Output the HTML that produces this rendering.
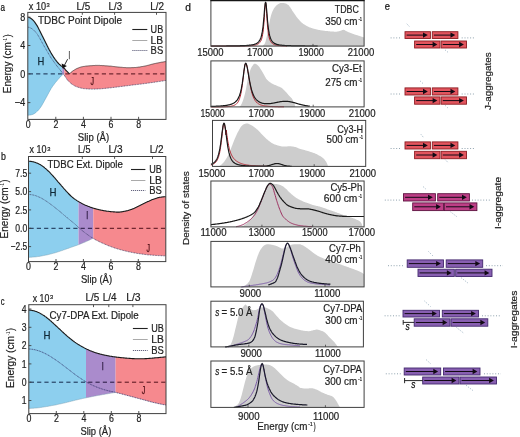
<!DOCTYPE html>
<html lang="en"><head><meta charset="utf-8"><title>Figure</title>
<style>
html,body{margin:0;padding:0;background:#fff;}
svg{display:block;font-family:"Liberation Sans",sans-serif;}
</style></head>
<body>
<svg width="520" height="437" viewBox="0 0 520 437">
<rect x="0" y="0" width="520" height="437" fill="#fff"/>
<polygon points="27.8,17.2 28.2,17.2 28.7,17.3 29.2,17.5 29.7,17.7 29.8,17.7 30.2,17.9 30.7,18.2 31.2,18.6 31.7,19.0 32.2,19.4 32.7,19.9 33.0,20.2 33.2,20.4 33.7,20.9 34.2,21.5 34.7,22.2 35.2,22.9 35.7,23.6 36.2,24.3 36.2,24.4 36.7,25.1 37.2,25.9 37.7,26.8 38.2,27.7 38.6,28.6 39.1,29.5 39.4,30.0 39.6,30.5 40.1,31.4 40.6,32.4 41.1,33.4 41.6,34.4 42.1,35.5 42.6,36.4 42.6,36.5 43.1,37.5 43.6,38.5 44.1,39.5 44.6,40.5 45.1,41.5 45.6,42.5 45.8,42.9 46.1,43.5 46.6,44.5 47.1,45.6 47.6,46.6 48.1,47.6 48.6,48.5 49.0,49.3 49.1,49.5 49.6,50.4 50.1,51.3 50.6,52.2 51.1,53.0 51.6,53.9 52.1,54.7 52.2,54.9 52.6,55.5 53.1,56.3 53.6,57.1 54.1,57.8 54.6,58.5 55.1,59.3 55.4,59.7 55.6,59.9 56.1,60.6 56.6,61.2 57.1,61.9 57.6,62.5 58.1,63.0 58.6,63.6 58.7,63.7 59.1,64.0 59.5,64.5 60.0,64.9 60.5,65.3 61.0,65.7 61.5,66.1 61.9,66.4 62.0,66.5 62.3,66.7 62.3,75.0 61.8,75.4 61.3,75.9 60.8,76.4 60.3,76.9 59.8,77.4 59.6,77.7 59.4,78.0 58.9,78.5 58.4,79.1 57.9,79.6 57.4,80.2 56.9,80.8 56.4,81.4 55.9,82.0 55.8,82.1 55.4,82.6 54.9,83.2 54.4,83.9 53.9,84.6 53.4,85.2 52.9,85.9 52.4,86.6 51.9,87.4 51.4,88.1 51.0,88.8 50.9,88.9 50.5,89.7 50.0,90.5 49.5,91.4 49.0,92.3 48.5,93.3 48.0,94.2 47.5,95.1 47.0,96.0 46.5,97.0 46.2,97.5 46.0,97.9 45.5,98.8 45.0,99.7 44.5,100.6 44.0,101.5 43.5,102.5 43.0,103.3 42.5,104.2 42.0,105.0 41.6,105.8 41.3,106.2 41.1,106.6 40.6,107.3 40.1,108.0 39.6,108.6 39.1,109.3 38.6,109.9 38.1,110.4 37.6,110.9 37.5,111.0 37.1,111.4 36.6,111.8 36.1,112.3 35.6,112.7 35.1,113.1 34.6,113.4 34.1,113.7 33.6,114.0 33.1,114.2 32.7,114.4 32.7,114.4 32.2,114.6 31.7,114.7 31.2,114.8 30.7,114.9 30.2,115.0 29.7,115.1 29.2,115.1 28.7,115.2 28.2,115.2 27.8,115.2" fill="#8dcfee" />
<polygon points="62.3,66.7 62.5,66.9 63.0,67.4 63.5,67.8 64.0,68.2 64.3,68.5 64.3,73.4 63.8,73.8 63.3,74.1 62.8,74.5 62.5,74.8 62.3,75.0 62.3,75.0" fill="#aa8bcc" />
<polygon points="64.3,68.5 64.5,68.7 65.0,69.2 65.5,69.8 66.0,70.3 66.5,70.9 67.0,71.4 67.0,71.4 67.5,71.9 68.0,72.4 68.5,72.9 69.0,73.3 69.5,73.8 70.0,73.3 70.5,72.9 71.0,72.4 71.5,72.0 72.0,71.6 72.5,71.2 72.9,70.9 73.0,70.8 73.5,70.5 74.0,70.2 74.5,69.9 75.0,69.5 75.5,69.3 76.0,69.0 76.5,68.7 77.0,68.5 77.0,68.5 77.5,68.3 78.0,68.1 78.5,67.9 79.0,67.7 79.4,67.5 79.9,67.4 80.4,67.2 80.9,67.1 81.4,66.9 81.9,66.8 82.4,66.7 82.5,66.7 82.9,66.6 83.4,66.5 83.9,66.4 84.4,66.4 84.9,66.3 85.4,66.2 85.9,66.2 86.4,66.1 86.9,66.0 87.4,66.0 87.9,65.9 88.4,65.9 88.9,65.8 89.4,65.8 89.4,65.8 89.9,65.8 90.4,65.7 90.9,65.7 91.4,65.7 91.9,65.6 92.4,65.6 92.9,65.6 93.4,65.5 93.9,65.5 94.4,65.5 94.9,65.5 95.4,65.4 95.9,65.4 96.4,65.4 96.9,65.4 97.4,65.4 97.6,65.4 97.9,65.4 98.4,65.4 98.8,65.4 99.3,65.4 99.8,65.4 100.3,65.5 100.8,65.5 101.3,65.5 101.8,65.5 102.3,65.6 102.8,65.6 103.3,65.6 103.8,65.6 104.3,65.7 104.8,65.7 105.3,65.8 105.8,65.8 106.3,65.8 106.8,65.9 107.3,65.9 107.8,65.9 108.3,66.0 108.6,66.0 108.8,66.0 109.3,66.1 109.8,66.1 110.3,66.1 110.8,66.2 111.3,66.2 111.8,66.3 112.3,66.4 112.8,66.4 113.3,66.5 113.8,66.5 114.3,66.6 114.8,66.6 115.3,66.7 115.8,66.8 116.3,66.8 116.8,66.9 117.3,66.9 117.8,67.0 118.2,67.0 118.7,67.1 119.2,67.1 119.7,67.2 120.0,67.2 120.2,67.2 120.7,67.3 121.2,67.3 121.7,67.3 122.2,67.4 122.7,67.4 123.2,67.5 123.7,67.5 124.2,67.5 124.7,67.6 125.2,67.6 125.7,67.6 126.2,67.7 126.7,67.7 127.2,67.7 127.7,67.7 128.0,67.7 128.2,67.7 128.7,67.7 129.2,67.7 129.7,67.7 130.2,67.7 130.7,67.7 131.2,67.7 131.7,67.6 132.2,67.6 132.7,67.6 133.2,67.6 133.7,67.6 134.2,67.5 134.7,67.5 135.0,67.5 135.2,67.5 135.7,67.5 136.2,67.4 136.7,67.4 137.1,67.3 137.6,67.3 138.1,67.2 138.6,67.1 139.1,67.1 139.6,67.0 140.1,66.9 140.6,66.8 141.1,66.7 141.6,66.6 142.1,66.5 142.6,66.5 143.1,66.4 143.6,66.3 144.1,66.2 144.6,66.1 145.0,66.0 145.1,66.0 145.6,65.9 146.1,65.8 146.6,65.7 147.1,65.5 147.6,65.4 148.1,65.3 148.6,65.2 149.1,65.0 149.6,64.9 150.1,64.8 150.6,64.6 151.1,64.5 151.6,64.3 152.1,64.2 152.6,64.1 153.1,64.0 153.6,63.8 154.1,63.7 154.6,63.6 155.0,63.5 155.1,63.5 155.6,63.4 156.1,63.3 156.5,63.2 157.0,63.1 157.5,63.0 158.0,62.9 158.5,62.8 159.0,62.7 159.5,62.6 160.0,62.5 160.5,62.4 161.0,62.3 161.5,62.2 162.0,62.1 162.5,62.1 163.0,62.0 163.5,61.9 164.0,61.8 164.5,61.7 165.0,61.6 165.5,61.6 166.0,61.5 166.0,80.4 165.5,80.5 165.0,80.6 164.5,80.6 164.0,80.7 163.5,80.8 163.0,80.9 162.5,81.0 162.0,81.0 161.5,81.1 161.0,81.2 160.5,81.3 160.0,81.3 159.5,81.4 159.0,81.5 158.5,81.6 158.0,81.6 157.5,81.7 157.0,81.8 156.5,81.9 156.0,81.9 155.5,82.0 155.0,82.1 154.5,82.2 154.0,82.2 153.5,82.3 153.0,82.4 152.5,82.5 152.0,82.5 151.5,82.6 151.0,82.7 150.5,82.7 150.0,82.8 149.5,82.9 149.0,82.9 148.5,83.0 148.0,83.1 147.5,83.2 147.0,83.2 146.5,83.3 146.0,83.4 145.5,83.4 145.0,83.5 145.0,83.5 144.5,83.6 144.0,83.6 143.5,83.7 143.0,83.8 142.5,83.8 142.0,83.9 141.5,84.0 141.0,84.0 140.5,84.1 140.0,84.1 139.5,84.2 139.0,84.3 138.5,84.3 138.0,84.4 137.5,84.4 137.0,84.5 136.5,84.6 136.0,84.6 135.5,84.7 135.0,84.7 134.5,84.8 134.0,84.9 133.5,84.9 133.0,85.0 132.5,85.0 132.0,85.1 131.6,85.2 131.1,85.2 130.6,85.3 130.1,85.3 129.6,85.4 129.1,85.5 128.6,85.5 128.1,85.6 128.0,85.6 127.6,85.7 127.1,85.7 126.6,85.8 126.1,85.8 125.6,85.9 125.1,86.0 124.6,86.0 124.1,86.1 123.6,86.2 123.1,86.2 122.6,86.3 122.1,86.4 121.6,86.4 121.1,86.5 120.6,86.5 120.1,86.6 119.6,86.7 119.1,86.7 118.6,86.8 118.1,86.9 117.6,86.9 117.1,87.0 116.6,87.1 116.1,87.1 115.6,87.2 115.1,87.2 114.6,87.3 114.1,87.4 113.6,87.4 113.1,87.5 112.6,87.5 112.1,87.6 111.6,87.7 111.1,87.7 110.6,87.8 110.1,87.8 109.6,87.9 109.1,87.9 108.6,88.0 108.6,88.0 108.1,88.1 107.6,88.1 107.1,88.2 106.6,88.2 106.1,88.3 105.6,88.3 105.1,88.4 104.6,88.4 104.1,88.5 103.6,88.5 103.1,88.6 102.6,88.6 102.1,88.7 101.6,88.7 101.1,88.8 100.6,88.8 100.4,88.8 100.1,88.8 99.6,88.8 99.1,88.9 98.6,88.9 98.1,88.9 97.6,88.9 97.1,89.0 96.6,89.0 96.1,89.0 95.6,89.0 95.1,89.0 94.6,89.1 94.1,89.1 93.6,89.1 93.1,89.1 92.6,89.1 92.1,89.1 92.1,89.1 91.6,89.1 91.1,89.1 90.6,89.1 90.1,89.1 89.6,89.0 89.1,89.0 88.6,89.0 88.1,89.0 87.6,88.9 87.1,88.9 86.6,88.8 86.1,88.8 85.6,88.8 85.1,88.7 84.6,88.7 84.1,88.6 83.9,88.6 83.6,88.6 83.1,88.5 82.6,88.4 82.1,88.3 81.6,88.2 81.1,88.1 80.6,88.0 80.1,87.9 79.6,87.7 79.1,87.6 78.6,87.4 78.1,87.3 77.6,87.1 77.1,86.9 77.0,86.9 76.6,86.8 76.1,86.6 75.6,86.3 75.1,86.1 74.6,85.8 74.1,85.6 73.6,85.3 73.1,84.9 72.6,84.6 72.1,84.3 71.6,83.9 71.6,83.9 71.1,83.6 70.6,83.1 70.1,82.7 69.6,82.2 69.1,81.7 68.6,81.2 68.1,80.7 67.6,80.1 67.4,79.8 67.1,79.5 66.6,78.8 66.1,78.0 65.6,77.3 65.1,76.5 64.6,75.7 64.3,75.2" fill="#f6898e" />
<polyline points="27.8,115.2 28.2,115.2 28.7,115.2 29.2,115.1 29.7,115.1 30.2,115.0 30.7,114.9 31.2,114.8 31.7,114.7 32.2,114.6 32.7,114.4 32.7,114.4 33.1,114.2 33.6,114.0 34.1,113.7 34.6,113.4 35.1,113.1 35.6,112.7 36.1,112.3 36.6,111.8 37.1,111.4 37.5,111.0 37.6,110.9 38.1,110.4 38.6,109.9 39.1,109.3 39.6,108.6 40.1,108.0 40.6,107.3 41.1,106.6 41.3,106.2 41.6,105.8 42.0,105.0 42.5,104.2 43.0,103.3 43.5,102.5 44.0,101.5 44.5,100.6 45.0,99.7 45.5,98.8 46.0,97.9 46.2,97.5 46.5,97.0 47.0,96.0 47.5,95.1 48.0,94.2 48.5,93.3 49.0,92.3 49.5,91.4 50.0,90.5 50.5,89.7 50.9,88.9 51.0,88.8 51.4,88.1 51.9,87.4 52.4,86.6 52.9,85.9 53.4,85.2 53.9,84.6 54.4,83.9 54.9,83.2 55.4,82.6 55.8,82.1 55.9,82.0 56.4,81.4 56.9,80.8 57.4,80.2 57.9,79.6 58.4,79.1 58.9,78.5 59.4,78.0 59.6,77.7 59.8,77.4 60.3,76.9 60.8,76.4 61.3,75.9 61.8,75.4 62.3,75.0 62.5,74.8 62.8,74.5 63.3,74.1 63.8,73.8 64.3,73.4" fill="none" stroke="#5a9bb8" stroke-width="0.5" stroke-linejoin="round" />
<polyline points="28.2,27.2 28.7,27.3 29.2,27.4 29.7,27.6 30.2,27.8 30.7,28.1 31.2,28.3 31.4,28.4 31.7,28.6 32.2,28.9 32.7,29.3 33.2,29.7 33.7,30.1 34.2,30.6 34.6,31.0 34.7,31.1 35.2,31.6 35.7,32.2 36.2,32.8 36.7,33.4 37.2,34.1 37.7,34.8 37.8,35.0 38.2,35.6 38.7,36.4 39.2,37.3 39.7,38.2 40.2,39.1 40.7,40.0 41.0,40.6 41.2,40.9 41.7,41.8 42.2,42.7 42.7,43.6 43.2,44.5 43.7,45.4 44.2,46.3 44.2,46.3 44.7,47.1 45.2,48.0 45.7,48.9 46.2,49.7 46.7,50.6 47.2,51.4 47.4,51.8 47.7,52.3 48.2,53.1 48.7,54.0 49.2,54.9 49.7,55.7 50.2,56.5 50.6,57.2 50.7,57.3 51.2,58.1 51.7,58.8 52.2,59.5 52.7,60.2 53.2,60.9 53.7,61.6 53.8,61.8 54.2,62.3 54.7,63.0 55.2,63.7 55.7,64.3 56.2,65.0 56.7,65.7 57.0,66.1 57.2,66.3 57.7,66.9 58.2,67.6 58.7,68.2 59.2,68.8 59.7,69.4 60.2,70.0 60.3,70.2 60.7,70.7 61.2,71.3 61.7,72.0 62.2,72.6 62.7,73.2 62.7,73.3 63.1,73.8 63.6,74.4 64.0,74.8 64.1,75.0 64.6,75.7 65.1,76.5 65.6,77.3 66.1,78.0 66.6,78.8 67.1,79.5 67.4,79.8 67.6,80.1 68.1,80.7 68.6,81.2 69.1,81.7 69.6,82.2 70.1,82.7 70.6,83.1 71.1,83.6 71.6,83.9 71.6,83.9 72.1,84.3 72.6,84.6 73.1,84.9 73.6,85.3 74.1,85.6 74.6,85.8 75.1,86.1 75.6,86.3 76.1,86.6 76.6,86.8 77.0,86.9 77.1,86.9 77.6,87.1 78.1,87.3 78.6,87.4 79.1,87.6 79.6,87.7 80.1,87.9 80.6,88.0 81.1,88.1 81.6,88.2 82.1,88.3 82.6,88.4 83.1,88.5 83.6,88.6 83.9,88.6 84.1,88.6 84.6,88.7 85.1,88.7 85.6,88.8 86.1,88.8 86.6,88.8 87.1,88.9 87.6,88.9 88.1,89.0 88.6,89.0 89.1,89.0 89.6,89.0 90.1,89.1 90.6,89.1 91.1,89.1 91.6,89.1 92.1,89.1 92.1,89.1 92.6,89.1 93.1,89.1 93.6,89.1 94.1,89.1 94.6,89.1 95.1,89.0 95.6,89.0 96.1,89.0 96.6,89.0 97.1,89.0 97.6,88.9 98.1,88.9 98.6,88.9 99.1,88.9 99.6,88.8 100.1,88.8 100.4,88.8 100.6,88.8 101.1,88.8 101.6,88.7 102.1,88.7 102.6,88.6 103.1,88.6 103.6,88.5 104.1,88.5 104.6,88.4 105.1,88.4 105.6,88.3 106.1,88.3 106.6,88.2 107.1,88.2 107.6,88.1 108.1,88.1 108.6,88.0 108.6,88.0 109.1,87.9 109.6,87.9 110.1,87.8 110.6,87.8 111.1,87.7 111.6,87.7 112.1,87.6 112.6,87.5 113.1,87.5 113.6,87.4 114.1,87.4 114.6,87.3 115.1,87.2 115.6,87.2 116.1,87.1 116.6,87.1 117.1,87.0 117.6,86.9 118.1,86.9 118.6,86.8 119.1,86.7 119.6,86.7 120.1,86.6 120.6,86.5 121.1,86.5 121.6,86.4 122.1,86.4 122.6,86.3 123.1,86.2 123.6,86.2 124.1,86.1 124.6,86.0 125.1,86.0 125.6,85.9 126.1,85.8 126.6,85.8 127.1,85.7 127.6,85.7 128.0,85.6 128.1,85.6 128.6,85.5 129.1,85.5 129.6,85.4 130.1,85.3 130.6,85.3 131.1,85.2 131.6,85.2 132.0,85.1 132.5,85.0 133.0,85.0 133.5,84.9 134.0,84.9 134.5,84.8 135.0,84.7 135.5,84.7 136.0,84.6 136.5,84.6 137.0,84.5 137.5,84.4 138.0,84.4 138.5,84.3 139.0,84.3 139.5,84.2 140.0,84.1 140.5,84.1 141.0,84.0 141.5,84.0 142.0,83.9 142.5,83.8 143.0,83.8 143.5,83.7 144.0,83.6 144.5,83.6 145.0,83.5 145.0,83.5 145.5,83.4 146.0,83.4 146.5,83.3 147.0,83.2 147.5,83.2 148.0,83.1 148.5,83.0 149.0,82.9 149.5,82.9 150.0,82.8 150.5,82.7 151.0,82.7 151.5,82.6 152.0,82.5 152.5,82.5 153.0,82.4 153.5,82.3 154.0,82.2 154.5,82.2 155.0,82.1 155.5,82.0 156.0,81.9 156.5,81.9 157.0,81.8 157.5,81.7 158.0,81.6 158.5,81.6 159.0,81.5 159.5,81.4 160.0,81.3 160.5,81.3 161.0,81.2 161.5,81.1 162.0,81.0 162.5,81.0 163.0,80.9 163.5,80.8 164.0,80.7 164.5,80.6 165.0,80.6 165.5,80.5 166.0,80.4" fill="none" stroke="#36365e" stroke-width="0.8" stroke-linejoin="round" stroke-dasharray="0.9,0.7"/>
<polyline points="69.5,73.8 70.0,73.3 70.5,72.9 71.0,72.4 71.5,72.0 72.0,71.6 72.5,71.2 72.9,70.9 73.0,70.8 73.5,70.5 74.0,70.2 74.5,69.9 75.0,69.5 75.5,69.3 76.0,69.0 76.5,68.7 77.0,68.5 77.0,68.5 77.5,68.3 78.0,68.1 78.5,67.9 79.0,67.7 79.4,67.5 79.9,67.4 80.4,67.2 80.9,67.1 81.4,66.9 81.9,66.8 82.4,66.7 82.5,66.7 82.9,66.6 83.4,66.5 83.9,66.4 84.4,66.4 84.9,66.3 85.4,66.2 85.9,66.2 86.4,66.1 86.9,66.0 87.4,66.0 87.9,65.9 88.4,65.9 88.9,65.8 89.4,65.8 89.4,65.8 89.9,65.8 90.4,65.7 90.9,65.7 91.4,65.7 91.9,65.6 92.4,65.6 92.9,65.6 93.4,65.5 93.9,65.5 94.4,65.5 94.9,65.5 95.4,65.4 95.9,65.4 96.4,65.4 96.9,65.4 97.4,65.4 97.6,65.4 97.9,65.4 98.4,65.4 98.8,65.4 99.3,65.4 99.8,65.4 100.3,65.5 100.8,65.5 101.3,65.5 101.8,65.5 102.3,65.6 102.8,65.6 103.3,65.6 103.8,65.6 104.3,65.7 104.8,65.7 105.3,65.8 105.8,65.8 106.3,65.8 106.8,65.9 107.3,65.9 107.8,65.9 108.3,66.0 108.6,66.0 108.8,66.0 109.3,66.1 109.8,66.1 110.3,66.1 110.8,66.2 111.3,66.2 111.8,66.3 112.3,66.4 112.8,66.4 113.3,66.5 113.8,66.5 114.3,66.6 114.8,66.6 115.3,66.7 115.8,66.8 116.3,66.8 116.8,66.9 117.3,66.9 117.8,67.0 118.2,67.0 118.7,67.1 119.2,67.1 119.7,67.2 120.0,67.2 120.2,67.2 120.7,67.3 121.2,67.3 121.7,67.3 122.2,67.4 122.7,67.4 123.2,67.5 123.7,67.5 124.2,67.5 124.7,67.6 125.2,67.6 125.7,67.6 126.2,67.7 126.7,67.7 127.2,67.7 127.7,67.7 128.0,67.7 128.2,67.7 128.7,67.7 129.2,67.7 129.7,67.7 130.2,67.7 130.7,67.7 131.2,67.7 131.7,67.6 132.2,67.6 132.7,67.6 133.2,67.6 133.7,67.6 134.2,67.5 134.7,67.5 135.0,67.5 135.2,67.5 135.7,67.5 136.2,67.4 136.7,67.4 137.1,67.3 137.6,67.3 138.1,67.2 138.6,67.1 139.1,67.1 139.6,67.0 140.1,66.9 140.6,66.8 141.1,66.7 141.6,66.6 142.1,66.5 142.6,66.5 143.1,66.4 143.6,66.3 144.1,66.2 144.6,66.1 145.0,66.0 145.1,66.0 145.6,65.9 146.1,65.8 146.6,65.7 147.1,65.5 147.6,65.4 148.1,65.3 148.6,65.2 149.1,65.0 149.6,64.9 150.1,64.8 150.6,64.6 151.1,64.5 151.6,64.3 152.1,64.2 152.6,64.1 153.1,64.0 153.6,63.8 154.1,63.7 154.6,63.6 155.0,63.5 155.1,63.5 155.6,63.4 156.1,63.3 156.5,63.2 157.0,63.1 157.5,63.0 158.0,62.9 158.5,62.8 159.0,62.7 159.5,62.6 160.0,62.5 160.5,62.4 161.0,62.3 161.5,62.2 162.0,62.1 162.5,62.1 163.0,62.0 163.5,61.9 164.0,61.8 164.5,61.7 165.0,61.6 165.5,61.6 166.0,61.5" fill="none" stroke="#3a2a2a" stroke-width="0.7" stroke-linejoin="round" />
<polyline points="28.2,17.2 28.7,17.3 29.2,17.5 29.7,17.7 29.8,17.7 30.2,17.9 30.7,18.2 31.2,18.6 31.7,19.0 32.2,19.4 32.7,19.9 33.0,20.2 33.2,20.4 33.7,20.9 34.2,21.5 34.7,22.2 35.2,22.9 35.7,23.6 36.2,24.3 36.2,24.4 36.7,25.1 37.2,25.9 37.7,26.8 38.2,27.7 38.6,28.6 39.1,29.5 39.4,30.0 39.6,30.5 40.1,31.4 40.6,32.4 41.1,33.4 41.6,34.4 42.1,35.5 42.6,36.4 42.6,36.5 43.1,37.5 43.6,38.5 44.1,39.5 44.6,40.5 45.1,41.5 45.6,42.5 45.8,42.9 46.1,43.5 46.6,44.5 47.1,45.6 47.6,46.6 48.1,47.6 48.6,48.5 49.0,49.3 49.1,49.5 49.6,50.4 50.1,51.3 50.6,52.2 51.1,53.0 51.6,53.9 52.1,54.7 52.2,54.9 52.6,55.5 53.1,56.3 53.6,57.1 54.1,57.8 54.6,58.5 55.1,59.3 55.4,59.7 55.6,59.9 56.1,60.6 56.6,61.2 57.1,61.9 57.6,62.5 58.1,63.0 58.6,63.6 58.7,63.7 59.1,64.0 59.5,64.5 60.0,64.9 60.5,65.3 61.0,65.7 61.5,66.1 61.9,66.4 62.0,66.5 62.5,66.9 63.0,67.4 63.5,67.8 64.0,68.2 64.3,68.5 64.5,68.7 65.0,69.2 65.5,69.8 66.0,70.3 66.5,70.9 67.0,71.4 67.0,71.4 67.5,71.9 68.0,72.4 68.5,72.9 69.0,73.3 69.5,73.8" fill="none" stroke="#1a1a1a" stroke-width="1.15" stroke-linejoin="round" />
<line x1="28.8" y1="73.9" x2="33.0" y2="73.9" stroke="#14284a" stroke-width="1"/>
<line x1="36.1" y1="73.9" x2="40.3" y2="73.9" stroke="#14284a" stroke-width="1"/>
<line x1="43.4" y1="73.9" x2="47.6" y2="73.9" stroke="#14284a" stroke-width="1"/>
<line x1="50.7" y1="73.9" x2="54.9" y2="73.9" stroke="#14284a" stroke-width="1"/>
<line x1="58.0" y1="73.9" x2="62.2" y2="73.9" stroke="#14284a" stroke-width="1"/>
<line x1="65.3" y1="73.9" x2="69.5" y2="73.9" stroke="#52101a" stroke-width="1"/>
<line x1="72.6" y1="73.9" x2="76.8" y2="73.9" stroke="#52101a" stroke-width="1"/>
<line x1="79.9" y1="73.9" x2="84.1" y2="73.9" stroke="#52101a" stroke-width="1"/>
<line x1="87.2" y1="73.9" x2="91.4" y2="73.9" stroke="#52101a" stroke-width="1"/>
<line x1="94.5" y1="73.9" x2="98.7" y2="73.9" stroke="#52101a" stroke-width="1"/>
<line x1="101.8" y1="73.9" x2="106.0" y2="73.9" stroke="#52101a" stroke-width="1"/>
<line x1="109.1" y1="73.9" x2="113.3" y2="73.9" stroke="#52101a" stroke-width="1"/>
<line x1="116.4" y1="73.9" x2="120.6" y2="73.9" stroke="#52101a" stroke-width="1"/>
<line x1="123.7" y1="73.9" x2="127.9" y2="73.9" stroke="#52101a" stroke-width="1"/>
<line x1="131.0" y1="73.9" x2="135.2" y2="73.9" stroke="#52101a" stroke-width="1"/>
<line x1="138.3" y1="73.9" x2="142.5" y2="73.9" stroke="#52101a" stroke-width="1"/>
<line x1="145.6" y1="73.9" x2="149.8" y2="73.9" stroke="#52101a" stroke-width="1"/>
<line x1="152.9" y1="73.9" x2="157.1" y2="73.9" stroke="#52101a" stroke-width="1"/>
<line x1="160.2" y1="73.9" x2="164.4" y2="73.9" stroke="#52101a" stroke-width="1"/>
<rect x="27.8" y="12.4" width="138.2" height="107.0" fill="none" stroke="#404040" stroke-width="1"/>
<line x1="55.8" y1="119.4" x2="55.8" y2="116.80000000000001" stroke="#404040" stroke-width="0.9"/>
<line x1="83.4" y1="119.4" x2="83.4" y2="116.80000000000001" stroke="#404040" stroke-width="0.9"/>
<line x1="111.0" y1="119.4" x2="111.0" y2="116.80000000000001" stroke="#404040" stroke-width="0.9"/>
<line x1="138.6" y1="119.4" x2="138.6" y2="116.80000000000001" stroke="#404040" stroke-width="0.9"/>
<line x1="27.8" y1="17.2" x2="30.400000000000002" y2="17.2" stroke="#404040" stroke-width="0.9"/>
<line x1="27.8" y1="45.5" x2="30.400000000000002" y2="45.5" stroke="#404040" stroke-width="0.9"/>
<line x1="27.8" y1="73.9" x2="30.400000000000002" y2="73.9" stroke="#404040" stroke-width="0.9"/>
<line x1="27.8" y1="102.6" x2="30.400000000000002" y2="102.6" stroke="#404040" stroke-width="0.9"/>
<line x1="82.3" y1="12.4" x2="82.3" y2="14.8" stroke="#404040" stroke-width="0.9"/>
<line x1="114.6" y1="12.4" x2="114.6" y2="14.8" stroke="#404040" stroke-width="0.9"/>
<line x1="156.5" y1="12.4" x2="156.5" y2="14.8" stroke="#404040" stroke-width="0.9"/>
<line x1="67.6" y1="59.2" x2="64.4" y2="65.3" stroke="#111" stroke-width="0.9"/>
<polygon points="62.7,68.6 61.6,63.4 66.9,65.9" fill="#111"/>
<text x="68.5" y="58.7" font-size="10.4" fill="#111" stroke="#111" stroke-width="0.25" textLength="1.5" lengthAdjust="spacingAndGlyphs">I</text>
<text x="37.6" y="64.6" font-size="10.4" fill="#0f2836" stroke="#0f2836" stroke-width="0.25" textLength="6.8" lengthAdjust="spacingAndGlyphs">H</text>
<text x="90.5" y="84.6" font-size="10.4" fill="#4a0c12" stroke="#4a0c12" stroke-width="0.25" textLength="3.5" lengthAdjust="spacingAndGlyphs">J</text>
<text x="38.0" y="24.3" font-size="10.4" fill="#222" stroke="#222" stroke-width="0.2" textLength="84.0" lengthAdjust="spacingAndGlyphs">TDBC Point Dipole</text>
<line x1="132.3" y1="29.5" x2="147.3" y2="29.5" stroke="#222" stroke-width="1.1"/>
<line x1="132.3" y1="40.5" x2="147.3" y2="40.5" stroke="#555" stroke-width="0.5"/>
<line x1="132.3" y1="50.5" x2="147.3" y2="50.5" stroke="#3d3d60" stroke-width="0.8" stroke-dasharray="1.2,0.8"/>
<text x="150.6" y="33.1" font-size="10.4" fill="#222" stroke="#222" stroke-width="0.2" textLength="12.6" lengthAdjust="spacingAndGlyphs">UB</text>
<text x="150.6" y="44.1" font-size="10.4" fill="#222" stroke="#222" stroke-width="0.2" textLength="12.6" lengthAdjust="spacingAndGlyphs">LB</text>
<text x="150.6" y="54.1" font-size="10.4" fill="#222" stroke="#222" stroke-width="0.2" textLength="12.6" lengthAdjust="spacingAndGlyphs">BS</text>
<text x="28.8" y="9.6" font-size="10.4" fill="#222" stroke="#222" stroke-width="0.2" textLength="17.2" lengthAdjust="spacingAndGlyphs">x 10</text>
<text x="46.6" y="7.4" font-size="5.8" fill="#222" stroke="#222" stroke-width="0.2" textLength="3.2" lengthAdjust="spacingAndGlyphs">3</text>
<text x="76.5" y="9.5" font-size="10.4" fill="#222" stroke="#222" stroke-width="0.2" textLength="13.7" lengthAdjust="spacingAndGlyphs">L/5</text>
<text x="108.6" y="9.5" font-size="10.4" fill="#222" stroke="#222" stroke-width="0.2" textLength="13.4" lengthAdjust="spacingAndGlyphs">L/3</text>
<text x="150.2" y="9.5" font-size="10.4" fill="#222" stroke="#222" stroke-width="0.2" textLength="13.8" lengthAdjust="spacingAndGlyphs">L/2</text>
<text x="0.5" y="11.4" font-size="10.8" fill="#111" stroke="#111" stroke-width="0.22" textLength="4.5" lengthAdjust="spacingAndGlyphs">a</text>
<text x="20.3" y="20.8" font-size="10.4" fill="#222" stroke="#222" stroke-width="0.2" textLength="5.0" lengthAdjust="spacingAndGlyphs">8</text>
<text x="20.3" y="49.1" font-size="10.4" fill="#222" stroke="#222" stroke-width="0.2" textLength="5.0" lengthAdjust="spacingAndGlyphs">4</text>
<text x="20.3" y="77.5" font-size="10.4" fill="#222" stroke="#222" stroke-width="0.2" textLength="5.0" lengthAdjust="spacingAndGlyphs">0</text>
<text x="14.6" y="106.3" font-size="10.4" fill="#222" stroke="#222" stroke-width="0.2" textLength="10.8" lengthAdjust="spacingAndGlyphs">−4</text>
<text x="25.8" y="127.9" font-size="10.4" fill="#222" stroke="#222" stroke-width="0.2" textLength="4.9" lengthAdjust="spacingAndGlyphs">0</text>
<text x="53.4" y="127.9" font-size="10.4" fill="#222" stroke="#222" stroke-width="0.2" textLength="4.9" lengthAdjust="spacingAndGlyphs">2</text>
<text x="81.0" y="127.9" font-size="10.4" fill="#222" stroke="#222" stroke-width="0.2" textLength="4.9" lengthAdjust="spacingAndGlyphs">4</text>
<text x="108.6" y="127.9" font-size="10.4" fill="#222" stroke="#222" stroke-width="0.2" textLength="4.9" lengthAdjust="spacingAndGlyphs">6</text>
<text x="136.2" y="127.9" font-size="10.4" fill="#222" stroke="#222" stroke-width="0.2" textLength="4.9" lengthAdjust="spacingAndGlyphs">8</text>
<text x="77.8" y="140.8" font-size="10.4" fill="#222" stroke="#222" stroke-width="0.2" textLength="31.4" lengthAdjust="spacingAndGlyphs">Slip (Å)</text>
<text transform="translate(10.6,93.2) rotate(-90)" font-size="10.4" fill="#222" stroke="#222" stroke-width="0.2" textLength="51.0" lengthAdjust="spacingAndGlyphs">Energy (cm</text>
<text transform="translate(6.9,41.9) rotate(-90)" font-size="5.2" fill="#222" textLength="4.0" lengthAdjust="spacingAndGlyphs">-1</text>
<text transform="translate(10.6,37.3) rotate(-90)" font-size="10.4" fill="#222" stroke="#222" stroke-width="0.2" textLength="3.0" lengthAdjust="spacingAndGlyphs">)</text>
<polygon points="28.5,161.2 29.0,161.2 29.5,161.3 30.0,161.3 30.5,161.4 31.0,161.4 31.5,161.5 32.0,161.6 32.5,161.7 33.0,161.8 33.0,161.8 33.5,161.9 34.0,162.0 34.5,162.2 35.0,162.3 35.5,162.5 36.0,162.7 36.5,162.9 37.0,163.1 37.5,163.3 38.0,163.5 38.0,163.5 38.5,163.7 39.0,164.0 39.5,164.2 40.0,164.5 40.5,164.8 41.0,165.1 41.5,165.5 42.0,165.8 42.5,166.1 43.0,166.5 43.0,166.5 43.5,166.8 44.0,167.2 44.5,167.6 45.0,168.1 45.5,168.5 46.0,168.9 46.5,169.4 47.0,169.8 47.5,170.3 48.0,170.8 48.0,170.8 48.5,171.2 49.0,171.7 49.5,172.2 50.0,172.7 50.5,173.3 51.0,173.8 51.5,174.3 52.0,174.9 52.5,175.4 53.0,176.0 53.0,176.0 53.5,176.5 54.0,177.1 54.5,177.7 55.0,178.2 55.5,178.8 56.0,179.4 56.5,180.0 57.0,180.6 57.5,181.2 58.0,181.8 58.0,181.8 58.5,182.3 59.0,182.9 59.5,183.5 60.0,184.0 60.5,184.6 61.0,185.2 61.5,185.8 62.0,186.3 62.5,186.9 62.9,187.4 63.0,187.5 63.4,188.0 63.9,188.6 64.4,189.1 64.9,189.7 65.4,190.2 65.9,190.8 66.4,191.4 66.9,191.9 67.4,192.4 67.9,192.9 68.0,193.0 68.4,193.5 68.9,194.0 69.4,194.5 69.9,195.0 70.4,195.5 70.9,196.0 71.4,196.4 71.9,196.9 72.4,197.3 72.9,197.7 73.0,197.8 73.4,198.1 73.9,198.5 74.4,198.9 74.9,199.2 75.4,199.6 75.9,199.9 76.4,200.2 76.9,200.6 77.4,200.9 77.9,201.2 78.4,201.5 78.5,201.5 78.5,244.7 78.1,244.8 77.6,245.0 77.1,245.2 76.6,245.4 76.2,245.6 75.7,245.7 75.2,245.9 74.7,246.1 74.2,246.2 73.7,246.4 73.2,246.6 72.7,246.8 72.2,246.9 72.0,247.0 71.7,247.1 71.2,247.3 70.7,247.5 70.2,247.6 69.7,247.8 69.2,248.0 68.7,248.2 68.2,248.4 67.7,248.5 67.2,248.7 66.7,248.9 66.2,249.1 65.7,249.2 65.2,249.4 65.0,249.5 64.7,249.6 64.2,249.8 63.7,249.9 63.2,250.1 62.8,250.3 62.3,250.5 61.8,250.6 61.3,250.8 60.8,251.0 60.3,251.1 59.8,251.3 59.3,251.5 58.8,251.6 58.3,251.8 57.8,252.0 57.3,252.1 56.8,252.3 56.3,252.4 55.8,252.6 55.3,252.7 55.0,252.8 54.8,252.9 54.3,253.0 53.8,253.1 53.3,253.3 52.8,253.4 52.3,253.5 51.8,253.7 51.3,253.8 50.8,253.9 50.3,254.1 49.8,254.2 49.3,254.3 48.9,254.4 48.4,254.6 47.9,254.7 47.4,254.8 46.9,254.9 46.4,255.0 45.9,255.1 45.4,255.2 45.0,255.3 44.9,255.3 44.4,255.4 43.9,255.5 43.4,255.6 42.9,255.7 42.4,255.8 41.9,255.9 41.4,256.0 40.9,256.1 40.4,256.2 39.9,256.3 39.4,256.4 38.9,256.4 38.4,256.5 37.9,256.6 37.4,256.6 36.9,256.7 36.4,256.8 36.0,256.8 35.9,256.8 35.4,256.9 35.0,256.9 34.5,256.9 34.0,257.0 33.5,257.0 33.0,257.1 32.5,257.1 32.0,257.1 31.5,257.2 31.0,257.2 30.5,257.2 30.0,257.3 29.5,257.3 29.0,257.3 28.5,257.3" fill="#8dcfee" />
<polygon points="78.5,201.5 78.8,201.7 78.9,201.8 79.4,202.1 79.9,202.4 80.4,202.6 80.9,202.9 81.4,203.2 81.9,203.5 82.4,203.7 82.9,204.0 83.4,204.2 83.9,204.5 84.4,204.7 84.9,205.0 85.0,205.0 85.4,205.2 85.9,205.4 86.4,205.6 86.9,205.8 87.4,206.0 87.9,206.2 88.4,206.4 88.9,206.6 89.4,206.8 89.9,207.0 90.4,207.2 90.9,207.4 91.4,207.5 91.9,207.7 92.4,207.9 92.5,207.9 92.9,208.0 93.3,208.1 93.3,238.2 93.0,238.4 92.5,238.6 92.5,238.6 92.0,238.8 91.5,239.0 91.0,239.3 90.5,239.5 90.1,239.7 89.6,240.0 89.1,240.2 88.6,240.4 88.1,240.7 87.6,240.9 87.1,241.1 86.6,241.3 86.1,241.6 86.0,241.6 85.6,241.8 85.1,242.0 84.6,242.2 84.1,242.4 83.6,242.6 83.1,242.9 82.6,243.1 82.1,243.3 81.6,243.5 81.1,243.7 80.6,243.9 80.1,244.1 79.6,244.3 79.1,244.5 78.8,244.6 78.6,244.7 78.5,244.7" fill="#aa8bcc" />
<polygon points="93.3,208.1 93.4,208.2 93.9,208.3 94.4,208.5 94.9,208.6 95.4,208.8 95.9,208.9 96.4,209.0 96.9,209.2 97.4,209.3 97.9,209.4 98.4,209.5 98.9,209.7 99.4,209.8 99.9,209.9 100.0,209.9 100.4,210.0 100.9,210.1 101.4,210.2 101.9,210.3 102.4,210.4 102.9,210.5 103.4,210.6 103.9,210.7 104.4,210.8 104.9,210.9 105.4,210.9 105.9,211.0 106.4,211.1 106.9,211.2 107.4,211.2 107.9,211.3 108.0,211.3 108.4,211.3 108.9,211.4 109.4,211.5 109.9,211.5 110.4,211.6 110.9,211.6 111.4,211.7 111.9,211.7 112.4,211.8 112.9,211.8 113.4,211.9 113.9,211.9 114.4,211.9 114.9,212.0 115.4,212.0 115.9,212.0 116.4,212.1 116.9,212.1 117.4,212.1 117.9,212.1 118.4,212.1 118.5,212.1 118.9,212.1 119.4,212.1 119.9,212.0 120.4,212.0 120.9,211.9 121.4,211.9 121.9,211.8 122.4,211.7 122.9,211.6 123.4,211.5 123.9,211.4 124.4,211.3 124.9,211.2 125.4,211.1 125.9,211.0 126.0,211.0 126.4,210.9 126.9,210.8 127.4,210.7 127.9,210.6 128.4,210.4 128.9,210.3 129.4,210.1 129.9,209.9 130.4,209.8 130.9,209.6 131.4,209.4 131.8,209.2 132.3,209.0 132.8,208.9 133.0,208.8 133.3,208.7 133.8,208.5 134.3,208.3 134.8,208.0 135.3,207.8 135.8,207.6 136.3,207.3 136.8,207.1 137.3,206.8 137.8,206.6 138.3,206.3 138.8,206.1 139.3,205.8 139.8,205.6 140.0,205.5 140.3,205.3 140.8,205.1 141.3,204.8 141.8,204.6 142.3,204.3 142.8,204.1 143.3,203.8 143.8,203.6 144.3,203.3 144.8,203.1 145.3,202.8 145.8,202.6 146.3,202.3 146.8,202.1 147.0,202.0 147.3,201.8 147.8,201.6 148.3,201.4 148.8,201.2 149.3,200.9 149.8,200.7 150.3,200.5 150.8,200.3 151.3,200.0 151.8,199.8 152.3,199.6 152.8,199.4 153.3,199.2 153.8,199.1 154.0,199.0 154.3,198.9 154.8,198.7 155.3,198.6 155.8,198.4 156.3,198.2 156.8,198.1 157.3,197.9 157.8,197.8 158.3,197.6 158.8,197.5 159.3,197.4 159.8,197.3 160.0,197.3 160.3,197.3 160.8,197.2 161.3,197.1 161.8,197.0 162.3,197.0 162.8,196.9 163.3,196.9 163.8,196.8 164.3,196.8 164.8,196.7 165.3,196.7 165.8,196.7 165.8,255.8 165.3,255.8 164.8,255.8 164.3,255.8 163.8,255.8 163.3,255.8 162.8,255.7 162.3,255.7 161.8,255.7 161.3,255.7 160.8,255.7 160.3,255.6 159.8,255.6 159.3,255.6 158.8,255.6 158.3,255.6 157.8,255.5 157.3,255.5 156.8,255.5 156.3,255.4 155.8,255.4 155.3,255.4 154.8,255.3 154.3,255.3 153.8,255.3 153.3,255.2 152.8,255.2 152.3,255.2 151.8,255.1 151.3,255.1 150.8,255.1 150.3,255.0 150.0,255.0 149.8,255.0 149.3,254.9 148.8,254.9 148.3,254.9 147.8,254.8 147.3,254.8 146.8,254.7 146.3,254.6 145.8,254.6 145.3,254.5 144.8,254.5 144.3,254.4 143.8,254.3 143.3,254.3 142.8,254.2 142.3,254.1 141.8,254.1 141.3,254.0 140.8,253.9 140.3,253.8 140.0,253.8 139.8,253.8 139.3,253.7 138.8,253.6 138.3,253.5 137.8,253.5 137.3,253.4 136.8,253.3 136.3,253.2 135.8,253.1 135.3,253.0 134.8,252.9 134.3,252.9 133.8,252.8 133.3,252.7 132.8,252.6 132.3,252.5 131.8,252.4 131.4,252.3 130.9,252.2 130.4,252.1 130.0,252.0 129.9,252.0 129.4,251.9 128.9,251.8 128.4,251.7 127.9,251.5 127.4,251.4 126.9,251.3 126.4,251.2 125.9,251.1 125.4,251.0 124.9,250.9 124.4,250.7 123.9,250.6 123.4,250.5 122.9,250.4 122.4,250.2 121.9,250.1 121.4,250.0 120.9,249.8 120.4,249.7 120.0,249.6 119.9,249.6 119.4,249.4 118.9,249.3 118.4,249.1 117.9,249.0 117.4,248.8 116.9,248.7 116.4,248.5 115.9,248.4 115.4,248.2 114.9,248.0 114.4,247.9 113.9,247.7 113.4,247.5 112.9,247.3 112.4,247.2 111.9,247.0 111.4,246.8 110.9,246.6 110.4,246.4 110.0,246.3 109.9,246.3 109.4,246.1 108.9,245.9 108.4,245.7 107.9,245.5 107.4,245.3 106.9,245.1 106.4,244.9 105.9,244.7 105.4,244.4 104.9,244.2 104.4,244.0 103.9,243.8 103.4,243.6 102.9,243.3 102.4,243.1 101.9,242.9 101.4,242.7 100.9,242.4 100.4,242.2 100.0,242.0 99.9,242.0 99.4,241.7 98.9,241.5 98.4,241.2 97.9,241.0 97.4,240.7 96.9,240.5 96.4,240.2 95.9,239.9 95.4,239.7 94.9,239.4 94.4,239.1 93.9,238.8 93.4,238.5 93.3,238.5" fill="#f6898e" />
<polyline points="28.5,194.4 29.0,194.4 29.5,194.5 30.0,194.5 30.5,194.6 31.0,194.6 31.5,194.7 32.0,194.8 32.5,194.9 33.0,195.0 33.5,195.1 34.0,195.2 34.0,195.2 34.5,195.3 35.0,195.4 35.5,195.6 36.0,195.8 36.5,196.0 37.0,196.2 37.5,196.4 38.0,196.6 38.5,196.8 39.0,197.0 39.5,197.3 40.0,197.5 40.0,197.5 40.5,197.7 41.0,198.0 41.5,198.2 42.0,198.5 42.5,198.8 43.0,199.1 43.5,199.4 44.0,199.7 44.5,200.0 45.0,200.3 45.5,200.7 46.0,201.0 46.0,201.0 46.5,201.3 47.0,201.6 47.5,202.0 48.0,202.3 48.5,202.7 49.0,203.0 49.5,203.4 50.0,203.8 50.5,204.2 51.0,204.5 51.5,204.9 52.0,205.3 52.0,205.3 52.5,205.6 53.0,206.0 53.5,206.4 54.0,206.8 54.5,207.2 55.0,207.6 55.5,208.0 56.0,208.4 56.5,208.8 57.0,209.2 57.5,209.6 58.0,210.0 58.0,210.0 58.5,210.4 59.0,210.8 59.5,211.2 60.0,211.6 60.5,212.0 61.0,212.4 61.5,212.9 62.0,213.3 62.5,213.7 62.9,214.1 63.4,214.5 63.9,215.0 64.0,215.0 64.4,215.4 64.9,215.8 65.4,216.2 65.9,216.6 66.4,217.0 66.9,217.5 67.4,217.9 67.9,218.3 68.4,218.7 68.9,219.1 69.4,219.5 69.9,219.9 70.0,220.0 70.4,220.4 70.9,220.8 71.4,221.2 71.9,221.6 72.4,222.0 72.9,222.4 73.4,222.8 73.9,223.2 74.4,223.6 74.9,224.1 75.4,224.5 75.9,224.9 76.0,225.0 76.4,225.4 76.9,225.9 77.4,226.3 77.9,226.8 78.4,227.3 78.9,227.8 79.4,228.2 79.5,228.3 79.9,228.7 80.4,229.1 80.9,229.5 81.4,229.9 81.9,230.3 82.4,230.7 82.9,231.1 83.4,231.5 83.9,231.9 84.4,232.3 84.9,232.7 85.4,233.1 85.9,233.4 86.0,233.5 86.4,233.8 86.9,234.2 87.4,234.5 87.9,234.9 88.4,235.3 88.9,235.6 89.4,236.0 89.9,236.3 90.4,236.7 90.9,237.0 91.4,237.3 91.9,237.6 92.4,237.9 92.5,238.0 92.9,238.2 93.4,238.5 93.9,238.8 94.4,239.1 94.9,239.4 95.4,239.7 95.9,239.9 96.4,240.2 96.9,240.5 97.4,240.7 97.9,241.0 98.4,241.2 98.9,241.5 99.4,241.7 99.9,242.0 100.0,242.0 100.4,242.2 100.9,242.4 101.4,242.7 101.9,242.9 102.4,243.1 102.9,243.3 103.4,243.6 103.9,243.8 104.4,244.0 104.9,244.2 105.4,244.4 105.9,244.7 106.4,244.9 106.9,245.1 107.4,245.3 107.9,245.5 108.4,245.7 108.9,245.9 109.4,246.1 109.9,246.3 110.0,246.3 110.4,246.4 110.9,246.6 111.4,246.8 111.9,247.0 112.4,247.2 112.9,247.3 113.4,247.5 113.9,247.7 114.4,247.9 114.9,248.0 115.4,248.2 115.9,248.4 116.4,248.5 116.9,248.7 117.4,248.8 117.9,249.0 118.4,249.1 118.9,249.3 119.4,249.4 119.9,249.6 120.0,249.6 120.4,249.7 120.9,249.8 121.4,250.0 121.9,250.1 122.4,250.2 122.9,250.4 123.4,250.5 123.9,250.6 124.4,250.7 124.9,250.9 125.4,251.0 125.9,251.1 126.4,251.2 126.9,251.3 127.4,251.4 127.9,251.5 128.4,251.7 128.9,251.8 129.4,251.9 129.9,252.0 130.0,252.0 130.4,252.1 130.9,252.2 131.4,252.3 131.8,252.4 132.3,252.5 132.8,252.6 133.3,252.7 133.8,252.8 134.3,252.9 134.8,252.9 135.3,253.0 135.8,253.1 136.3,253.2 136.8,253.3 137.3,253.4 137.8,253.5 138.3,253.5 138.8,253.6 139.3,253.7 139.8,253.8 140.0,253.8 140.3,253.8 140.8,253.9 141.3,254.0 141.8,254.1 142.3,254.1 142.8,254.2 143.3,254.3 143.8,254.3 144.3,254.4 144.8,254.5 145.3,254.5 145.8,254.6 146.3,254.6 146.8,254.7 147.3,254.8 147.8,254.8 148.3,254.9 148.8,254.9 149.3,254.9 149.8,255.0 150.0,255.0 150.3,255.0 150.8,255.1 151.3,255.1 151.8,255.1 152.3,255.2 152.8,255.2 153.3,255.2 153.8,255.3 154.3,255.3 154.8,255.3 155.3,255.4 155.8,255.4 156.3,255.4 156.8,255.5 157.3,255.5 157.8,255.5 158.3,255.6 158.8,255.6 159.3,255.6 159.8,255.6 160.3,255.6 160.8,255.7 161.3,255.7 161.8,255.7 162.3,255.7 162.8,255.7 163.3,255.8 163.8,255.8 164.3,255.8 164.8,255.8 165.3,255.8 165.8,255.8" fill="none" stroke="#36365e" stroke-width="0.8" stroke-linejoin="round" stroke-dasharray="0.9,0.7"/>
<polyline points="28.5,257.3 29.0,257.3 29.5,257.3 30.0,257.3 30.5,257.2 31.0,257.2 31.5,257.2 32.0,257.1 32.5,257.1 33.0,257.1 33.5,257.0 34.0,257.0 34.5,256.9 35.0,256.9 35.4,256.9 35.9,256.8 36.0,256.8 36.4,256.8 36.9,256.7 37.4,256.6 37.9,256.6 38.4,256.5 38.9,256.4 39.4,256.4 39.9,256.3 40.4,256.2 40.9,256.1 41.4,256.0 41.9,255.9 42.4,255.8 42.9,255.7 43.4,255.6 43.9,255.5 44.4,255.4 44.9,255.3 45.0,255.3 45.4,255.2 45.9,255.1 46.4,255.0 46.9,254.9 47.4,254.8 47.9,254.7 48.4,254.6 48.9,254.4 49.3,254.3 49.8,254.2 50.3,254.1 50.8,253.9 51.3,253.8 51.8,253.7 52.3,253.5 52.8,253.4 53.3,253.3 53.8,253.1 54.3,253.0 54.8,252.9 55.0,252.8 55.3,252.7 55.8,252.6 56.3,252.4 56.8,252.3 57.3,252.1 57.8,252.0 58.3,251.8 58.8,251.6 59.3,251.5 59.8,251.3 60.3,251.1 60.8,251.0 61.3,250.8 61.8,250.6 62.3,250.5 62.8,250.3 63.2,250.1 63.7,249.9 64.2,249.8 64.7,249.6 65.0,249.5 65.2,249.4 65.7,249.2 66.2,249.1 66.7,248.9 67.2,248.7 67.7,248.5 68.2,248.4 68.7,248.2 69.2,248.0 69.7,247.8 70.2,247.6 70.7,247.5 71.2,247.3 71.7,247.1 72.0,247.0 72.2,246.9 72.7,246.8 73.2,246.6 73.7,246.4 74.2,246.2 74.7,246.1 75.2,245.9 75.7,245.7 76.2,245.6 76.6,245.4 77.1,245.2 77.6,245.0 78.1,244.8 78.6,244.7 78.8,244.6 79.1,244.5 79.6,244.3 80.1,244.1 80.6,243.9 81.1,243.7 81.6,243.5 82.1,243.3 82.6,243.1 83.1,242.9 83.6,242.6 84.1,242.4 84.6,242.2 85.1,242.0 85.6,241.8 86.0,241.6 86.1,241.6 86.6,241.3 87.1,241.1 87.6,240.9 88.1,240.7 88.6,240.4 89.1,240.2 89.6,240.0 90.1,239.7 90.5,239.5 91.0,239.3 91.5,239.0 92.0,238.8 92.5,238.6 92.5,238.6 93.0,238.4 93.3,238.2" fill="none" stroke="#7d9fb0" stroke-width="0.5" stroke-linejoin="round" />
<polyline points="28.5,161.2 29.0,161.2 29.5,161.3 30.0,161.3 30.5,161.4 31.0,161.4 31.5,161.5 32.0,161.6 32.5,161.7 33.0,161.8 33.0,161.8 33.5,161.9 34.0,162.0 34.5,162.2 35.0,162.3 35.5,162.5 36.0,162.7 36.5,162.9 37.0,163.1 37.5,163.3 38.0,163.5 38.0,163.5 38.5,163.7 39.0,164.0 39.5,164.2 40.0,164.5 40.5,164.8 41.0,165.1 41.5,165.5 42.0,165.8 42.5,166.1 43.0,166.5 43.0,166.5 43.5,166.8 44.0,167.2 44.5,167.6 45.0,168.1 45.5,168.5 46.0,168.9 46.5,169.4 47.0,169.8 47.5,170.3 48.0,170.8 48.0,170.8 48.5,171.2 49.0,171.7 49.5,172.2 50.0,172.7 50.5,173.3 51.0,173.8 51.5,174.3 52.0,174.9 52.5,175.4 53.0,176.0 53.0,176.0 53.5,176.5 54.0,177.1 54.5,177.7 55.0,178.2 55.5,178.8 56.0,179.4 56.5,180.0 57.0,180.6 57.5,181.2 58.0,181.8 58.0,181.8 58.5,182.3 59.0,182.9 59.5,183.5 60.0,184.0 60.5,184.6 61.0,185.2 61.5,185.8 62.0,186.3 62.5,186.9 62.9,187.4 63.0,187.5 63.4,188.0 63.9,188.6 64.4,189.1 64.9,189.7 65.4,190.2 65.9,190.8 66.4,191.4 66.9,191.9 67.4,192.4 67.9,192.9 68.0,193.0 68.4,193.5 68.9,194.0 69.4,194.5 69.9,195.0 70.4,195.5 70.9,196.0 71.4,196.4 71.9,196.9 72.4,197.3 72.9,197.7 73.0,197.8 73.4,198.1 73.9,198.5 74.4,198.9 74.9,199.2 75.4,199.6 75.9,199.9 76.4,200.2 76.9,200.6 77.4,200.9 77.9,201.2 78.4,201.5 78.8,201.7 78.9,201.8 79.4,202.1 79.9,202.4 80.4,202.6 80.9,202.9 81.4,203.2 81.9,203.5 82.4,203.7 82.9,204.0 83.4,204.2 83.9,204.5 84.4,204.7 84.9,205.0 85.0,205.0 85.4,205.2 85.9,205.4 86.4,205.6 86.9,205.8 87.4,206.0 87.9,206.2 88.4,206.4 88.9,206.6 89.4,206.8 89.9,207.0 90.4,207.2 90.9,207.4 91.4,207.5 91.9,207.7 92.4,207.9 92.5,207.9 92.9,208.0 93.4,208.2 93.9,208.3 94.4,208.5 94.9,208.6 95.4,208.8 95.9,208.9 96.4,209.0 96.9,209.2 97.4,209.3 97.9,209.4 98.4,209.5 98.9,209.7 99.4,209.8 99.9,209.9 100.0,209.9 100.4,210.0 100.9,210.1 101.4,210.2 101.9,210.3 102.4,210.4 102.9,210.5 103.4,210.6 103.9,210.7 104.4,210.8 104.9,210.9 105.4,210.9 105.9,211.0 106.4,211.1 106.9,211.2 107.4,211.2 107.9,211.3 108.0,211.3 108.4,211.3 108.9,211.4 109.4,211.5 109.9,211.5 110.4,211.6 110.9,211.6 111.4,211.7 111.9,211.7 112.4,211.8 112.9,211.8 113.4,211.9 113.9,211.9 114.4,211.9 114.9,212.0 115.4,212.0 115.9,212.0 116.4,212.1 116.9,212.1 117.4,212.1 117.9,212.1 118.4,212.1 118.5,212.1 118.9,212.1 119.4,212.1 119.9,212.0 120.4,212.0 120.9,211.9 121.4,211.9 121.9,211.8 122.4,211.7 122.9,211.6 123.4,211.5 123.9,211.4 124.4,211.3 124.9,211.2 125.4,211.1 125.9,211.0 126.0,211.0 126.4,210.9 126.9,210.8 127.4,210.7 127.9,210.6 128.4,210.4 128.9,210.3 129.4,210.1 129.9,209.9 130.4,209.8 130.9,209.6 131.4,209.4 131.8,209.2 132.3,209.0 132.8,208.9 133.0,208.8 133.3,208.7 133.8,208.5 134.3,208.3 134.8,208.0 135.3,207.8 135.8,207.6 136.3,207.3 136.8,207.1 137.3,206.8 137.8,206.6 138.3,206.3 138.8,206.1 139.3,205.8 139.8,205.6 140.0,205.5 140.3,205.3 140.8,205.1 141.3,204.8 141.8,204.6 142.3,204.3 142.8,204.1 143.3,203.8 143.8,203.6 144.3,203.3 144.8,203.1 145.3,202.8 145.8,202.6 146.3,202.3 146.8,202.1 147.0,202.0 147.3,201.8 147.8,201.6 148.3,201.4 148.8,201.2 149.3,200.9 149.8,200.7 150.3,200.5 150.8,200.3 151.3,200.0 151.8,199.8 152.3,199.6 152.8,199.4 153.3,199.2 153.8,199.1 154.0,199.0 154.3,198.9 154.8,198.7 155.3,198.6 155.8,198.4 156.3,198.2 156.8,198.1 157.3,197.9 157.8,197.8 158.3,197.6 158.8,197.5 159.3,197.4 159.8,197.3 160.0,197.3 160.3,197.3 160.8,197.2 161.3,197.1 161.8,197.0 162.3,197.0 162.8,196.9 163.3,196.9 163.8,196.8 164.3,196.8 164.8,196.7 165.3,196.7 165.8,196.7" fill="none" stroke="#1a1a1a" stroke-width="1.1" stroke-linejoin="round" />
<line x1="29.5" y1="228.3" x2="33.7" y2="228.3" stroke="#14284a" stroke-width="1"/>
<line x1="36.8" y1="228.3" x2="41.0" y2="228.3" stroke="#14284a" stroke-width="1"/>
<line x1="44.1" y1="228.3" x2="48.3" y2="228.3" stroke="#14284a" stroke-width="1"/>
<line x1="51.4" y1="228.3" x2="55.6" y2="228.3" stroke="#14284a" stroke-width="1"/>
<line x1="58.7" y1="228.3" x2="62.9" y2="228.3" stroke="#14284a" stroke-width="1"/>
<line x1="66.0" y1="228.3" x2="70.2" y2="228.3" stroke="#14284a" stroke-width="1"/>
<line x1="73.3" y1="228.3" x2="77.5" y2="228.3" stroke="#14284a" stroke-width="1"/>
<line x1="80.6" y1="228.3" x2="84.8" y2="228.3" stroke="#22143c" stroke-width="1"/>
<line x1="87.9" y1="228.3" x2="92.1" y2="228.3" stroke="#22143c" stroke-width="1"/>
<line x1="95.2" y1="228.3" x2="99.4" y2="228.3" stroke="#52101a" stroke-width="1"/>
<line x1="102.5" y1="228.3" x2="106.7" y2="228.3" stroke="#52101a" stroke-width="1"/>
<line x1="109.8" y1="228.3" x2="114.0" y2="228.3" stroke="#52101a" stroke-width="1"/>
<line x1="117.1" y1="228.3" x2="121.3" y2="228.3" stroke="#52101a" stroke-width="1"/>
<line x1="124.4" y1="228.3" x2="128.6" y2="228.3" stroke="#52101a" stroke-width="1"/>
<line x1="131.7" y1="228.3" x2="135.9" y2="228.3" stroke="#52101a" stroke-width="1"/>
<line x1="139.0" y1="228.3" x2="143.2" y2="228.3" stroke="#52101a" stroke-width="1"/>
<line x1="146.3" y1="228.3" x2="150.5" y2="228.3" stroke="#52101a" stroke-width="1"/>
<line x1="153.6" y1="228.3" x2="157.8" y2="228.3" stroke="#52101a" stroke-width="1"/>
<line x1="160.9" y1="228.3" x2="165.1" y2="228.3" stroke="#52101a" stroke-width="1"/>
<rect x="28.5" y="156.5" width="137.3" height="105.10000000000002" fill="none" stroke="#404040" stroke-width="1"/>
<line x1="56.0" y1="261.6" x2="56.0" y2="259.0" stroke="#404040" stroke-width="0.9"/>
<line x1="83.4" y1="261.6" x2="83.4" y2="259.0" stroke="#404040" stroke-width="0.9"/>
<line x1="110.9" y1="261.6" x2="110.9" y2="259.0" stroke="#404040" stroke-width="0.9"/>
<line x1="138.3" y1="261.6" x2="138.3" y2="259.0" stroke="#404040" stroke-width="0.9"/>
<line x1="28.5" y1="173.2" x2="31.1" y2="173.2" stroke="#404040" stroke-width="0.9"/>
<line x1="28.5" y1="191.6" x2="31.1" y2="191.6" stroke="#404040" stroke-width="0.9"/>
<line x1="28.5" y1="209.9" x2="31.1" y2="209.9" stroke="#404040" stroke-width="0.9"/>
<line x1="28.5" y1="228.3" x2="31.1" y2="228.3" stroke="#404040" stroke-width="0.9"/>
<line x1="28.5" y1="246.6" x2="31.1" y2="246.6" stroke="#404040" stroke-width="0.9"/>
<line x1="82.3" y1="156.5" x2="82.3" y2="158.9" stroke="#404040" stroke-width="0.9"/>
<line x1="114.6" y1="156.5" x2="114.6" y2="158.9" stroke="#404040" stroke-width="0.9"/>
<line x1="152.5" y1="156.5" x2="152.5" y2="158.9" stroke="#404040" stroke-width="0.9"/>
<text x="49.5" y="196.0" font-size="10.4" fill="#0f2836" stroke="#0f2836" stroke-width="0.25" textLength="7.0" lengthAdjust="spacingAndGlyphs">H</text>
<text x="86.2" y="218.5" font-size="10.4" fill="#231238" stroke="#231238" stroke-width="0.25" textLength="2.0" lengthAdjust="spacingAndGlyphs">I</text>
<text x="146.5" y="252.4" font-size="10.4" fill="#4a0c12" stroke="#4a0c12" stroke-width="0.25" textLength="3.5" lengthAdjust="spacingAndGlyphs">J</text>
<text x="47.5" y="168.4" font-size="10.4" fill="#222" stroke="#222" stroke-width="0.2" textLength="75.3" lengthAdjust="spacingAndGlyphs">TDBC Ext. Dipole</text>
<line x1="131" y1="169.5" x2="145.4" y2="169.5" stroke="#222" stroke-width="1.1"/>
<line x1="131" y1="180.5" x2="145.4" y2="180.5" stroke="#555" stroke-width="0.5"/>
<line x1="131" y1="190.5" x2="145.4" y2="190.5" stroke="#3d3d60" stroke-width="0.8" stroke-dasharray="1.2,0.8"/>
<text x="149.2" y="173.1" font-size="10.4" fill="#222" stroke="#222" stroke-width="0.2" textLength="12.6" lengthAdjust="spacingAndGlyphs">UB</text>
<text x="149.2" y="184.1" font-size="10.4" fill="#222" stroke="#222" stroke-width="0.2" textLength="12.6" lengthAdjust="spacingAndGlyphs">LB</text>
<text x="149.2" y="194.1" font-size="10.4" fill="#222" stroke="#222" stroke-width="0.2" textLength="12.6" lengthAdjust="spacingAndGlyphs">BS</text>
<text x="29.6" y="152.7" font-size="10.4" fill="#222" stroke="#222" stroke-width="0.2" textLength="17.0" lengthAdjust="spacingAndGlyphs">x 10</text>
<text x="47.2" y="150.5" font-size="5.8" fill="#222" stroke="#222" stroke-width="0.2" textLength="3.2" lengthAdjust="spacingAndGlyphs">3</text>
<text x="77.9" y="152.6" font-size="10.4" fill="#222" stroke="#222" stroke-width="0.2" textLength="12.5" lengthAdjust="spacingAndGlyphs">L/5</text>
<text x="108.5" y="152.6" font-size="10.4" fill="#222" stroke="#222" stroke-width="0.2" textLength="14.0" lengthAdjust="spacingAndGlyphs">L/3</text>
<text x="149.8" y="152.6" font-size="10.4" fill="#222" stroke="#222" stroke-width="0.2" textLength="13.8" lengthAdjust="spacingAndGlyphs">L/2</text>
<text x="0.9" y="159.5" font-size="10.8" fill="#111" stroke="#111" stroke-width="0.22" textLength="4.9" lengthAdjust="spacingAndGlyphs">b</text>
<text x="15.2" y="176.8" font-size="10.4" fill="#222" stroke="#222" stroke-width="0.2" textLength="12.0" lengthAdjust="spacingAndGlyphs">7.5</text>
<text x="15.2" y="195.2" font-size="10.4" fill="#222" stroke="#222" stroke-width="0.2" textLength="12.0" lengthAdjust="spacingAndGlyphs">5.0</text>
<text x="15.2" y="213.5" font-size="10.4" fill="#222" stroke="#222" stroke-width="0.2" textLength="12.0" lengthAdjust="spacingAndGlyphs">2.5</text>
<text x="15.2" y="231.9" font-size="10.4" fill="#222" stroke="#222" stroke-width="0.2" textLength="12.0" lengthAdjust="spacingAndGlyphs">0.0</text>
<text x="10.6" y="250.2" font-size="10.4" fill="#222" stroke="#222" stroke-width="0.2" textLength="16.6" lengthAdjust="spacingAndGlyphs">−2.5</text>
<text x="26.1" y="269.7" font-size="10.4" fill="#222" stroke="#222" stroke-width="0.2" textLength="4.9" lengthAdjust="spacingAndGlyphs">0</text>
<text x="53.6" y="269.7" font-size="10.4" fill="#222" stroke="#222" stroke-width="0.2" textLength="4.9" lengthAdjust="spacingAndGlyphs">2</text>
<text x="81.0" y="269.7" font-size="10.4" fill="#222" stroke="#222" stroke-width="0.2" textLength="4.9" lengthAdjust="spacingAndGlyphs">4</text>
<text x="108.5" y="269.7" font-size="10.4" fill="#222" stroke="#222" stroke-width="0.2" textLength="4.9" lengthAdjust="spacingAndGlyphs">6</text>
<text x="135.9" y="269.7" font-size="10.4" fill="#222" stroke="#222" stroke-width="0.2" textLength="4.9" lengthAdjust="spacingAndGlyphs">8</text>
<text x="81.0" y="282.8" font-size="10.4" fill="#222" stroke="#222" stroke-width="0.2" textLength="31.1" lengthAdjust="spacingAndGlyphs">Slip (Å)</text>
<text transform="translate(7.6,238.4) rotate(-90)" font-size="10.4" fill="#222" stroke="#222" stroke-width="0.2" textLength="51.1" lengthAdjust="spacingAndGlyphs">Energy (cm</text>
<text transform="translate(3.9,187.0) rotate(-90)" font-size="5.2" fill="#222" textLength="4.0" lengthAdjust="spacingAndGlyphs">-1</text>
<text transform="translate(7.6,182.4) rotate(-90)" font-size="10.4" fill="#222" stroke="#222" stroke-width="0.2" textLength="3.0" lengthAdjust="spacingAndGlyphs">)</text>
<polygon points="28.8,310.0 29.3,310.0 29.8,310.1 30.3,310.1 30.8,310.2 31.3,310.3 31.8,310.4 32.3,310.5 32.8,310.6 33.0,310.6 33.3,310.7 33.8,310.8 34.3,310.9 34.8,311.1 35.3,311.2 35.8,311.4 36.3,311.6 36.8,311.8 37.3,312.0 37.8,312.2 38.0,312.3 38.3,312.4 38.8,312.6 39.3,312.9 39.8,313.1 40.3,313.4 40.8,313.7 41.3,314.0 41.8,314.2 42.3,314.6 42.8,314.9 43.0,315.0 43.3,315.2 43.8,315.5 44.3,315.8 44.8,316.2 45.3,316.6 45.8,316.9 46.3,317.3 46.8,317.7 47.3,318.1 47.8,318.5 48.0,318.7 48.3,318.9 48.8,319.3 49.3,319.7 49.8,320.1 50.3,320.6 50.8,321.0 51.3,321.4 51.7,321.9 52.2,322.3 52.7,322.8 53.0,323.0 53.2,323.2 53.7,323.7 54.2,324.1 54.7,324.6 55.2,325.0 55.7,325.5 56.2,326.0 56.7,326.4 57.2,326.9 57.7,327.4 58.0,327.6 58.2,327.8 58.7,328.3 59.2,328.8 59.7,329.2 60.2,329.7 60.7,330.2 61.2,330.6 61.7,331.1 62.2,331.6 62.7,332.0 63.0,332.3 63.2,332.5 63.7,333.0 64.2,333.4 64.7,333.9 65.2,334.3 65.7,334.8 66.2,335.2 66.7,335.7 67.2,336.1 67.7,336.6 68.0,336.8 68.2,337.0 68.7,337.4 69.2,337.8 69.7,338.2 70.2,338.6 70.7,339.0 71.2,339.4 71.7,339.8 72.2,340.2 72.7,340.6 73.0,340.8 73.2,341.0 73.7,341.3 74.2,341.7 74.7,342.1 75.2,342.4 75.7,342.8 76.2,343.1 76.7,343.4 77.2,343.8 77.7,344.1 78.0,344.3 78.2,344.4 78.7,344.7 79.2,345.0 79.7,345.3 80.2,345.6 80.7,345.9 81.2,346.2 81.7,346.5 82.2,346.8 82.7,347.1 83.2,347.3 83.7,347.6 84.2,347.9 84.7,348.1 85.2,348.4 85.7,348.6 86.0,348.8 86.0,397.8 85.6,397.9 85.1,398.0 84.6,398.1 84.1,398.2 83.6,398.3 83.1,398.4 82.6,398.5 82.1,398.6 81.6,398.8 81.1,398.9 80.6,399.0 80.1,399.1 79.6,399.2 79.1,399.3 78.6,399.4 78.1,399.6 77.6,399.7 77.1,399.8 76.6,399.9 76.1,400.0 75.6,400.1 75.1,400.3 75.0,400.3 74.6,400.4 74.2,400.5 73.7,400.6 73.2,400.8 72.7,400.9 72.2,401.0 71.7,401.1 71.2,401.3 70.7,401.4 70.2,401.5 69.7,401.6 69.2,401.8 68.7,401.9 68.2,402.0 67.7,402.1 67.2,402.3 66.7,402.4 66.2,402.5 65.7,402.6 65.2,402.8 65.0,402.8 64.7,402.9 64.2,403.0 63.7,403.1 63.2,403.2 62.7,403.3 62.2,403.5 61.7,403.6 61.2,403.7 60.7,403.8 60.2,403.9 59.7,404.0 59.2,404.1 58.7,404.2 58.2,404.3 57.7,404.4 57.2,404.5 56.7,404.7 56.2,404.8 55.7,404.9 55.2,405.0 55.0,405.0 54.7,405.1 54.2,405.2 53.7,405.3 53.2,405.3 52.7,405.4 52.2,405.5 51.7,405.6 51.2,405.7 50.7,405.8 50.2,405.9 49.7,406.0 49.2,406.1 48.7,406.2 48.2,406.3 47.7,406.4 47.2,406.4 46.7,406.5 46.2,406.6 45.7,406.7 45.2,406.8 45.0,406.8 44.7,406.8 44.2,406.9 43.8,407.0 43.3,407.1 42.8,407.1 42.3,407.2 41.8,407.3 41.3,407.4 40.8,407.4 40.3,407.5 39.8,407.6 39.3,407.7 38.8,407.7 38.3,407.8 37.8,407.8 37.3,407.9 36.8,407.9 36.3,408.0 36.0,408.0 35.8,408.0 35.3,408.1 34.8,408.1 34.3,408.1 33.8,408.2 33.3,408.2 32.8,408.2 32.3,408.3 31.8,408.3 31.3,408.3 30.8,408.3 30.3,408.4 29.8,408.4 29.3,408.4 28.8,408.4" fill="#8dcfee" />
<polygon points="86.0,348.8 86.2,348.9 86.7,349.1 87.2,349.4 87.7,349.6 88.2,349.8 88.7,350.0 89.2,350.3 89.7,350.5 90.2,350.7 90.7,350.9 91.2,351.1 91.7,351.3 92.2,351.5 92.7,351.7 93.0,351.8 93.2,351.9 93.7,352.0 94.2,352.2 94.7,352.4 95.2,352.6 95.7,352.7 96.2,352.9 96.7,353.0 97.2,353.2 97.6,353.3 98.1,353.5 98.6,353.6 99.1,353.8 99.6,353.9 100.0,354.0 100.1,354.0 100.6,354.2 101.1,354.3 101.6,354.4 102.1,354.5 102.6,354.7 103.1,354.8 103.6,354.9 104.1,355.0 104.6,355.1 105.1,355.2 105.6,355.3 106.1,355.4 106.6,355.5 107.1,355.6 107.6,355.7 108.0,355.8 108.1,355.8 108.6,355.9 109.1,356.0 109.6,356.1 110.1,356.2 110.6,356.3 111.1,356.3 111.6,356.4 112.1,356.5 112.6,356.6 113.1,356.7 113.6,356.7 114.1,356.8 114.6,356.9 115.1,356.9 115.6,357.0 115.6,392.4 115.5,392.4 115.0,392.5 114.5,392.6 114.0,392.6 113.5,392.7 113.0,392.8 112.5,392.9 112.0,393.0 111.5,393.1 111.0,393.1 110.5,393.2 110.0,393.3 109.5,393.4 109.0,393.5 108.5,393.6 108.0,393.7 107.5,393.8 107.0,393.8 106.5,393.9 106.0,394.0 105.5,394.1 105.0,394.2 105.0,394.2 104.6,394.3 104.1,394.4 103.6,394.5 103.1,394.5 102.6,394.6 102.1,394.7 101.6,394.8 101.1,394.9 100.6,395.0 100.1,395.1 99.6,395.2 99.1,395.2 98.6,395.3 98.1,395.4 97.6,395.5 97.1,395.6 96.6,395.7 96.1,395.8 95.6,395.9 95.1,396.0 95.0,396.0 94.6,396.1 94.1,396.2 93.6,396.3 93.1,396.4 92.6,396.5 92.1,396.6 91.6,396.7 91.1,396.8 90.6,396.9 90.1,397.0 89.6,397.1 89.1,397.2 88.6,397.3 88.1,397.4 87.6,397.5 87.1,397.6 86.6,397.7 86.1,397.8 86.0,397.8" fill="#aa8bcc" />
<polygon points="115.6,357.0 115.6,357.0 116.1,357.1 116.6,357.1 117.1,357.2 117.6,357.2 118.1,357.3 118.6,357.4 119.1,357.4 119.6,357.5 120.1,357.5 120.6,357.6 121.1,357.6 121.6,357.7 122.1,357.7 122.6,357.8 123.1,357.8 123.6,357.9 124.1,357.9 124.6,358.0 125.0,358.0 125.1,358.0 125.6,358.1 126.1,358.1 126.6,358.1 127.1,358.2 127.6,358.2 128.1,358.3 128.6,358.3 129.1,358.4 129.6,358.4 130.1,358.4 130.6,358.5 131.1,358.5 131.6,358.5 132.1,358.6 132.6,358.6 133.0,358.6 133.1,358.6 133.6,358.6 134.1,358.6 134.6,358.7 135.1,358.7 135.6,358.7 136.1,358.7 136.6,358.7 137.1,358.8 137.6,358.8 138.1,358.8 138.6,358.8 139.1,358.8 139.6,358.8 139.6,358.8 140.1,358.8 140.6,358.8 141.1,358.8 141.6,358.8 142.1,358.8 142.6,358.7 143.1,358.7 143.5,358.7 144.0,358.7 144.5,358.7 145.0,358.6 145.5,358.6 146.0,358.6 146.5,358.6 147.0,358.5 147.5,358.5 148.0,358.5 148.0,358.5 148.5,358.5 149.0,358.4 149.5,358.4 150.0,358.4 150.5,358.3 151.0,358.3 151.5,358.2 152.0,358.2 152.5,358.1 153.0,358.1 153.5,358.0 154.0,358.0 154.5,357.9 155.0,357.9 155.5,357.8 156.0,357.8 156.0,357.8 156.5,357.8 157.0,357.7 157.5,357.7 158.0,357.6 158.5,357.6 159.0,357.5 159.5,357.5 160.0,357.4 160.5,357.4 161.0,357.3 161.5,357.3 162.0,357.2 162.5,357.2 163.0,357.1 163.5,357.1 164.0,357.0 164.5,357.0 165.0,356.9 165.5,356.9 166.0,356.8 166.0,405.0 165.5,404.9 165.0,404.8 164.5,404.7 164.0,404.7 163.5,404.6 163.0,404.5 162.5,404.4 162.0,404.3 161.5,404.2 161.0,404.1 160.5,404.0 160.0,403.9 159.5,403.8 159.0,403.7 158.5,403.6 158.0,403.5 157.5,403.4 157.0,403.2 156.5,403.1 156.0,403.0 155.5,402.9 155.0,402.8 155.0,402.8 154.5,402.7 154.0,402.6 153.5,402.5 153.0,402.3 152.5,402.2 152.0,402.1 151.5,402.0 151.0,401.8 150.5,401.7 150.0,401.6 149.5,401.4 149.0,401.3 148.5,401.2 148.0,401.0 147.5,400.9 147.0,400.7 146.5,400.6 146.0,400.5 145.5,400.3 145.0,400.2 145.0,400.2 144.5,400.1 144.0,399.9 143.5,399.8 143.1,399.7 142.6,399.5 142.1,399.4 141.6,399.3 141.1,399.1 140.6,399.0 140.1,398.9 139.6,398.7 139.1,398.6 138.6,398.5 138.1,398.3 137.6,398.2 137.1,398.1 136.6,397.9 136.1,397.8 135.6,397.7 135.1,397.5 135.0,397.5 134.6,397.4 134.1,397.2 133.6,397.1 133.1,397.0 132.6,396.8 132.1,396.7 131.6,396.6 131.1,396.4 130.6,396.3 130.1,396.2 129.6,396.0 129.1,395.9 128.6,395.8 128.1,395.6 127.6,395.5 127.1,395.4 126.6,395.2 126.1,395.1 125.6,395.0 125.1,394.8 125.0,394.8 124.6,394.7 124.1,394.6 123.6,394.4 123.1,394.3 122.6,394.2 122.1,394.0 121.6,393.9 121.1,393.8 120.6,393.6 120.1,393.5 119.6,393.4 119.1,393.3 118.6,393.1 118.1,393.0 117.6,392.9 117.1,392.8 116.6,392.6 116.1,392.5 115.6,392.4 115.6,392.4" fill="#f6898e" />
<polyline points="28.8,349.0 29.3,349.0 29.8,349.1 30.3,349.1 30.8,349.1 31.3,349.2 31.8,349.3 32.3,349.3 32.8,349.4 33.3,349.5 33.8,349.6 34.0,349.6 34.3,349.6 34.8,349.7 35.3,349.9 35.8,350.0 36.3,350.1 36.8,350.2 37.3,350.4 37.8,350.6 38.3,350.7 38.8,350.9 39.3,351.0 39.8,351.2 40.0,351.3 40.3,351.4 40.8,351.6 41.3,351.8 41.8,352.0 42.3,352.2 42.8,352.4 43.3,352.7 43.8,352.9 44.3,353.1 44.8,353.4 45.3,353.6 45.8,353.9 46.0,354.0 46.3,354.1 46.8,354.4 47.3,354.7 47.8,354.9 48.3,355.2 48.8,355.5 49.3,355.8 49.8,356.1 50.3,356.4 50.8,356.7 51.3,357.0 51.7,357.3 52.0,357.5 52.2,357.7 52.7,358.0 53.2,358.3 53.7,358.6 54.2,358.9 54.7,359.3 55.2,359.6 55.7,359.9 56.2,360.3 56.7,360.6 57.2,361.0 57.7,361.3 58.0,361.5 58.2,361.7 58.7,362.0 59.2,362.4 59.7,362.8 60.2,363.1 60.7,363.5 61.2,363.9 61.7,364.3 62.2,364.6 62.7,365.0 63.2,365.4 63.7,365.8 64.0,366.0 64.2,366.2 64.7,366.5 65.2,366.9 65.7,367.3 66.2,367.7 66.7,368.1 67.2,368.5 67.7,368.8 68.2,369.2 68.7,369.6 69.2,370.0 69.7,370.4 70.0,370.6 70.2,370.8 70.7,371.1 71.2,371.5 71.7,371.9 72.2,372.3 72.7,372.7 73.2,373.1 73.7,373.5 74.2,373.9 74.7,374.2 75.2,374.6 75.7,375.0 76.0,375.2 76.2,375.3 76.7,375.7 77.2,376.1 77.7,376.4 78.2,376.7 78.7,377.1 79.2,377.4 79.7,377.8 80.2,378.1 80.7,378.4 81.2,378.8 81.7,379.1 82.0,379.3 82.2,379.4 82.7,379.7 83.2,380.1 83.7,380.4 84.2,380.7 84.7,381.0 85.2,381.3 85.7,381.6 86.0,381.8 86.2,381.9 86.7,382.2 87.2,382.5 87.7,382.8 88.2,383.0 88.7,383.3 89.2,383.6 89.7,383.8 90.2,384.1 90.7,384.4 91.2,384.6 91.7,384.9 92.2,385.1 92.7,385.3 93.0,385.5 93.2,385.6 93.7,385.8 94.2,386.0 94.7,386.2 95.2,386.4 95.7,386.7 96.2,386.9 96.7,387.1 97.2,387.3 97.6,387.4 98.1,387.6 98.6,387.8 99.1,388.0 99.6,388.2 100.0,388.3 100.1,388.3 100.6,388.5 101.1,388.7 101.6,388.8 102.1,389.0 102.6,389.2 103.1,389.3 103.6,389.5 104.1,389.6 104.6,389.8 105.1,389.9 105.6,390.1 106.1,390.2 106.6,390.3 107.1,390.5 107.6,390.6 108.0,390.7 108.1,390.7 108.6,390.9 109.1,391.0 109.6,391.1 110.1,391.2 110.6,391.3 111.1,391.4 111.6,391.5 112.1,391.6 112.6,391.7 113.1,391.8 113.6,392.0 114.1,392.1 114.6,392.2 115.1,392.3 115.6,392.4 115.6,392.4 116.1,392.5 116.6,392.6 117.1,392.8 117.6,392.9 118.1,393.0 118.6,393.1 119.1,393.3 119.6,393.4 120.1,393.5 120.6,393.6 121.1,393.8 121.6,393.9 122.1,394.0 122.6,394.2 123.1,394.3 123.6,394.4 124.1,394.6 124.6,394.7 125.0,394.8 125.1,394.8 125.6,395.0 126.1,395.1 126.6,395.2 127.1,395.4 127.6,395.5 128.1,395.6 128.6,395.8 129.1,395.9 129.6,396.0 130.1,396.2 130.6,396.3 131.1,396.4 131.6,396.6 132.1,396.7 132.6,396.8 133.1,397.0 133.6,397.1 134.1,397.2 134.6,397.4 135.0,397.5 135.1,397.5 135.6,397.7 136.1,397.8 136.6,397.9 137.1,398.1 137.6,398.2 138.1,398.3 138.6,398.5 139.1,398.6 139.6,398.7 140.1,398.9 140.6,399.0 141.1,399.1 141.6,399.3 142.1,399.4 142.6,399.5 143.1,399.7 143.5,399.8 144.0,399.9 144.5,400.1 145.0,400.2 145.0,400.2 145.5,400.3 146.0,400.5 146.5,400.6 147.0,400.7 147.5,400.9 148.0,401.0 148.5,401.2 149.0,401.3 149.5,401.4 150.0,401.6 150.5,401.7 151.0,401.8 151.5,402.0 152.0,402.1 152.5,402.2 153.0,402.3 153.5,402.5 154.0,402.6 154.5,402.7 155.0,402.8 155.0,402.8 155.5,402.9 156.0,403.0 156.5,403.1 157.0,403.2 157.5,403.4 158.0,403.5 158.5,403.6 159.0,403.7 159.5,403.8 160.0,403.9 160.5,404.0 161.0,404.1 161.5,404.2 162.0,404.3 162.5,404.4 163.0,404.5 163.5,404.6 164.0,404.7 164.5,404.7 165.0,404.8 165.5,404.9 166.0,405.0" fill="none" stroke="#2f2f66" stroke-width="0.9" stroke-linejoin="round" stroke-dasharray="1.0,0.7"/>
<polyline points="28.8,408.4 29.3,408.4 29.8,408.4 30.3,408.4 30.8,408.3 31.3,408.3 31.8,408.3 32.3,408.3 32.8,408.2 33.3,408.2 33.8,408.2 34.3,408.1 34.8,408.1 35.3,408.1 35.8,408.0 36.0,408.0 36.3,408.0 36.8,407.9 37.3,407.9 37.8,407.8 38.3,407.8 38.8,407.7 39.3,407.7 39.8,407.6 40.3,407.5 40.8,407.4 41.3,407.4 41.8,407.3 42.3,407.2 42.8,407.1 43.3,407.1 43.8,407.0 44.2,406.9 44.7,406.8 45.0,406.8 45.2,406.8 45.7,406.7 46.2,406.6 46.7,406.5 47.2,406.4 47.7,406.4 48.2,406.3 48.7,406.2 49.2,406.1 49.7,406.0 50.2,405.9 50.7,405.8 51.2,405.7 51.7,405.6 52.2,405.5 52.7,405.4 53.2,405.3 53.7,405.3 54.2,405.2 54.7,405.1 55.0,405.0 55.2,405.0 55.7,404.9 56.2,404.8 56.7,404.7 57.2,404.5 57.7,404.4 58.2,404.3 58.7,404.2 59.2,404.1 59.7,404.0 60.2,403.9 60.7,403.8 61.2,403.7 61.7,403.6 62.2,403.5 62.7,403.3 63.2,403.2 63.7,403.1 64.2,403.0 64.7,402.9 65.0,402.8 65.2,402.8 65.7,402.6 66.2,402.5 66.7,402.4 67.2,402.3 67.7,402.1 68.2,402.0 68.7,401.9 69.2,401.8 69.7,401.6 70.2,401.5 70.7,401.4 71.2,401.3 71.7,401.1 72.2,401.0 72.7,400.9 73.2,400.8 73.7,400.6 74.2,400.5 74.6,400.4 75.0,400.3 75.1,400.3 75.6,400.1 76.1,400.0 76.6,399.9 77.1,399.8 77.6,399.7 78.1,399.6 78.6,399.4 79.1,399.3 79.6,399.2 80.1,399.1 80.6,399.0 81.1,398.9 81.6,398.8 82.1,398.6 82.6,398.5 83.1,398.4 83.6,398.3 84.1,398.2 84.6,398.1 85.1,398.0 85.6,397.9 86.0,397.8 86.1,397.8 86.6,397.7 87.1,397.6 87.6,397.5 88.1,397.4 88.6,397.3 89.1,397.2 89.6,397.1 90.1,397.0 90.6,396.9 91.1,396.8 91.6,396.7 92.1,396.6 92.6,396.5 93.1,396.4 93.6,396.3 94.1,396.2 94.6,396.1 95.0,396.0 95.1,396.0 95.6,395.9 96.1,395.8 96.6,395.7 97.1,395.6 97.6,395.5 98.1,395.4 98.6,395.3 99.1,395.2 99.6,395.2 100.1,395.1 100.6,395.0 101.1,394.9 101.6,394.8 102.1,394.7 102.6,394.6 103.1,394.5 103.6,394.5 104.1,394.4 104.6,394.3 105.0,394.2 105.0,394.2 105.5,394.1 106.0,394.0 106.5,393.9 107.0,393.8 107.5,393.8 108.0,393.7 108.5,393.6 109.0,393.5 109.5,393.4 110.0,393.3 110.5,393.2 111.0,393.1 111.5,393.1 112.0,393.0 112.5,392.9 113.0,392.8 113.5,392.7 114.0,392.6 114.5,392.6 115.0,392.5 115.5,392.4 115.6,392.4" fill="none" stroke="#7d9fb0" stroke-width="0.5" stroke-linejoin="round" />
<polyline points="28.8,310.0 29.3,310.0 29.8,310.1 30.3,310.1 30.8,310.2 31.3,310.3 31.8,310.4 32.3,310.5 32.8,310.6 33.0,310.6 33.3,310.7 33.8,310.8 34.3,310.9 34.8,311.1 35.3,311.2 35.8,311.4 36.3,311.6 36.8,311.8 37.3,312.0 37.8,312.2 38.0,312.3 38.3,312.4 38.8,312.6 39.3,312.9 39.8,313.1 40.3,313.4 40.8,313.7 41.3,314.0 41.8,314.2 42.3,314.6 42.8,314.9 43.0,315.0 43.3,315.2 43.8,315.5 44.3,315.8 44.8,316.2 45.3,316.6 45.8,316.9 46.3,317.3 46.8,317.7 47.3,318.1 47.8,318.5 48.0,318.7 48.3,318.9 48.8,319.3 49.3,319.7 49.8,320.1 50.3,320.6 50.8,321.0 51.3,321.4 51.7,321.9 52.2,322.3 52.7,322.8 53.0,323.0 53.2,323.2 53.7,323.7 54.2,324.1 54.7,324.6 55.2,325.0 55.7,325.5 56.2,326.0 56.7,326.4 57.2,326.9 57.7,327.4 58.0,327.6 58.2,327.8 58.7,328.3 59.2,328.8 59.7,329.2 60.2,329.7 60.7,330.2 61.2,330.6 61.7,331.1 62.2,331.6 62.7,332.0 63.0,332.3 63.2,332.5 63.7,333.0 64.2,333.4 64.7,333.9 65.2,334.3 65.7,334.8 66.2,335.2 66.7,335.7 67.2,336.1 67.7,336.6 68.0,336.8 68.2,337.0 68.7,337.4 69.2,337.8 69.7,338.2 70.2,338.6 70.7,339.0 71.2,339.4 71.7,339.8 72.2,340.2 72.7,340.6 73.0,340.8 73.2,341.0 73.7,341.3 74.2,341.7 74.7,342.1 75.2,342.4 75.7,342.8 76.2,343.1 76.7,343.4 77.2,343.8 77.7,344.1 78.0,344.3 78.2,344.4 78.7,344.7 79.2,345.0 79.7,345.3 80.2,345.6 80.7,345.9 81.2,346.2 81.7,346.5 82.2,346.8 82.7,347.1 83.2,347.3 83.7,347.6 84.2,347.9 84.7,348.1 85.2,348.4 85.7,348.6 86.0,348.8 86.2,348.9 86.7,349.1 87.2,349.4 87.7,349.6 88.2,349.8 88.7,350.0 89.2,350.3 89.7,350.5 90.2,350.7 90.7,350.9 91.2,351.1 91.7,351.3 92.2,351.5 92.7,351.7 93.0,351.8 93.2,351.9 93.7,352.0 94.2,352.2 94.7,352.4 95.2,352.6 95.7,352.7 96.2,352.9 96.7,353.0 97.2,353.2 97.6,353.3 98.1,353.5 98.6,353.6 99.1,353.8 99.6,353.9 100.0,354.0 100.1,354.0 100.6,354.2 101.1,354.3 101.6,354.4 102.1,354.5 102.6,354.7 103.1,354.8 103.6,354.9 104.1,355.0 104.6,355.1 105.1,355.2 105.6,355.3 106.1,355.4 106.6,355.5 107.1,355.6 107.6,355.7 108.0,355.8 108.1,355.8 108.6,355.9 109.1,356.0 109.6,356.1 110.1,356.2 110.6,356.3 111.1,356.3 111.6,356.4 112.1,356.5 112.6,356.6 113.1,356.7 113.6,356.7 114.1,356.8 114.6,356.9 115.1,356.9 115.6,357.0 115.6,357.0 116.1,357.1 116.6,357.1 117.1,357.2 117.6,357.2 118.1,357.3 118.6,357.4 119.1,357.4 119.6,357.5 120.1,357.5 120.6,357.6 121.1,357.6 121.6,357.7 122.1,357.7 122.6,357.8 123.1,357.8 123.6,357.9 124.1,357.9 124.6,358.0 125.0,358.0 125.1,358.0 125.6,358.1 126.1,358.1 126.6,358.1 127.1,358.2 127.6,358.2 128.1,358.3 128.6,358.3 129.1,358.4 129.6,358.4 130.1,358.4 130.6,358.5 131.1,358.5 131.6,358.5 132.1,358.6 132.6,358.6 133.0,358.6 133.1,358.6 133.6,358.6 134.1,358.6 134.6,358.7 135.1,358.7 135.6,358.7 136.1,358.7 136.6,358.7 137.1,358.8 137.6,358.8 138.1,358.8 138.6,358.8 139.1,358.8 139.6,358.8 139.6,358.8 140.1,358.8 140.6,358.8 141.1,358.8 141.6,358.8 142.1,358.8 142.6,358.7 143.1,358.7 143.5,358.7 144.0,358.7 144.5,358.7 145.0,358.6 145.5,358.6 146.0,358.6 146.5,358.6 147.0,358.5 147.5,358.5 148.0,358.5 148.0,358.5 148.5,358.5 149.0,358.4 149.5,358.4 150.0,358.4 150.5,358.3 151.0,358.3 151.5,358.2 152.0,358.2 152.5,358.1 153.0,358.1 153.5,358.0 154.0,358.0 154.5,357.9 155.0,357.9 155.5,357.8 156.0,357.8 156.0,357.8 156.5,357.8 157.0,357.7 157.5,357.7 158.0,357.6 158.5,357.6 159.0,357.5 159.5,357.5 160.0,357.4 160.5,357.4 161.0,357.3 161.5,357.3 162.0,357.2 162.5,357.2 163.0,357.1 163.5,357.1 164.0,357.0 164.5,357.0 165.0,356.9 165.5,356.9 166.0,356.8" fill="none" stroke="#1a1a1a" stroke-width="1.1" stroke-linejoin="round" />
<line x1="29.8" y1="382.2" x2="34.0" y2="382.2" stroke="#14284a" stroke-width="1"/>
<line x1="37.1" y1="382.2" x2="41.3" y2="382.2" stroke="#14284a" stroke-width="1"/>
<line x1="44.4" y1="382.2" x2="48.6" y2="382.2" stroke="#14284a" stroke-width="1"/>
<line x1="51.7" y1="382.2" x2="55.9" y2="382.2" stroke="#14284a" stroke-width="1"/>
<line x1="59.0" y1="382.2" x2="63.2" y2="382.2" stroke="#14284a" stroke-width="1"/>
<line x1="66.3" y1="382.2" x2="70.5" y2="382.2" stroke="#14284a" stroke-width="1"/>
<line x1="73.6" y1="382.2" x2="77.8" y2="382.2" stroke="#14284a" stroke-width="1"/>
<line x1="80.9" y1="382.2" x2="85.1" y2="382.2" stroke="#14284a" stroke-width="1"/>
<line x1="88.2" y1="382.2" x2="92.4" y2="382.2" stroke="#22143c" stroke-width="1"/>
<line x1="95.5" y1="382.2" x2="99.7" y2="382.2" stroke="#22143c" stroke-width="1"/>
<line x1="102.8" y1="382.2" x2="107.0" y2="382.2" stroke="#22143c" stroke-width="1"/>
<line x1="110.1" y1="382.2" x2="114.3" y2="382.2" stroke="#22143c" stroke-width="1"/>
<line x1="117.4" y1="382.2" x2="121.6" y2="382.2" stroke="#52101a" stroke-width="1"/>
<line x1="124.7" y1="382.2" x2="128.9" y2="382.2" stroke="#52101a" stroke-width="1"/>
<line x1="132.0" y1="382.2" x2="136.2" y2="382.2" stroke="#52101a" stroke-width="1"/>
<line x1="139.3" y1="382.2" x2="143.5" y2="382.2" stroke="#52101a" stroke-width="1"/>
<line x1="146.6" y1="382.2" x2="150.8" y2="382.2" stroke="#52101a" stroke-width="1"/>
<line x1="153.9" y1="382.2" x2="158.1" y2="382.2" stroke="#52101a" stroke-width="1"/>
<line x1="161.2" y1="382.2" x2="165.4" y2="382.2" stroke="#52101a" stroke-width="1"/>
<rect x="28.8" y="304.7" width="137.2" height="108.90000000000003" fill="none" stroke="#404040" stroke-width="1"/>
<line x1="56.3" y1="413.6" x2="56.3" y2="411.0" stroke="#404040" stroke-width="0.9"/>
<line x1="83.8" y1="413.6" x2="83.8" y2="411.0" stroke="#404040" stroke-width="0.9"/>
<line x1="111.3" y1="413.6" x2="111.3" y2="411.0" stroke="#404040" stroke-width="0.9"/>
<line x1="138.8" y1="413.6" x2="138.8" y2="411.0" stroke="#404040" stroke-width="0.9"/>
<line x1="28.8" y1="309.0" x2="31.400000000000002" y2="309.0" stroke="#404040" stroke-width="0.9"/>
<line x1="28.8" y1="327.3" x2="31.400000000000002" y2="327.3" stroke="#404040" stroke-width="0.9"/>
<line x1="28.8" y1="345.6" x2="31.400000000000002" y2="345.6" stroke="#404040" stroke-width="0.9"/>
<line x1="28.8" y1="363.9" x2="31.400000000000002" y2="363.9" stroke="#404040" stroke-width="0.9"/>
<line x1="28.8" y1="382.2" x2="31.400000000000002" y2="382.2" stroke="#404040" stroke-width="0.9"/>
<line x1="28.8" y1="400.5" x2="31.400000000000002" y2="400.5" stroke="#404040" stroke-width="0.9"/>
<line x1="93.5" y1="304.7" x2="93.5" y2="307.09999999999997" stroke="#404040" stroke-width="0.9"/>
<line x1="108.8" y1="304.7" x2="108.8" y2="307.09999999999997" stroke="#404040" stroke-width="0.9"/>
<line x1="132.9" y1="304.7" x2="132.9" y2="307.09999999999997" stroke="#404040" stroke-width="0.9"/>
<text x="43.5" y="338.5" font-size="10.4" fill="#0f2836" stroke="#0f2836" stroke-width="0.25" textLength="7.0" lengthAdjust="spacingAndGlyphs">H</text>
<text x="101.8" y="369.5" font-size="10.4" fill="#231238" stroke="#231238" stroke-width="0.25" textLength="2.0" lengthAdjust="spacingAndGlyphs">I</text>
<text x="141.7" y="394.0" font-size="10.4" fill="#4a0c12" stroke="#4a0c12" stroke-width="0.25" textLength="3.5" lengthAdjust="spacingAndGlyphs">J</text>
<text x="49.6" y="318.6" font-size="10.4" fill="#222" stroke="#222" stroke-width="0.2" textLength="89.1" lengthAdjust="spacingAndGlyphs">Cy7-DPA Ext. Dipole</text>
<line x1="132.9" y1="328.5" x2="147.7" y2="328.5" stroke="#222" stroke-width="1.1"/>
<line x1="132.9" y1="339.5" x2="147.7" y2="339.5" stroke="#555" stroke-width="0.5"/>
<line x1="132.9" y1="350.5" x2="147.7" y2="350.5" stroke="#3d3d60" stroke-width="0.8" stroke-dasharray="1.2,0.8"/>
<text x="151.2" y="332.1" font-size="10.4" fill="#222" stroke="#222" stroke-width="0.2" textLength="12.6" lengthAdjust="spacingAndGlyphs">UB</text>
<text x="151.2" y="343.1" font-size="10.4" fill="#222" stroke="#222" stroke-width="0.2" textLength="12.6" lengthAdjust="spacingAndGlyphs">LB</text>
<text x="151.2" y="354.1" font-size="10.4" fill="#222" stroke="#222" stroke-width="0.2" textLength="12.6" lengthAdjust="spacingAndGlyphs">BS</text>
<text x="32.7" y="301.5" font-size="10.4" fill="#222" stroke="#222" stroke-width="0.2" textLength="16.6" lengthAdjust="spacingAndGlyphs">x 10</text>
<text x="49.9" y="299.3" font-size="5.8" fill="#222" stroke="#222" stroke-width="0.2" textLength="3.2" lengthAdjust="spacingAndGlyphs">3</text>
<text x="85.4" y="301.3" font-size="10.4" fill="#222" stroke="#222" stroke-width="0.2" textLength="13.8" lengthAdjust="spacingAndGlyphs">L/5</text>
<text x="102.7" y="301.3" font-size="10.4" fill="#222" stroke="#222" stroke-width="0.2" textLength="13.8" lengthAdjust="spacingAndGlyphs">L/4</text>
<text x="126.2" y="301.3" font-size="10.4" fill="#222" stroke="#222" stroke-width="0.2" textLength="14.4" lengthAdjust="spacingAndGlyphs">L/3</text>
<text x="0.8" y="304.8" font-size="10.8" fill="#111" stroke="#111" stroke-width="0.22" textLength="3.8" lengthAdjust="spacingAndGlyphs">c</text>
<text x="21.8" y="312.6" font-size="10.4" fill="#222" stroke="#222" stroke-width="0.2" textLength="4.8" lengthAdjust="spacingAndGlyphs">4</text>
<text x="21.8" y="330.9" font-size="10.4" fill="#222" stroke="#222" stroke-width="0.2" textLength="4.8" lengthAdjust="spacingAndGlyphs">3</text>
<text x="21.8" y="349.2" font-size="10.4" fill="#222" stroke="#222" stroke-width="0.2" textLength="4.8" lengthAdjust="spacingAndGlyphs">2</text>
<text x="21.8" y="367.5" font-size="10.4" fill="#222" stroke="#222" stroke-width="0.2" textLength="4.8" lengthAdjust="spacingAndGlyphs">1</text>
<text x="21.8" y="385.8" font-size="10.4" fill="#222" stroke="#222" stroke-width="0.2" textLength="4.8" lengthAdjust="spacingAndGlyphs">0</text>
<text x="21.8" y="404.1" font-size="10.4" fill="#222" stroke="#222" stroke-width="0.2" textLength="4.8" lengthAdjust="spacingAndGlyphs">1</text>
<text x="26.4" y="422.0" font-size="10.4" fill="#222" stroke="#222" stroke-width="0.2" textLength="4.9" lengthAdjust="spacingAndGlyphs">0</text>
<text x="53.9" y="422.0" font-size="10.4" fill="#222" stroke="#222" stroke-width="0.2" textLength="4.9" lengthAdjust="spacingAndGlyphs">2</text>
<text x="81.4" y="422.0" font-size="10.4" fill="#222" stroke="#222" stroke-width="0.2" textLength="4.9" lengthAdjust="spacingAndGlyphs">4</text>
<text x="108.9" y="422.0" font-size="10.4" fill="#222" stroke="#222" stroke-width="0.2" textLength="4.9" lengthAdjust="spacingAndGlyphs">6</text>
<text x="136.4" y="422.0" font-size="10.4" fill="#222" stroke="#222" stroke-width="0.2" textLength="4.9" lengthAdjust="spacingAndGlyphs">8</text>
<text x="80.4" y="434.7" font-size="10.4" fill="#222" stroke="#222" stroke-width="0.2" textLength="30.9" lengthAdjust="spacingAndGlyphs">Slip (Å)</text>
<text transform="translate(14.0,388.0) rotate(-90)" font-size="10.4" fill="#222" stroke="#222" stroke-width="0.2" textLength="52.1" lengthAdjust="spacingAndGlyphs">Energy (cm</text>
<text transform="translate(10.3,335.6) rotate(-90)" font-size="5.2" fill="#222" textLength="4.0" lengthAdjust="spacingAndGlyphs">-1</text>
<text transform="translate(14.0,331.0) rotate(-90)" font-size="10.4" fill="#222" stroke="#222" stroke-width="0.2" textLength="3.0" lengthAdjust="spacingAndGlyphs">)</text>
<polygon points="261.5,46.1 261.5,46.2 262.0,46.1 262.5,45.9 263.0,45.6 263.5,45.1 264.0,44.6 264.5,44.0 264.5,44.0 265.0,43.1 265.5,41.7 266.0,39.8 266.5,37.7 267.0,35.5 267.5,33.3 267.6,32.7 268.0,31.0 268.5,28.4 269.0,25.5 269.5,22.6 270.0,19.8 270.5,17.4 271.0,15.5 271.0,15.4 271.5,14.1 271.9,12.8 272.4,11.6 272.9,10.5 273.4,9.5 273.9,8.6 274.4,7.8 274.9,7.2 275.3,6.7 275.4,6.5 275.9,6.0 276.4,5.5 276.9,5.1 277.4,4.7 277.9,4.3 278.4,4.0 278.5,4.0 278.9,3.8 279.4,3.5 279.9,3.3 280.4,3.1 280.9,2.9 281.3,2.9 281.4,2.9 281.9,2.9 282.4,2.9 282.9,3.0 283.4,3.0 283.9,3.1 284.4,3.2 284.9,3.3 285.0,3.3 285.4,3.4 285.9,3.6 286.4,3.8 286.9,4.1 287.4,4.4 287.9,4.7 288.0,4.8 288.4,5.1 288.9,5.6 289.4,6.2 289.9,6.9 290.4,7.6 290.9,8.4 291.4,9.1 291.9,9.9 292.3,10.7 292.8,11.4 292.9,11.5 293.3,12.1 293.8,12.9 294.3,13.6 294.8,14.3 295.3,15.1 295.8,15.8 296.3,16.5 296.8,17.2 297.3,17.8 297.7,18.3 297.8,18.4 298.3,19.0 298.8,19.6 299.3,20.1 299.8,20.7 300.3,21.2 300.8,21.7 301.3,22.2 301.8,22.7 302.3,23.1 302.8,23.5 303.3,23.9 303.5,24.0 303.8,24.2 304.3,24.5 304.8,24.8 305.3,25.1 305.8,25.4 306.3,25.7 306.8,26.0 307.3,26.2 307.8,26.5 308.3,26.7 308.8,26.9 309.3,27.2 309.8,27.4 310.3,27.6 310.8,27.8 311.3,27.9 311.8,28.1 312.3,28.3 312.8,28.4 313.0,28.5 313.2,28.6 313.7,28.7 314.2,28.8 314.7,29.0 315.2,29.1 315.7,29.2 316.2,29.3 316.7,29.5 317.2,29.6 317.7,29.7 318.2,29.8 318.7,29.9 319.2,30.0 319.7,30.1 320.2,30.2 320.7,30.3 321.2,30.3 321.7,30.4 322.2,30.5 322.7,30.6 323.2,30.6 323.7,30.7 324.2,30.8 324.6,30.8 324.7,30.8 325.2,30.9 325.7,30.9 326.2,31.0 326.7,31.0 327.2,31.1 327.7,31.1 328.2,31.2 328.7,31.2 329.2,31.3 329.7,31.3 330.2,31.4 330.7,31.4 331.2,31.5 331.7,31.5 332.2,31.6 332.7,31.6 333.2,31.6 333.6,31.6 334.1,31.7 334.6,31.7 335.1,31.7 335.6,31.7 336.1,31.7 336.2,31.7 336.6,31.7 337.1,31.6 337.6,31.6 338.1,31.5 338.6,31.3 339.1,31.2 339.6,31.1 340.0,31.0 340.1,31.0 340.6,30.8 341.1,30.6 341.6,30.4 342.1,30.1 342.6,30.0 343.1,29.8 343.5,29.8 343.6,29.8 344.1,29.9 344.6,30.1 345.1,30.4 345.6,30.7 346.1,31.0 346.6,31.3 347.0,31.5 347.1,31.5 347.6,31.8 348.1,32.0 348.6,32.2 349.1,32.4 349.6,32.6 350.1,32.8 350.6,33.0 351.1,33.2 351.6,33.3 352.0,33.5 352.1,33.5 352.6,33.7 353.1,33.9 353.6,34.0 354.0,34.2 354.5,34.4 355.0,34.5 355.5,34.7 356.0,34.9 356.5,35.0 357.0,35.2 357.5,35.3 358.0,35.5 358.0,35.5 358.5,35.7 359.0,35.8 359.5,36.0 360.0,36.2 360.5,36.3 361.0,36.5 361.5,36.7 362.0,36.8 362.5,37.0 363.0,37.2 363.5,37.3 364.0,37.5 364.0,46.1" fill="#cdcdcd" />
<polyline points="210.9,46.1 211.2,46.1 211.6,46.1 211.9,46.1 212.2,46.1 212.6,46.1 212.9,46.1 213.2,46.1 213.6,46.1 213.9,46.1 214.2,46.1 214.6,46.1 214.9,46.1 215.2,46.1 215.6,46.1 215.9,46.1 216.2,46.1 216.6,46.1 216.9,46.1 217.2,46.1 217.6,46.1 217.9,46.1 218.2,46.1 218.6,46.1 218.9,46.1 219.2,46.1 219.6,46.1 219.9,46.1 220.2,46.1 220.6,46.1 220.9,46.1 221.2,46.1 221.6,46.1 221.9,46.1 222.2,46.1 222.6,46.1 222.9,46.1 223.2,46.1 223.6,46.1 223.9,46.1 224.3,46.1 224.6,46.1 224.9,46.1 225.3,46.1 225.6,46.1 225.9,46.1 226.3,46.1 226.6,46.1 226.9,46.1 227.3,46.1 227.6,46.1 227.9,46.1 228.3,46.1 228.6,46.1 228.9,46.1 229.3,46.1 229.6,46.1 229.9,46.1 230.3,46.1 230.6,46.1 230.9,46.1 231.3,46.1 231.6,46.1 231.9,46.1 232.3,46.1 232.6,46.1 232.9,46.1 233.3,46.1 233.6,46.1 233.9,46.1 234.3,46.1 234.6,46.1 234.9,46.1 235.3,46.1 235.6,46.1 235.9,46.1 236.3,46.1 236.6,46.1 236.9,46.1 237.3,46.1 237.6,46.1 237.9,46.1 238.3,46.1 238.6,46.1 238.9,46.1 239.3,46.1 239.6,46.1 239.9,46.1 240.3,46.1 240.6,46.1 240.9,46.1 241.3,46.1 241.6,46.1 241.9,46.1 242.3,46.1 242.6,46.1 242.9,46.1 243.3,46.1 243.6,46.1 243.9,46.0 244.3,46.0 244.6,46.0 244.9,46.0 245.3,46.0 245.6,46.0 245.9,46.0 246.3,46.0 246.6,46.0 246.9,45.9 247.3,45.9 247.6,45.9 247.9,45.9 248.3,45.9 248.6,45.9 248.9,45.8 249.3,45.8 249.6,45.8 250.0,45.8 250.3,45.8 250.6,45.7 251.0,45.7 251.3,45.7 251.6,45.6 252.0,45.6 252.3,45.6 252.6,45.5 253.0,45.5 253.3,45.4 253.6,45.4 254.0,45.3 254.3,45.3 254.6,45.2 255.0,45.1 255.3,45.1 255.6,45.0 256.0,44.9 256.3,44.8 256.6,44.7 257.0,44.5 257.3,44.4 257.6,44.2 258.0,44.0 258.3,43.8 258.6,43.6 259.0,43.3 259.3,43.0 259.6,42.7 260.0,42.3 260.3,41.8 260.6,41.3 261.0,40.6 261.3,39.8 261.6,38.9 262.0,37.7 262.3,36.3 262.6,34.5 263.0,32.4 263.3,29.7 263.6,26.3 264.0,22.2 264.3,17.5 264.6,12.2 265.0,7.2 265.3,3.6 265.6,2.5 266.0,4.2 266.3,8.3 266.6,13.4 267.0,18.6 267.3,23.2 267.6,27.1 268.0,30.3 268.3,32.9 268.6,35.0 269.0,36.6 269.3,38.0 269.6,39.1 270.0,40.0 270.3,40.8 270.6,41.4 271.0,41.9 271.3,42.4 271.6,42.8 272.0,43.1 272.3,43.4 272.6,43.7 273.0,43.9 273.3,44.1 273.6,44.3 274.0,44.4 274.3,44.6 274.6,44.7 275.0,44.8 275.3,44.9 275.7,45.0 276.0,45.1 276.3,45.1 276.7,45.2 277.0,45.3 277.3,45.3 277.7,45.4 278.0,45.4 278.3,45.5 278.7,45.5 279.0,45.6 279.3,45.6 279.7,45.6 280.0,45.7 280.3,45.7 280.7,45.7 281.0,45.8 281.3,45.8 281.7,45.8 282.0,45.8 282.3,45.8 282.7,45.9 283.0,45.9 283.3,45.9 283.7,45.9 284.0,45.9 284.3,45.9 284.7,46.0 285.0,46.0 285.3,46.0 285.7,46.0 286.0,46.0 286.3,46.0 286.7,46.0 287.0,46.0" fill="none" stroke="#b3202c" stroke-width="1.0" stroke-linejoin="round" />
<polyline points="210.9,46.0 211.2,46.0 211.6,46.0 211.9,46.0 212.2,46.0 212.6,46.0 212.9,46.0 213.2,46.0 213.6,46.0 213.9,46.0 214.2,46.0 214.6,46.0 214.9,46.0 215.2,46.0 215.6,46.0 215.9,46.0 216.2,46.0 216.6,46.0 216.9,46.0 217.2,46.0 217.6,46.0 217.9,46.0 218.2,46.0 218.6,46.0 218.9,46.0 219.2,46.0 219.6,46.0 219.9,46.0 220.2,46.0 220.6,46.0 220.9,46.0 221.2,46.0 221.6,46.0 221.9,46.0 222.2,46.0 222.6,46.0 222.9,46.0 223.2,46.0 223.6,46.0 223.9,46.0 224.3,46.0 224.6,46.0 224.9,46.0 225.3,46.0 225.6,46.0 225.9,46.0 226.3,46.0 226.6,45.9 226.9,45.9 227.3,45.9 227.6,45.9 227.9,45.9 228.3,45.9 228.6,45.9 228.9,45.9 229.3,45.9 229.6,45.9 229.9,45.9 230.3,45.9 230.6,45.9 230.9,45.9 231.3,45.9 231.6,45.9 231.9,45.9 232.3,45.9 232.6,45.9 232.9,45.9 233.3,45.9 233.6,45.9 233.9,45.9 234.3,45.9 234.6,45.9 234.9,45.9 235.3,45.8 235.6,45.8 235.9,45.8 236.3,45.8 236.6,45.8 236.9,45.8 237.3,45.8 237.6,45.8 237.9,45.8 238.3,45.8 238.6,45.8 238.9,45.8 239.3,45.8 239.6,45.8 239.9,45.8 240.3,45.7 240.6,45.7 240.9,45.7 241.3,45.7 241.6,45.7 241.9,45.7 242.3,45.7 242.6,45.7 242.9,45.7 243.3,45.6 243.6,45.6 243.9,45.6 244.3,45.6 244.6,45.6 244.9,45.6 245.3,45.5 245.6,45.5 245.9,45.5 246.3,45.5 246.6,45.5 246.9,45.4 247.3,45.4 247.6,45.4 247.9,45.4 248.3,45.3 248.6,45.3 248.9,45.3 249.3,45.2 249.6,45.2 250.0,45.2 250.3,45.1 250.6,45.1 251.0,45.0 251.3,45.0 251.6,44.9 252.0,44.9 252.3,44.8 252.6,44.8 253.0,44.7 253.3,44.6 253.6,44.5 254.0,44.5 254.3,44.4 254.6,44.3 255.0,44.1 255.3,44.0 255.6,43.9 256.0,43.7 256.3,43.6 256.6,43.4 257.0,43.2 257.3,43.0 257.6,42.7 258.0,42.5 258.3,42.1 258.6,41.8 259.0,41.4 259.3,40.9 259.6,40.4 260.0,39.8 260.3,39.1 260.6,38.4 261.0,37.4 261.3,36.3 261.6,35.1 262.0,33.5 262.3,31.7 262.6,29.6 263.0,27.1 263.3,24.1 263.6,20.7 264.0,16.9 264.3,12.8 264.6,8.8 265.0,5.3 265.3,2.9 265.6,2.2 266.0,3.3 266.3,6.0 266.6,9.6 267.0,13.7 267.3,17.8 267.6,21.5 268.0,24.8 268.3,27.7 268.6,30.1 269.0,32.2 269.3,33.9 269.6,35.4 270.0,36.6 270.3,37.6 270.6,38.5 271.0,39.3 271.3,40.0 271.6,40.6 272.0,41.1 272.3,41.5 272.6,41.9 273.0,42.2 273.3,42.5 273.6,42.8 274.0,43.0 274.3,43.2 274.6,43.4 275.0,43.6 275.3,43.8 275.7,43.9 276.0,44.0 276.3,44.2 276.7,44.3 277.0,44.4 277.3,44.5 277.7,44.6 278.0,44.6 278.3,44.7 278.7,44.8 279.0,44.8 279.3,44.9 279.7,45.0 280.0,45.0 280.3,45.1 280.7,45.1 281.0,45.1 281.3,45.2 281.7,45.2 282.0,45.3 282.3,45.3 282.7,45.3 283.0,45.3 283.3,45.4 283.7,45.4 284.0,45.4 284.3,45.4 284.7,45.5 285.0,45.5 285.3,45.5 285.7,45.5 286.0,45.5 286.3,45.6 286.7,45.6 287.0,45.6 287.3,45.6 287.7,45.6 288.0,45.6 288.3,45.7 288.7,45.7 289.0,45.7 289.3,45.7 289.7,45.7 290.0,45.7 290.3,45.7 290.7,45.7 291.0,45.7 291.3,45.8 291.7,45.8 292.0,45.8 292.3,45.8 292.7,45.8 293.0,45.8 293.3,45.8 293.7,45.8 294.0,45.8 294.3,45.8 294.7,45.8 295.0,45.8 295.3,45.8 295.7,45.8 296.0,45.9 296.3,45.9 296.7,45.9 297.0,45.9 297.3,45.9 297.7,45.9 298.0,45.9 298.3,45.9 298.7,45.9 299.0,45.9 299.3,45.9 299.7,45.9 300.0,45.9 300.4,45.9 300.7,45.9 301.0,45.9 301.4,45.9 301.7,45.9 302.0,45.9 302.4,45.9 302.7,45.9 303.0,45.9 303.4,45.9 303.7,45.9 304.0,45.9 304.4,45.9 304.7,45.9 305.0,46.0 305.4,46.0 305.7,46.0 306.0,46.0 306.4,46.0 306.7,46.0 307.0,46.0 307.4,46.0 307.7,46.0 308.0,46.0 308.4,46.0 308.7,46.0 309.0,46.0 309.4,46.0 309.7,46.0 310.0,46.0 310.4,46.0 310.7,46.0 311.0,46.0 311.4,46.0 311.7,46.0 312.0,46.0 312.4,46.0 312.7,46.0 313.0,46.0 313.4,46.0 313.7,46.0 314.0,46.0 314.4,46.0 314.7,46.0 315.0,46.0 315.4,46.0 315.7,46.0 316.0,46.0 316.4,46.0 316.7,46.0 317.0,46.0 317.4,46.0 317.7,46.0" fill="none" stroke="#1a1a1a" stroke-width="1.2" stroke-linejoin="round" />
<rect x="210.9" y="0.5" width="153.2" height="45.6" fill="none" stroke="#404040" stroke-width="1"/>
<line x1="210.4" y1="0.6" x2="364.6" y2="0.6" stroke="#151515" stroke-width="1.5"/>
<line x1="313" y1="46.1" x2="313" y2="43.9" stroke="#404040" stroke-width="0.8"/>
<text x="334.8" y="12.6" font-size="10.4" fill="#222" stroke="#222" stroke-width="0.2" textLength="24.0" lengthAdjust="spacingAndGlyphs">TDBC</text>
<text x="325.2" y="24.6" font-size="10.4" fill="#222" stroke="#222" stroke-width="0.2" textLength="32.2" lengthAdjust="spacingAndGlyphs">350 cm</text>
<text x="358.5" y="20.5" font-size="5.0" fill="#222" stroke="#222" stroke-width="0.2" textLength="3.6" lengthAdjust="spacingAndGlyphs">-1</text>
<text x="185.2" y="10.8" font-size="10.8" fill="#111" stroke="#111" stroke-width="0.22" textLength="5.7" lengthAdjust="spacingAndGlyphs">d</text>
<text x="197.3" y="56.2" font-size="10.4" fill="#222" stroke="#222" stroke-width="0.2" textLength="26.3" lengthAdjust="spacingAndGlyphs">15000</text>
<text x="246.9" y="56.2" font-size="10.4" fill="#222" stroke="#222" stroke-width="0.2" textLength="26.2" lengthAdjust="spacingAndGlyphs">17000</text>
<text x="298.4" y="56.2" font-size="10.4" fill="#222" stroke="#222" stroke-width="0.2" textLength="25.4" lengthAdjust="spacingAndGlyphs">19000</text>
<text x="347.8" y="56.2" font-size="10.4" fill="#222" stroke="#222" stroke-width="0.2" textLength="26.4" lengthAdjust="spacingAndGlyphs">21000</text>
<polygon points="239.4,106.9 239.4,107.0 239.9,106.5 240.4,105.9 240.9,105.1 241.4,104.2 241.9,103.2 242.0,103.0 242.4,102.1 242.9,100.8 243.4,99.2 243.9,97.5 244.4,95.8 244.9,93.9 245.0,93.5 245.4,91.8 245.9,89.4 246.4,86.8 246.9,84.0 247.4,81.3 247.9,78.7 248.4,76.3 248.9,74.3 249.0,74.0 249.4,72.7 249.9,71.2 250.4,69.8 250.9,68.6 251.4,67.5 251.9,66.6 252.0,66.5 252.4,65.9 252.9,65.2 253.4,64.6 253.9,64.1 254.4,63.8 254.8,63.7 254.9,63.7 255.4,63.8 255.9,64.0 256.4,64.3 256.9,64.6 257.4,65.0 257.9,65.4 258.0,65.5 258.4,65.9 258.9,66.4 259.4,67.1 259.9,67.9 260.4,68.7 260.9,69.5 261.4,70.2 261.5,70.4 261.9,71.0 262.4,71.9 262.9,72.8 263.4,73.7 263.9,74.6 264.4,75.6 264.9,76.5 265.4,77.3 265.9,78.2 266.4,78.9 266.9,79.6 267.3,80.0 267.4,80.1 267.9,80.6 268.4,81.0 268.9,81.4 269.4,81.8 269.9,82.2 270.4,82.5 270.9,82.8 271.4,83.2 271.9,83.4 272.0,83.5 272.4,83.7 272.9,84.0 273.4,84.2 273.9,84.5 274.4,84.7 274.9,84.9 275.4,85.1 275.9,85.3 276.4,85.5 276.9,85.8 277.0,85.8 277.4,86.0 277.9,86.2 278.4,86.4 278.9,86.5 279.4,86.7 279.9,87.0 280.4,87.2 280.9,87.4 281.0,87.5 281.4,87.7 281.9,88.1 282.4,88.5 282.9,89.0 283.4,89.4 283.9,89.9 284.4,90.4 284.6,90.6 284.9,90.9 285.4,91.4 285.9,92.0 286.4,92.6 286.9,93.1 287.4,93.7 287.9,94.3 288.4,94.9 288.5,95.0 288.9,95.4 289.4,95.9 289.9,96.4 290.4,96.9 290.9,97.4 291.4,98.0 291.9,98.6 292.3,99.2 292.4,99.4 292.9,100.2 293.4,101.3 293.9,102.4 294.4,103.7 294.5,104.0 294.9,105.2 295.4,107.0 295.4,106.9" fill="#cdcdcd" />
<polyline points="210.9,106.9 211.2,106.9 211.6,106.9 211.9,106.9 212.2,106.9 212.6,106.9 212.9,106.9 213.2,106.9 213.6,106.9 213.9,106.9 214.2,106.9 214.6,106.9 214.9,106.9 215.2,106.9 215.6,106.9 215.9,106.9 216.2,106.9 216.6,106.9 216.9,106.9 217.2,106.9 217.6,106.9 217.9,106.9 218.2,106.9 218.6,106.9 218.9,106.9 219.2,106.9 219.6,106.9 219.9,106.9 220.2,106.9 220.6,106.9 220.9,106.8 221.2,106.8 221.6,106.8 221.9,106.8 222.2,106.8 222.6,106.8 222.9,106.8 223.2,106.8 223.6,106.8 223.9,106.8 224.3,106.8 224.6,106.7 224.9,106.7 225.3,106.7 225.6,106.7 225.9,106.7 226.3,106.7 226.6,106.6 226.9,106.6 227.3,106.6 227.6,106.6 227.9,106.6 228.3,106.5 228.6,106.5 228.9,106.5 229.3,106.4 229.6,106.4 229.9,106.3 230.3,106.3 230.6,106.3 230.9,106.2 231.3,106.1 231.6,106.1 231.9,106.0 232.3,105.9 232.6,105.8 232.9,105.8 233.3,105.7 233.6,105.5 233.9,105.4 234.3,105.3 234.6,105.1 234.9,105.0 235.3,104.8 235.6,104.5 235.9,104.3 236.3,104.0 236.6,103.7 236.9,103.4 237.3,103.0 237.6,102.6 237.9,102.1 238.3,101.6 238.6,100.9 238.9,100.2 239.3,99.4 239.6,98.5 239.9,97.4 240.3,96.3 240.6,94.9 240.9,93.4 241.3,91.7 241.6,89.8 241.9,87.7 242.3,85.3 242.6,82.8 242.9,80.1 243.3,77.3 243.6,74.5 243.9,71.7 244.3,69.1 244.6,66.9 244.9,65.1 245.3,63.9 245.6,63.3 245.9,63.4 246.3,63.9 246.6,64.8 246.9,66.1 247.3,67.7 247.6,69.4 247.9,71.4 248.3,73.5 248.6,75.6 248.9,77.7 249.3,79.8 249.6,81.8 250.0,83.8 250.3,85.6 250.6,87.3 251.0,88.9 251.3,90.4 251.6,91.7 252.0,93.0 252.3,94.1 252.6,95.2 253.0,96.1 253.3,97.0 253.6,97.8 254.0,98.5 254.3,99.1 254.6,99.7 255.0,100.3 255.3,100.8 255.6,101.2 256.0,101.6 256.3,102.0 256.6,102.4 257.0,102.7 257.3,103.0 257.6,103.2 258.0,103.5 258.3,103.7 258.6,103.9 259.0,104.1 259.3,104.3 259.6,104.4 260.0,104.6 260.3,104.7 260.6,104.9 261.0,105.0 261.3,105.1 261.6,105.2 262.0,105.3 262.3,105.4 262.6,105.5 263.0,105.5 263.3,105.6 263.6,105.7 264.0,105.7 264.3,105.8 264.6,105.9 265.0,105.9 265.3,106.0 265.6,106.0 266.0,106.1 266.3,106.1 266.6,106.1 267.0,106.2 267.3,106.2 267.6,106.2 268.0,106.3 268.3,106.3 268.6,106.3 269.0,106.4 269.3,106.4 269.6,106.4 270.0,106.4 270.3,106.5 270.6,106.5 271.0,106.5 271.3,106.5 271.6,106.5 272.0,106.5 272.3,106.6 272.6,106.6 273.0,106.6 273.3,106.6 273.6,106.6 274.0,106.6 274.3,106.6 274.6,106.7 275.0,106.7 275.3,106.7 275.7,106.7 276.0,106.7 276.3,106.7 276.7,106.7 277.0,106.7 277.3,106.7 277.7,106.7 278.0,106.7 278.3,106.8 278.7,106.8 279.0,106.8 279.3,106.8 279.7,106.8 280.0,106.8 280.3,106.8 280.7,106.8 281.0,106.8 281.3,106.8 281.7,106.8 282.0,106.8 282.3,106.8 282.7,106.8 283.0,106.8 283.3,106.8 283.7,106.8 284.0,106.8" fill="none" stroke="#b3202c" stroke-width="1.0" stroke-linejoin="round" />
<polyline points="210.9,106.4 211.2,106.4 211.6,106.4 211.9,106.4 212.2,106.4 212.6,106.4 212.9,106.4 213.2,106.3 213.6,106.3 213.9,106.3 214.2,106.3 214.6,106.3 214.9,106.3 215.2,106.3 215.6,106.3 215.9,106.2 216.2,106.2 216.6,106.2 216.9,106.2 217.2,106.2 217.6,106.2 217.9,106.1 218.2,106.1 218.6,106.1 218.9,106.1 219.2,106.1 219.6,106.0 219.9,106.0 220.2,106.0 220.6,106.0 220.9,105.9 221.2,105.9 221.6,105.9 221.9,105.9 222.2,105.8 222.6,105.8 222.9,105.8 223.2,105.7 223.6,105.7 223.9,105.7 224.3,105.6 224.6,105.6 224.9,105.6 225.3,105.5 225.6,105.5 225.9,105.4 226.3,105.4 226.6,105.3 226.9,105.3 227.3,105.2 227.6,105.1 227.9,105.1 228.3,105.0 228.6,104.9 228.9,104.9 229.3,104.8 229.6,104.7 229.9,104.6 230.3,104.5 230.6,104.4 230.9,104.3 231.3,104.2 231.6,104.1 231.9,104.0 232.3,103.8 232.6,103.7 232.9,103.5 233.3,103.3 233.6,103.2 233.9,103.0 234.3,102.8 234.6,102.5 234.9,102.3 235.3,102.0 235.6,101.7 235.9,101.4 236.3,101.1 236.6,100.7 236.9,100.3 237.3,99.8 237.6,99.4 237.9,98.8 238.3,98.2 238.6,97.6 238.9,96.8 239.3,96.0 239.6,95.1 239.9,94.1 240.3,93.0 240.6,91.8 240.9,90.4 241.3,88.9 241.6,87.2 241.9,85.4 242.3,83.4 242.6,81.2 242.9,78.8 243.3,76.3 243.6,73.8 243.9,71.2 244.3,68.8 244.6,66.7 244.9,64.9 245.3,63.8 245.6,63.2 245.9,63.3 246.3,63.8 246.6,64.8 246.9,66.1 247.3,67.6 247.6,69.4 247.9,71.3 248.3,73.3 248.6,75.3 248.9,77.3 249.3,79.2 249.6,81.1 250.0,82.8 250.3,84.5 250.6,86.0 251.0,87.4 251.3,88.8 251.6,90.0 252.0,91.1 252.3,92.1 252.6,93.1 253.0,93.9 253.3,94.7 253.6,95.5 254.0,96.1 254.3,96.8 254.6,97.3 255.0,97.9 255.3,98.3 255.6,98.8 256.0,99.2 256.3,99.6 256.6,99.9 257.0,100.3 257.3,100.6 257.6,100.8 258.0,101.1 258.3,101.3 258.6,101.6 259.0,101.8 259.3,102.0 259.6,102.2 260.0,102.3 260.3,102.5 260.6,102.6 261.0,102.7 261.3,102.9 261.6,103.0 262.0,103.1 262.3,103.2 262.6,103.3 263.0,103.3 263.3,103.4 263.6,103.5 264.0,103.5 264.3,103.6 264.6,103.6 265.0,103.6 265.3,103.7 265.6,103.7 266.0,103.7 266.3,103.7 266.6,103.7 267.0,103.7 267.3,103.7 267.6,103.7 268.0,103.7 268.3,103.7 268.6,103.7 269.0,103.7 269.3,103.7 269.6,103.6 270.0,103.6 270.3,103.6 270.6,103.5 271.0,103.5 271.3,103.4 271.6,103.4 272.0,103.3 272.3,103.3 272.6,103.2 273.0,103.2 273.3,103.1 273.6,103.0 274.0,103.0 274.3,102.9 274.6,102.8 275.0,102.8 275.3,102.7 275.7,102.6 276.0,102.6 276.3,102.5 276.7,102.4 277.0,102.4 277.3,102.3 277.7,102.2 278.0,102.2 278.3,102.1 278.7,102.0 279.0,102.0 279.3,101.9 279.7,101.8 280.0,101.8 280.3,101.7 280.7,101.7 281.0,101.6 281.3,101.6 281.7,101.5 282.0,101.5 282.3,101.5 282.7,101.4 283.0,101.4 283.3,101.4 283.7,101.4 284.0,101.3 284.3,101.3 284.7,101.3 285.0,101.3 285.3,101.3 285.7,101.3 286.0,101.3 286.3,101.3 286.7,101.3 287.0,101.4 287.3,101.4 287.7,101.4 288.0,101.4 288.3,101.5 288.7,101.5 289.0,101.6 289.3,101.6 289.7,101.7 290.0,101.7 290.3,101.8 290.7,101.9 291.0,101.9 291.3,102.0 291.7,102.1 292.0,102.1 292.3,102.2 292.7,102.3 293.0,102.4 293.3,102.5 293.7,102.6 294.0,102.7 294.3,102.7 294.7,102.8 295.0,102.9 295.3,103.0 295.7,103.1 296.0,103.2 296.3,103.3 296.7,103.4 297.0,103.5 297.3,103.6 297.7,103.7 298.0,103.8 298.3,103.9 298.7,104.0 299.0,104.1 299.3,104.2 299.7,104.3 300.0,104.4 300.4,104.4 300.7,104.5 301.0,104.6 301.4,104.7 301.7,104.8 302.0,104.9 302.4,104.9 302.7,105.0 303.0,105.1 303.4,105.2 303.7,105.2 304.0,105.3 304.4,105.4 304.7,105.4 305.0,105.5 305.4,105.6 305.7,105.6 306.0,105.7 306.4,105.7 306.7,105.8 307.0,105.8 307.4,105.9 307.7,105.9 308.0,106.0 308.4,106.0 308.7,106.1 309.0,106.1 309.4,106.1 309.7,106.2" fill="none" stroke="#1a1a1a" stroke-width="1.2" stroke-linejoin="round" />
<rect x="210.9" y="60.9" width="153.2" height="46.0" fill="none" stroke="#404040" stroke-width="1"/>
<line x1="313.2" y1="106.9" x2="313.2" y2="104.7" stroke="#404040" stroke-width="0.8"/>
<text x="332.0" y="72.4" font-size="10.4" fill="#222" stroke="#222" stroke-width="0.2" textLength="29.7" lengthAdjust="spacingAndGlyphs">Cy3-Et</text>
<text x="325.2" y="85.8" font-size="10.4" fill="#222" stroke="#222" stroke-width="0.2" textLength="32.2" lengthAdjust="spacingAndGlyphs">275 cm</text>
<text x="358.5" y="81.7" font-size="5.0" fill="#222" stroke="#222" stroke-width="0.2" textLength="3.6" lengthAdjust="spacingAndGlyphs">-1</text>
<text x="200.5" y="117.1" font-size="10.4" fill="#222" stroke="#222" stroke-width="0.2" textLength="24.2" lengthAdjust="spacingAndGlyphs">15000</text>
<text x="248.5" y="117.1" font-size="10.4" fill="#222" stroke="#222" stroke-width="0.2" textLength="25.7" lengthAdjust="spacingAndGlyphs">17000</text>
<text x="299.3" y="117.1" font-size="10.4" fill="#222" stroke="#222" stroke-width="0.2" textLength="26.0" lengthAdjust="spacingAndGlyphs">19000</text>
<text x="348.8" y="117.1" font-size="10.4" fill="#222" stroke="#222" stroke-width="0.2" textLength="26.7" lengthAdjust="spacingAndGlyphs">21000</text>
<polygon points="219.0,166.4 219.0,166.2 219.5,165.9 220.0,165.6 220.5,165.3 221.0,164.9 221.5,164.5 222.0,164.0 222.5,163.5 223.0,163.0 223.0,163.0 223.5,162.5 224.0,161.9 224.5,161.2 225.0,160.6 225.5,159.8 226.0,159.1 226.5,158.3 227.0,157.4 227.5,156.5 228.0,155.6 228.5,154.7 228.8,154.0 229.0,153.7 229.5,152.6 229.9,151.4 230.4,150.1 230.9,148.8 231.4,147.4 231.9,146.1 232.0,146.0 232.4,144.9 232.9,143.6 233.4,142.3 233.9,141.1 234.4,139.8 234.9,138.6 235.4,137.4 235.6,137.0 235.9,136.3 236.4,135.2 236.9,134.1 237.4,133.1 237.9,132.1 238.4,131.2 238.5,131.0 238.9,130.2 239.4,129.3 239.9,128.4 240.4,127.5 240.9,126.8 241.3,126.3 241.4,126.2 241.9,125.7 242.4,125.2 242.9,124.8 243.4,124.5 243.9,124.2 244.0,124.2 244.4,124.1 244.9,123.9 245.4,123.7 245.9,123.6 246.4,123.5 246.9,123.5 247.0,123.5 247.4,123.5 247.9,123.6 248.4,123.8 248.9,124.0 249.4,124.2 249.9,124.4 250.4,124.7 250.9,124.9 251.0,125.0 251.4,125.2 251.8,125.5 252.3,125.8 252.8,126.1 253.3,126.4 253.8,126.8 254.3,127.2 254.8,127.5 255.3,127.9 255.8,128.3 255.8,128.3 256.3,128.7 256.8,129.2 257.3,129.6 257.8,130.1 258.3,130.6 258.8,131.1 259.3,131.6 259.5,131.8 259.8,132.1 260.3,132.6 260.8,133.2 261.3,133.7 261.8,134.2 262.3,134.8 262.8,135.3 263.3,135.8 263.5,136.0 263.8,136.3 264.3,136.8 264.8,137.3 265.3,137.8 265.8,138.2 266.3,138.7 266.8,139.2 267.3,139.6 267.8,140.0 268.0,140.2 268.3,140.4 268.8,140.8 269.3,141.2 269.8,141.6 270.3,142.0 270.8,142.3 271.3,142.7 271.8,143.0 272.3,143.3 272.8,143.6 273.0,143.7 273.3,143.8 273.7,144.0 274.2,144.3 274.7,144.5 275.2,144.6 275.7,144.8 276.2,145.0 276.7,145.1 277.2,145.3 277.7,145.4 278.0,145.5 278.2,145.6 278.7,145.7 279.2,145.8 279.7,146.0 280.2,146.1 280.7,146.2 281.2,146.3 281.7,146.4 282.2,146.5 282.7,146.5 282.7,146.5 283.2,146.5 283.7,146.5 284.2,146.5 284.7,146.5 285.2,146.4 285.7,146.4 286.2,146.4 286.7,146.4 287.2,146.4 287.7,146.3 288.2,146.3 288.7,146.3 289.2,146.3 289.7,146.3 290.0,146.3 290.2,146.3 290.7,146.3 291.2,146.3 291.7,146.4 292.2,146.4 292.7,146.5 293.2,146.6 293.7,146.7 294.2,146.8 294.7,146.9 295.2,147.0 295.6,147.1 296.0,147.2 296.1,147.2 296.6,147.4 297.1,147.6 297.6,147.9 298.1,148.1 298.6,148.4 299.0,148.5 299.1,148.5 299.6,148.7 300.1,148.9 300.6,149.0 301.1,149.2 301.6,149.3 302.1,149.4 302.6,149.6 303.1,149.7 303.6,149.8 304.1,150.0 304.6,150.1 305.1,150.2 305.6,150.4 306.0,150.5 306.1,150.5 306.6,150.7 307.1,150.8 307.6,151.0 308.1,151.1 308.6,151.3 309.1,151.4 309.6,151.6 310.1,151.7 310.6,151.9 311.1,152.0 311.6,152.2 312.1,152.4 312.6,152.5 313.1,152.7 313.6,152.9 314.1,153.1 314.6,153.3 314.6,153.3 315.1,153.5 315.6,153.7 316.1,153.9 316.6,154.1 317.1,154.4 317.5,154.6 318.0,154.9 318.5,155.2 319.0,155.4 319.5,155.7 320.0,156.0 320.0,156.0 320.5,156.3 321.0,156.6 321.5,157.0 322.0,157.3 322.5,157.7 323.0,158.1 323.5,158.5 324.0,159.0 324.0,159.0 324.5,159.6 325.0,160.2 325.5,160.9 326.0,161.6 326.5,162.5 326.5,162.5 327.0,163.6 327.5,164.8 328.0,166.2 328.0,166.4" fill="#cdcdcd" />
<polyline points="210.9,165.0 211.2,164.9 211.6,164.8 211.9,164.7 212.2,164.5 212.6,164.4 212.9,164.3 213.2,164.1 213.6,163.9 213.9,163.7 214.2,163.5 214.6,163.3 214.9,163.0 215.2,162.7 215.6,162.4 215.9,162.0 216.2,161.6 216.6,161.1 216.9,160.6 217.2,160.0 217.6,159.3 217.9,158.6 218.2,157.7 218.6,156.7 218.9,155.6 219.2,154.3 219.6,152.9 219.9,151.2 220.2,149.3 220.6,147.2 220.9,144.9 221.2,142.3 221.6,139.4 221.9,136.5 222.2,133.4 222.6,130.5 222.9,127.8 223.2,125.6 223.6,124.1 223.9,123.4 224.3,123.6 224.6,124.7 224.9,126.6 225.3,129.1 225.6,131.9 225.9,134.9 226.3,130.1 226.6,132.7 226.9,135.3 227.3,137.7 227.6,139.9 227.9,142.0 228.3,143.8 228.6,145.5 228.9,147.1 229.3,148.4 229.6,149.7 229.9,150.8 230.3,151.8 230.6,152.7 230.9,153.6 231.3,154.4 231.6,155.1 231.9,155.7 232.3,156.3 232.6,156.9 232.9,157.4 233.3,157.8 233.6,158.3 233.9,158.7 234.3,159.1 234.6,159.4 234.9,159.8 235.3,160.1 235.6,160.4 235.9,160.6 236.3,160.9 236.6,161.2 236.9,161.4 237.3,161.6 237.6,161.8 237.9,162.0 238.3,162.2 238.6,162.4 238.9,162.6 239.3,162.7 239.6,162.9 239.9,163.0 240.3,163.2 240.6,163.3 240.9,163.4 241.3,163.5 241.6,163.7 241.9,163.8 242.3,163.9 242.6,164.0 242.9,164.1 243.3,164.2 243.6,164.3 243.9,164.3 244.3,164.4 244.6,164.5 244.9,164.6 245.3,164.6 245.6,164.7 245.9,164.8 246.3,164.9 246.6,164.9 246.9,165.0 247.3,165.0 247.6,165.1 247.9,165.1 248.3,165.2 248.6,165.2 248.9,165.3 249.3,165.3 249.6,165.4 250.0,165.4 250.3,165.4 250.6,165.5 251.0,165.5 251.3,165.6 251.6,165.6 252.0,165.6 252.3,165.7 252.6,165.7 253.0,165.7 253.3,165.7 253.6,165.8 254.0,165.8 254.3,165.8 254.6,165.8 255.0,165.9 255.3,165.9 255.6,165.9 256.0,165.9 256.3,166.0 256.6,166.0 257.0,166.0 257.3,166.0 257.6,166.0 258.0,166.0 258.3,166.1 258.6,166.1 259.0,166.1 259.3,166.1 259.6,166.1 260.0,166.1 260.3,166.2 260.6,166.2 261.0,166.2 261.3,166.2 261.6,166.2 262.0,166.2 262.3,166.2 262.6,166.2 263.0,166.2 263.3,166.3 263.6,166.3 264.0,166.3 264.3,166.3 264.6,166.3 265.0,166.3 265.3,166.3 265.6,166.3 266.0,166.3 266.3,166.3 266.6,166.3 267.0,166.3 267.3,166.3 267.6,166.3" fill="none" stroke="#b3202c" stroke-width="1.0" stroke-linejoin="round" />
<polyline points="210.9,164.3 211.2,164.2 211.6,164.1 211.9,163.9 212.2,163.8 212.6,163.6 212.9,163.4 213.2,163.2 213.6,163.0 213.9,162.7 214.2,162.4 214.6,162.1 214.9,161.8 215.2,161.4 215.6,161.0 215.9,160.6 216.2,160.1 216.6,159.5 216.9,158.9 217.2,158.2 217.6,157.4 217.9,156.5 218.2,155.5 218.6,154.4 218.9,153.1 219.2,151.7 219.6,150.1 219.9,148.4 220.2,146.4 220.6,144.3 220.9,141.9 221.2,139.4 221.6,136.8 221.9,134.1 222.2,131.5 222.6,129.0 222.9,126.8 223.2,125.0 223.6,123.8 223.9,123.2 224.3,123.4 224.6,124.3 224.9,125.8 225.3,127.8 225.6,130.2 225.9,132.8 226.3,135.5 226.6,138.2 226.9,140.7 227.3,143.1 227.6,145.4 227.9,147.4 228.3,149.3 228.6,150.9 228.9,152.4 229.3,153.8 229.6,154.9 229.9,156.0 230.3,156.9 230.6,157.8 230.9,158.5 231.3,159.2 231.6,159.8 231.9,160.3 232.3,160.8 232.6,161.2 232.9,161.6 233.3,162.0 233.6,162.3 233.9,162.6 234.3,162.8 234.6,163.1 234.9,163.3 235.3,163.5 235.6,163.7 235.9,163.8 236.3,164.0 236.6,164.1 236.9,164.3 237.3,164.4 237.6,164.5 237.9,164.6 238.3,164.7 238.6,164.8 238.9,164.9 239.3,164.9 239.6,165.0 239.9,165.1 240.3,165.2 240.6,165.2 240.9,165.3 241.3,165.3 241.6,165.4 241.9,165.4 242.3,165.5 242.6,165.5 242.9,165.5 243.3,165.6 243.6,165.6 243.9,165.6 244.3,165.7 244.6,165.7 244.9,165.7 245.3,165.7 245.6,165.8 245.9,165.8 246.3,165.8 246.6,165.8 246.9,165.9 247.3,165.9 247.6,165.9 247.9,165.9 248.3,165.9 248.6,165.9 248.9,166.0 249.3,166.0 249.6,166.0 250.0,166.0 250.3,166.0 250.6,166.0 251.0,166.0 251.3,166.0 251.6,166.1 252.0,166.1 252.3,166.1 252.6,166.1 253.0,166.1 253.3,166.1 253.6,166.1 254.0,166.1 254.3,166.1 254.6,166.1 255.0,166.1 255.3,166.1 255.6,166.1 256.0,166.2 256.3,166.2 256.6,166.2 257.0,166.2 257.3,166.2 257.6,166.2 258.0,166.2 258.3,166.2 258.6,166.2 259.0,166.2 259.3,166.2 259.6,166.2 260.0,166.2 260.3,166.2 260.6,166.2 261.0,166.2 261.3,166.2 261.6,166.2 262.0,166.2 262.3,166.2 262.6,166.2 263.0,166.2 263.3,166.2 263.6,166.2 264.0,166.2 264.3,166.2 264.6,166.1 265.0,166.1 265.3,166.1 265.6,166.1 266.0,166.0 266.3,166.0 266.6,166.0 267.0,165.9 267.3,165.9 267.6,165.8 268.0,165.7 268.3,165.7 268.6,165.6 269.0,165.5 269.3,165.4 269.6,165.4 270.0,165.3 270.3,165.2 270.6,165.1 271.0,164.9 271.3,164.8 271.6,164.7 272.0,164.6 272.3,164.5 272.6,164.4 273.0,164.3 273.3,164.2 273.6,164.1 274.0,164.0 274.3,163.9 274.6,163.8 275.0,163.7 275.3,163.7 275.7,163.6 276.0,163.6 276.3,163.6 276.7,163.5 277.0,163.5 277.3,163.5 277.7,163.6 278.0,163.6 278.3,163.6 278.7,163.7 279.0,163.7 279.3,163.8 279.7,163.9 280.0,164.0 280.3,164.1 280.7,164.2 281.0,164.3 281.3,164.4 281.7,164.5 282.0,164.6 282.3,164.8 282.7,164.9 283.0,165.0 283.3,165.1 283.7,165.2 284.0,165.3 284.3,165.4 284.7,165.5 285.0,165.6 285.3,165.7 285.7,165.7 286.0,165.8 286.3,165.9 286.7,165.9 287.0,166.0 287.3,166.0 287.7,166.1 288.0,166.1 288.3,166.1 288.7,166.2 289.0,166.2 289.3,166.2 289.7,166.2 290.0,166.3 290.3,166.3 290.7,166.3 291.0,166.3 291.3,166.3 291.7,166.3" fill="none" stroke="#1a1a1a" stroke-width="1.2" stroke-linejoin="round" />
<rect x="212.5" y="120.4" width="153.2" height="46.0" fill="none" stroke="#404040" stroke-width="1"/>
<line x1="314.2" y1="166.4" x2="314.2" y2="164.20000000000002" stroke="#404040" stroke-width="0.8"/>
<line x1="263.5" y1="166.4" x2="263.5" y2="164.20000000000002" stroke="#404040" stroke-width="0.8"/>
<text x="337.3" y="132.7" font-size="10.4" fill="#222" stroke="#222" stroke-width="0.2" textLength="25.7" lengthAdjust="spacingAndGlyphs">Cy3-H</text>
<text x="326.5" y="143.1" font-size="10.4" fill="#222" stroke="#222" stroke-width="0.2" textLength="31.9" lengthAdjust="spacingAndGlyphs">500 cm</text>
<text x="359.5" y="139.0" font-size="5.0" fill="#222" stroke="#222" stroke-width="0.2" textLength="3.6" lengthAdjust="spacingAndGlyphs">-1</text>
<text x="198.4" y="177.2" font-size="10.4" fill="#222" stroke="#222" stroke-width="0.2" textLength="26.9" lengthAdjust="spacingAndGlyphs">15000</text>
<text x="248.5" y="177.2" font-size="10.4" fill="#222" stroke="#222" stroke-width="0.2" textLength="25.7" lengthAdjust="spacingAndGlyphs">17000</text>
<text x="299.3" y="177.2" font-size="10.4" fill="#222" stroke="#222" stroke-width="0.2" textLength="26.0" lengthAdjust="spacingAndGlyphs">19000</text>
<text x="349.6" y="177.2" font-size="10.4" fill="#222" stroke="#222" stroke-width="0.2" textLength="26.4" lengthAdjust="spacingAndGlyphs">21000</text>
<polygon points="241.3,226.9 241.3,226.7 241.8,226.5 242.3,226.3 242.8,226.0 243.3,225.7 243.8,225.4 244.3,225.1 244.8,224.7 245.3,224.4 245.8,224.0 246.3,223.6 246.8,223.2 247.0,223.0 247.3,222.7 247.8,222.3 248.3,221.7 248.8,221.2 249.3,220.6 249.8,220.0 250.3,219.3 250.8,218.7 251.3,218.0 251.8,217.3 252.0,217.0 252.3,216.6 252.8,215.9 253.3,215.1 253.8,214.3 254.3,213.5 254.8,212.6 255.3,211.8 255.8,210.9 256.0,210.5 256.3,210.0 256.8,209.1 257.3,208.2 257.8,207.2 258.3,206.2 258.8,205.2 259.3,204.2 259.6,203.5 259.8,203.1 260.3,201.9 260.8,200.7 261.3,199.5 261.8,198.2 262.3,197.0 262.5,196.5 262.8,195.8 263.3,194.7 263.8,193.5 264.3,192.4 264.8,191.3 265.3,190.2 265.4,190.0 265.8,189.2 266.3,188.2 266.8,187.3 267.3,186.4 267.8,185.7 268.0,185.5 268.3,185.3 268.8,184.8 269.3,184.4 269.8,184.1 270.3,183.8 270.8,183.7 271.0,183.7 271.3,183.7 271.8,183.7 272.3,183.7 272.8,183.7 273.3,183.8 273.8,183.8 274.3,183.8 274.8,183.9 275.3,183.9 275.8,184.0 276.0,184.0 276.3,184.0 276.8,184.1 277.3,184.2 277.8,184.3 278.3,184.4 278.8,184.5 279.3,184.7 279.8,184.8 280.3,185.0 280.8,185.2 280.8,185.2 281.3,185.4 281.8,185.7 282.3,186.0 282.8,186.3 283.3,186.6 283.8,187.0 284.3,187.4 284.8,187.8 285.0,188.0 285.3,188.2 285.8,188.7 286.3,189.1 286.8,189.6 287.3,190.1 287.8,190.7 288.3,191.2 288.8,191.7 289.3,192.2 289.6,192.5 289.8,192.6 290.3,193.1 290.8,193.5 291.3,194.0 291.8,194.4 292.3,194.8 292.8,195.3 293.3,195.7 293.8,196.1 294.3,196.5 294.8,196.8 295.0,197.0 295.3,197.2 295.8,197.5 296.3,197.9 296.8,198.2 297.3,198.5 297.8,198.8 298.3,199.1 298.8,199.4 299.2,199.6 299.3,199.6 299.8,199.9 300.3,200.1 300.8,200.4 301.3,200.6 301.8,200.8 302.2,201.1 302.7,201.3 303.2,201.5 303.7,201.7 304.0,201.8 304.2,201.9 304.7,202.1 305.2,202.3 305.7,202.5 306.2,202.6 306.7,202.8 307.2,203.0 307.7,203.1 308.2,203.3 308.7,203.5 308.8,203.5 309.2,203.7 309.7,203.8 310.2,204.0 310.7,204.2 311.2,204.4 311.7,204.6 312.2,204.8 312.7,204.9 313.0,205.0 313.2,205.1 313.7,205.2 314.2,205.3 314.7,205.4 315.2,205.6 315.7,205.7 316.2,205.8 316.7,205.9 317.2,206.0 317.7,206.1 318.2,206.2 318.5,206.3 318.7,206.4 319.2,206.5 319.7,206.6 320.2,206.8 320.7,206.9 321.2,207.1 321.7,207.3 322.2,207.4 322.7,207.6 323.2,207.7 323.7,207.9 324.0,208.0 324.2,208.1 324.7,208.3 325.2,208.4 325.7,208.6 326.2,208.8 326.7,209.0 327.2,209.2 327.7,209.4 328.2,209.5 328.7,209.7 329.2,209.9 329.7,210.1 330.0,210.2 330.2,210.3 330.7,210.5 331.2,210.6 331.7,210.8 332.2,211.0 332.7,211.1 333.2,211.3 333.7,211.5 334.2,211.6 334.7,211.8 335.2,212.0 335.7,212.2 336.2,212.3 336.7,212.5 337.0,212.6 337.2,212.7 337.7,212.9 338.2,213.0 338.7,213.2 339.2,213.4 339.7,213.6 340.2,213.8 340.7,214.0 341.2,214.2 341.7,214.4 342.2,214.5 342.7,214.7 343.2,214.9 343.5,215.0 343.7,215.1 344.2,215.2 344.7,215.4 345.2,215.6 345.7,215.8 346.2,215.9 346.7,216.1 347.2,216.3 347.7,216.4 348.2,216.6 348.7,216.8 349.2,216.9 349.7,217.1 350.0,217.2 350.2,217.3 350.7,217.4 351.2,217.6 351.7,217.8 352.2,218.0 352.7,218.1 353.2,218.3 353.7,218.5 354.2,218.6 354.7,218.8 355.2,219.0 355.7,219.2 356.2,219.4 356.7,219.7 357.0,219.8 357.2,219.9 357.7,220.1 358.2,220.4 358.7,220.6 359.2,220.9 359.7,221.3 360.2,221.7 360.5,222.0 360.7,222.2 361.2,223.0 361.7,224.1 362.2,225.4 362.7,226.7 362.7,226.9" fill="#cdcdcd" />
<polyline points="236.0,226.7 236.5,226.6 237.0,226.5 237.5,226.4 238.0,226.3 238.5,226.2 239.0,226.0 239.5,225.9 240.0,225.7 240.5,225.6 241.0,225.4 241.5,225.2 242.0,225.0 242.0,225.0 242.5,224.8 243.0,224.6 243.5,224.4 243.9,224.1 244.4,223.8 244.9,223.5 245.4,223.2 245.9,222.9 246.4,222.6 246.9,222.3 247.4,221.9 247.9,221.6 248.0,221.5 248.4,221.2 248.9,220.8 249.4,220.4 249.9,220.0 250.4,219.6 250.9,219.1 251.4,218.6 251.9,218.1 252.4,217.6 252.9,217.1 253.4,216.5 253.8,216.0 253.9,215.9 254.4,215.2 254.9,214.5 255.4,213.8 255.9,212.9 256.4,212.1 256.9,211.2 257.4,210.2 257.9,209.3 258.0,209.0 258.4,208.3 258.8,207.2 259.3,206.0 259.8,204.8 260.3,203.5 260.8,202.3 261.3,201.0 261.5,200.6 261.8,199.8 262.3,198.4 262.8,197.1 263.3,195.8 263.8,194.4 264.3,193.1 264.8,191.9 265.0,191.5 265.3,190.8 265.8,189.6 266.3,188.5 266.8,187.5 267.3,186.5 267.8,185.8 268.0,185.5 268.3,185.2 268.8,184.6 269.3,184.2 269.8,184.0 269.8,184.0 270.3,184.1 270.8,184.5 271.3,185.0 271.8,185.7 272.0,186.0 272.3,186.4 272.8,187.5 273.3,189.0 273.8,190.6 274.2,192.2 274.5,193.0 274.7,193.8 275.2,195.4 275.7,197.2 276.2,199.0 276.7,200.6 277.0,201.5 277.2,202.2 277.7,203.7 278.2,205.2 278.7,206.6 279.2,208.0 279.7,209.3 280.0,210.0 280.2,210.5 280.7,211.8 281.2,213.0 281.7,214.1 282.2,215.2 282.7,216.0 282.7,216.0 283.2,216.7 283.7,217.3 284.2,217.8 284.7,218.3 285.2,218.8 285.7,219.2 286.0,219.5 286.2,219.6 286.7,220.1 287.2,220.5 287.7,220.9 288.2,221.3 288.7,221.6 289.2,222.0 289.6,222.3 290.1,222.6 290.4,222.7 290.6,222.8 291.1,223.1 291.6,223.3 292.1,223.5 292.6,223.7 293.1,223.9 293.6,224.1 294.1,224.2 294.6,224.4 295.0,224.5 295.1,224.5 295.6,224.7 296.1,224.8 296.6,224.9 297.1,225.0 297.6,225.2 298.1,225.3 298.6,225.4 299.1,225.4 299.6,225.5 300.0,225.6 300.1,225.6 300.6,225.7 301.1,225.8 301.6,225.8 302.1,225.9 302.6,225.9 303.1,226.0 303.6,226.1 304.1,226.1 304.5,226.2 305.0,226.2 305.0,226.2 305.5,226.2 306.0,226.3 306.5,226.3 307.0,226.4 307.5,226.4 308.0,226.5 308.5,226.5 309.0,226.5 309.5,226.6 310.0,226.6 310.5,226.6 311.0,226.7 311.5,226.7 312.0,226.7" fill="none" stroke="#9c2f5f" stroke-width="1.0" stroke-linejoin="round" />
<polyline points="210.9,224.6 211.4,224.6 211.9,224.5 212.4,224.5 212.9,224.4 213.4,224.4 213.9,224.3 214.4,224.3 214.9,224.2 215.4,224.2 215.9,224.1 216.4,224.0 216.9,224.0 217.4,223.9 217.9,223.9 218.4,223.8 218.9,223.7 219.4,223.7 219.9,223.6 220.4,223.5 220.9,223.4 221.4,223.4 221.9,223.3 222.4,223.2 222.9,223.1 223.4,223.1 223.9,223.0 224.4,222.9 224.9,222.8 225.0,222.8 225.4,222.7 225.9,222.7 226.4,222.6 226.9,222.5 227.4,222.4 227.9,222.3 228.4,222.2 228.9,222.1 229.4,222.0 229.9,221.9 230.3,221.8 230.8,221.7 231.3,221.6 231.8,221.5 232.3,221.4 232.8,221.2 233.3,221.1 233.8,221.0 234.3,220.9 234.8,220.8 235.3,220.6 235.8,220.5 236.3,220.4 236.8,220.3 237.3,220.1 237.8,220.0 238.3,219.8 238.5,219.8 238.8,219.7 239.3,219.6 239.8,219.4 240.3,219.3 240.8,219.1 241.3,219.0 241.8,218.8 242.3,218.6 242.8,218.4 243.3,218.3 243.8,218.1 244.3,217.9 244.8,217.7 245.3,217.5 245.8,217.3 246.3,217.1 246.8,216.9 247.0,216.8 247.3,216.7 247.8,216.4 248.3,216.2 248.8,216.0 249.3,215.8 249.8,215.5 250.3,215.3 250.8,215.0 251.3,214.7 251.8,214.4 252.3,214.1 252.8,213.8 253.3,213.4 253.8,213.0 253.8,213.0 254.3,212.6 254.8,212.1 255.3,211.5 255.8,210.9 256.3,210.2 256.8,209.4 257.3,208.7 257.8,207.9 258.0,207.5 258.3,207.0 258.8,206.0 259.3,205.0 259.8,203.8 260.3,202.6 260.8,201.4 261.3,200.2 261.5,199.6 261.8,199.0 262.3,197.7 262.8,196.5 263.3,195.2 263.8,193.9 264.3,192.7 264.8,191.5 265.0,191.0 265.3,190.4 265.8,189.3 266.3,188.1 266.8,187.0 267.3,186.1 267.8,185.3 268.0,185.0 268.3,184.7 268.7,184.2 269.2,183.7 269.7,183.4 270.2,183.3 270.2,183.3 270.7,183.4 271.2,183.6 271.7,183.9 272.2,184.3 272.5,184.5 272.7,184.7 273.2,185.3 273.7,185.9 274.2,186.7 274.7,187.6 275.0,188.0 275.2,188.4 275.7,189.4 276.2,190.4 276.7,191.5 277.0,192.0 277.2,192.4 277.7,193.3 278.2,194.2 278.7,195.0 279.2,195.8 279.7,196.6 280.0,197.0 280.2,197.3 280.7,198.0 281.2,198.6 281.7,199.3 282.2,199.9 282.7,200.5 283.2,201.0 283.7,201.6 284.2,202.1 284.6,202.5 284.7,202.6 285.2,203.1 285.7,203.6 286.2,204.1 286.7,204.5 287.2,205.0 287.7,205.3 288.0,205.5 288.2,205.6 288.7,205.9 289.2,206.1 289.7,206.3 290.2,206.6 290.7,206.7 291.2,206.9 291.7,207.1 292.2,207.3 292.3,207.3 292.7,207.4 293.2,207.6 293.7,207.7 294.2,207.9 294.7,208.0 295.2,208.2 295.7,208.3 296.2,208.4 296.7,208.5 297.0,208.5 297.2,208.5 297.7,208.6 298.2,208.6 298.7,208.7 299.2,208.7 299.7,208.7 300.2,208.8 300.7,208.8 301.2,208.8 301.7,208.8 302.0,208.8 302.2,208.8 302.7,208.8 303.2,208.8 303.7,208.8 304.2,208.8 304.7,208.8 305.2,208.8 305.7,208.8 306.2,208.8 306.6,208.8 307.0,208.8 307.1,208.8 307.6,208.8 308.1,208.9 308.6,208.9 309.1,209.0 309.6,209.1 310.1,209.2 310.6,209.3 311.1,209.4 311.6,209.5 312.0,209.6 312.1,209.6 312.6,209.7 313.1,209.8 313.6,209.9 314.1,210.1 314.6,210.2 315.1,210.3 315.6,210.4 316.1,210.6 316.6,210.7 317.1,210.8 317.6,211.0 318.1,211.1 318.5,211.2 318.6,211.2 319.1,211.4 319.6,211.5 320.1,211.7 320.6,211.9 321.1,212.0 321.6,212.2 322.1,212.4 322.6,212.6 323.1,212.7 323.6,212.9 324.0,213.0 324.1,213.0 324.6,213.2 325.1,213.3 325.6,213.5 326.1,213.6 326.6,213.7 327.1,213.9 327.6,214.0 328.1,214.1 328.6,214.3 329.1,214.4 329.6,214.5 330.0,214.6 330.1,214.6 330.6,214.7 331.1,214.8 331.6,214.9 332.1,215.0 332.6,215.1 333.1,215.2 333.6,215.3 334.1,215.4 334.6,215.5 335.1,215.6 335.6,215.6 336.0,215.7 336.1,215.7 336.6,215.8 337.1,215.8 337.6,215.9 338.1,215.9 338.6,216.0 339.1,216.0 339.6,216.1 340.1,216.1 340.6,216.1 341.1,216.2 341.5,216.2 341.6,216.2 342.1,216.2 342.6,216.3 343.1,216.3 343.6,216.3 344.1,216.3 344.6,216.4 345.0,216.4 345.5,216.4 346.0,216.4 346.5,216.4 347.0,216.5 347.5,216.5 348.0,216.5 348.5,216.5 349.0,216.5 349.5,216.5 350.0,216.5 350.0,216.5 350.5,216.5 351.0,216.5 351.5,216.5 352.0,216.5 352.5,216.5 353.0,216.5 353.5,216.5 354.0,216.5 354.5,216.5 355.0,216.5 355.5,216.5 356.0,216.5 356.5,216.5 357.0,216.5 357.5,216.5 358.0,216.5 358.5,216.5 359.0,216.5 359.5,216.5 360.0,216.5 360.5,216.5 361.0,216.5 361.5,216.5 362.0,216.5 362.5,216.5 363.0,216.5 363.5,216.5 364.0,216.5" fill="none" stroke="#1a1a1a" stroke-width="1.2" stroke-linejoin="round" />
<rect x="210.9" y="181.0" width="153.2" height="45.9" fill="none" stroke="#404040" stroke-width="1"/>
<line x1="261.9" y1="226.9" x2="261.9" y2="224.70000000000002" stroke="#404040" stroke-width="0.8"/>
<line x1="312.7" y1="226.9" x2="312.7" y2="224.70000000000002" stroke="#404040" stroke-width="0.8"/>
<text x="330.4" y="191.1" font-size="10.4" fill="#222" stroke="#222" stroke-width="0.2" textLength="31.9" lengthAdjust="spacingAndGlyphs">Cy5-Ph</text>
<text x="323.8" y="201.6" font-size="10.4" fill="#222" stroke="#222" stroke-width="0.2" textLength="33.6" lengthAdjust="spacingAndGlyphs">600 cm</text>
<text x="358.5" y="197.5" font-size="5.0" fill="#222" stroke="#222" stroke-width="0.2" textLength="3.6" lengthAdjust="spacingAndGlyphs">-1</text>
<text x="200.4" y="236.4" font-size="10.4" fill="#222" stroke="#222" stroke-width="0.2" textLength="26.1" lengthAdjust="spacingAndGlyphs">11000</text>
<text x="248.5" y="236.4" font-size="10.4" fill="#222" stroke="#222" stroke-width="0.2" textLength="26.5" lengthAdjust="spacingAndGlyphs">13000</text>
<text x="301.9" y="236.4" font-size="10.4" fill="#222" stroke="#222" stroke-width="0.2" textLength="25.7" lengthAdjust="spacingAndGlyphs">15000</text>
<text x="348.5" y="236.4" font-size="10.4" fill="#222" stroke="#222" stroke-width="0.2" textLength="26.5" lengthAdjust="spacingAndGlyphs">17000</text>
<polygon points="241.3,286.9 241.3,287.0 241.8,286.9 242.3,286.8 242.8,286.6 243.3,286.4 243.8,286.1 244.3,285.9 244.8,285.6 245.0,285.5 245.3,285.3 245.8,285.0 246.3,284.6 246.8,284.2 247.3,283.7 247.8,283.2 248.3,282.6 248.8,282.0 249.0,281.7 249.3,281.3 249.8,280.3 250.3,279.1 250.8,277.7 251.3,276.3 251.8,274.7 252.3,273.1 252.8,271.6 252.9,271.2 253.3,270.0 253.8,268.3 254.3,266.5 254.8,264.8 255.3,263.1 255.3,263.0 255.8,261.5 256.3,260.0 256.8,258.4 257.3,257.0 257.7,255.8 257.8,255.6 258.3,254.4 258.8,253.1 259.3,252.0 259.8,250.9 260.0,250.5 260.3,250.1 260.8,249.3 261.3,248.5 261.8,247.9 262.2,247.3 262.5,247.0 262.7,246.8 263.2,246.3 263.7,245.8 264.2,245.5 264.7,245.1 265.0,245.0 265.2,244.9 265.7,244.6 266.2,244.4 266.7,244.3 267.2,244.2 267.3,244.2 267.7,244.2 268.2,244.2 268.7,244.3 269.2,244.3 269.7,244.4 270.2,244.5 270.7,244.6 271.2,244.7 271.7,244.8 272.0,244.8 272.2,244.8 272.7,244.9 273.2,245.1 273.7,245.2 274.2,245.3 274.7,245.5 275.2,245.6 275.7,245.8 276.2,245.9 276.7,246.1 277.0,246.2 277.2,246.3 277.7,246.5 278.2,246.7 278.7,247.0 279.2,247.2 279.7,247.5 280.2,247.8 280.7,248.0 281.2,248.2 281.7,248.4 282.2,248.5 282.7,248.5 282.7,248.5 283.2,248.5 283.7,248.4 284.2,248.2 284.7,248.0 285.2,247.8 285.7,247.6 286.0,247.5 286.2,247.4 286.7,247.2 287.2,246.9 287.7,246.5 288.2,246.2 288.7,245.9 289.2,245.5 289.7,245.3 290.2,245.1 290.4,245.0 290.7,244.9 291.2,244.8 291.7,244.7 292.2,244.6 292.7,244.5 293.2,244.4 293.7,244.3 294.2,244.2 294.7,244.2 295.0,244.2 295.2,244.2 295.7,244.2 296.2,244.2 296.7,244.2 297.2,244.2 297.7,244.2 298.2,244.2 298.7,244.2 299.2,244.2 299.2,244.2 299.7,244.2 300.2,244.3 300.7,244.5 301.2,244.7 301.7,244.9 302.2,245.1 302.6,245.3 303.0,245.5 303.1,245.6 303.6,245.8 304.1,246.1 304.6,246.4 305.1,246.7 305.6,247.1 306.1,247.4 306.6,247.8 307.0,248.0 307.1,248.1 307.6,248.4 308.1,248.8 308.6,249.2 309.1,249.6 309.6,249.9 310.1,250.3 310.6,250.7 311.0,251.0 311.1,251.1 311.6,251.5 312.1,251.9 312.6,252.3 313.1,252.7 313.6,253.1 314.1,253.5 314.6,253.8 314.6,253.8 315.1,254.1 315.6,254.5 316.1,254.8 316.6,255.1 317.1,255.4 317.6,255.7 318.1,255.9 318.6,256.2 319.0,256.4 319.1,256.5 319.6,256.7 320.1,256.9 320.6,257.2 321.1,257.4 321.6,257.6 322.1,257.8 322.6,258.0 323.1,258.3 323.6,258.5 324.1,258.7 324.2,258.7 324.6,258.9 325.1,259.1 325.6,259.2 326.1,259.4 326.6,259.6 327.1,259.8 327.6,260.0 328.1,260.2 328.6,260.3 329.1,260.5 329.6,260.7 330.1,260.9 330.6,261.1 331.0,261.2 331.1,261.2 331.6,261.4 332.1,261.6 332.6,261.8 333.1,261.9 333.6,262.1 334.1,262.3 334.6,262.4 335.1,262.6 335.6,262.8 336.1,262.9 336.6,263.1 337.1,263.3 337.6,263.5 337.7,263.5 338.1,263.6 338.6,263.8 339.1,264.0 339.6,264.1 340.1,264.3 340.6,264.5 341.1,264.7 341.6,264.8 342.1,265.0 342.6,265.2 343.1,265.4 343.6,265.5 344.0,265.7 344.0,265.7 344.5,265.9 345.0,266.1 345.5,266.2 346.0,266.4 346.5,266.6 347.0,266.8 347.5,267.0 348.0,267.1 348.5,267.3 349.0,267.5 349.5,267.7 350.0,267.9 350.5,268.1 351.0,268.2 351.2,268.3 351.5,268.4 352.0,268.6 352.5,268.8 353.0,269.0 353.5,269.1 354.0,269.3 354.5,269.5 355.0,269.7 355.5,269.9 356.0,270.1 356.5,270.2 357.0,270.4 357.5,270.6 358.0,270.9 358.5,271.1 358.8,271.2 359.0,271.3 359.5,271.5 360.0,271.8 360.5,272.0 361.0,272.3 361.5,272.6 362.0,272.8 362.5,273.1 363.0,273.4 363.5,273.7 364.0,274.0 364.0,286.9" fill="#cdcdcd" />
<polyline points="241.3,287.0 241.8,286.9 242.3,286.8 242.8,286.8 243.3,286.7 243.8,286.6 244.3,286.5 244.8,286.4 245.3,286.4 245.8,286.3 246.3,286.2 246.8,286.1 247.3,286.1 247.8,286.0 248.3,285.9 248.8,285.8 249.0,285.8 249.3,285.8 249.8,285.7 250.3,285.6 250.8,285.6 251.3,285.5 251.8,285.4 252.3,285.4 252.8,285.3 253.3,285.2 253.8,285.2 254.3,285.1 254.8,285.0 255.3,285.0 255.8,284.9 256.2,284.8 256.7,284.7 257.2,284.7 257.7,284.6 257.7,284.6 258.2,284.5 258.7,284.4 259.2,284.3 259.7,284.2 260.2,284.1 260.7,284.1 261.2,284.0 261.7,283.9 262.2,283.8 262.7,283.7 263.0,283.6 263.2,283.6 263.7,283.5 264.2,283.4 264.7,283.3 265.2,283.2 265.7,283.1 266.2,283.0 266.7,282.9 267.2,282.7 267.7,282.6 267.7,282.6 268.2,282.4 268.7,282.3 269.2,282.1 269.7,281.9 270.2,281.7 270.7,281.4 271.0,281.3 271.2,281.2 271.7,280.9 272.2,280.7 272.7,280.4 273.2,280.0 273.7,279.6 273.8,279.5 274.2,279.1 274.7,278.5 275.2,277.8 275.7,277.1 276.2,276.2 276.7,275.3 276.9,274.9 277.2,274.3 277.7,273.2 278.2,271.9 278.5,271.0 278.7,270.5 279.2,269.1 279.7,267.6 280.0,266.5 280.2,265.9 280.7,264.2 281.2,262.4 281.6,260.8 281.7,260.6 282.2,258.6 282.7,256.6 283.1,254.9 283.2,254.7 283.7,252.7 284.2,250.7 284.4,249.8 284.7,248.9 285.2,247.2 285.4,246.5 285.6,245.9 286.1,244.8 286.5,244.2 286.6,244.0 287.1,243.5 287.4,243.4 287.6,243.5 288.1,243.8 288.5,244.2 288.6,244.4 289.1,245.2 289.6,246.3 289.6,246.4 290.1,247.9 290.6,249.6 290.9,250.5 291.1,251.3 291.6,253.1 292.1,254.9 292.6,256.5 292.6,256.6 293.1,258.2 293.6,259.7 294.1,261.2 294.6,262.6 294.6,262.7 295.1,264.1 295.6,265.4 296.1,266.8 296.2,267.0 296.6,268.1 297.1,269.5 297.6,270.8 297.7,271.0 298.1,271.9 298.6,272.9 299.1,273.8 299.6,274.7 300.1,275.5 300.6,276.2 300.8,276.5 301.1,276.9 301.6,277.5 302.1,278.1 302.6,278.6 303.1,279.1 303.6,279.5 304.1,279.9 304.6,280.3 304.6,280.3 305.1,280.6 305.6,280.9 306.1,281.2 306.6,281.5 307.1,281.8 307.6,282.0 308.1,282.2 308.6,282.4 309.1,282.6 309.2,282.6 309.6,282.7 310.1,282.8 310.6,283.0 311.1,283.1 311.6,283.2 312.1,283.3 312.6,283.4 313.1,283.5 313.6,283.5 314.1,283.6 314.6,283.7 315.1,283.8 315.4,283.8 315.5,283.8 316.0,283.9 316.5,283.9 317.0,284.0 317.5,284.0 318.0,284.1 318.5,284.1 319.0,284.2 319.5,284.2 320.0,284.2 320.5,284.3 321.0,284.3 321.5,284.3 322.0,284.4 322.5,284.4 323.0,284.5 323.5,284.5 324.0,284.5 324.5,284.6 324.6,284.6 325.0,284.6 325.5,284.7 326.0,284.7 326.5,284.8 327.0,284.9 327.5,284.9 328.0,285.0 328.5,285.0 329.0,285.1 329.5,285.1 330.0,285.2" fill="none" stroke="#7a5aa6" stroke-width="1.0" stroke-linejoin="round" />
<polyline points="268.3,285.0 268.8,284.8 269.3,284.7 269.8,284.5 270.3,284.3 270.8,284.1 271.3,283.9 271.8,283.7 272.0,283.6 272.3,283.5 272.8,283.3 273.3,283.1 273.8,282.9 274.3,282.6 274.8,282.3 275.3,281.9 275.4,281.8 275.8,281.4 276.2,280.6 276.7,279.5 277.0,279.0 277.2,278.5 277.7,277.2 278.2,275.7 278.5,274.9 278.7,274.1 279.2,272.4 279.7,270.5 280.0,269.5 280.2,268.7 280.7,267.0 281.2,265.3 281.5,264.2 281.7,263.3 282.2,261.2 282.7,259.0 283.1,257.2 283.2,256.7 283.7,254.4 284.2,252.1 284.6,250.3 284.7,249.9 285.2,247.8 285.7,246.0 285.8,245.7 286.2,244.7 286.7,243.8 286.7,243.8 287.2,243.2 287.4,243.1 287.7,243.2 288.2,243.7 288.3,243.8 288.7,244.4 289.2,245.6 289.2,245.7 289.7,246.7 290.2,247.9 290.7,249.1 290.8,249.5 291.2,250.4 291.6,251.8 292.1,253.3 292.3,253.7 292.6,254.7 293.1,256.1 293.6,257.5 293.8,258.0 294.1,258.9 294.6,260.3 295.1,261.7 295.4,262.4 295.6,263.0 296.1,264.4 296.6,265.8 296.9,266.5 297.1,267.0 297.6,268.0 298.1,269.0 298.5,269.8 298.6,270.0 299.1,271.0 299.6,271.9 300.0,272.6 300.1,272.7 300.6,273.5 301.1,274.2 301.6,274.8 302.1,275.4 302.6,275.9 303.1,276.5 303.1,276.5 303.6,277.0 304.1,277.5 304.6,277.9 305.1,278.4 305.6,278.7 306.1,279.1 306.2,279.2 306.6,279.4 307.1,279.7 307.5,280.0 308.0,280.3 308.5,280.6 309.0,280.8 309.5,281.0 310.0,281.2 310.5,281.4 310.8,281.5 311.0,281.6 311.5,281.7 312.0,281.9 312.5,282.0 313.0,282.1 313.5,282.2 314.0,282.4 314.5,282.5 315.0,282.6 315.5,282.7 316.0,282.7 316.5,282.8 316.9,282.9 317.0,282.9 317.5,283.0 318.0,283.1 318.5,283.1 319.0,283.2 319.5,283.3 320.0,283.3 320.5,283.4 321.0,283.4 321.5,283.5 322.0,283.6 322.5,283.6 322.9,283.6 323.4,283.7 323.9,283.7 324.4,283.8 324.6,283.8 324.9,283.8 325.4,283.9 325.9,283.9 326.4,283.9 326.9,284.0 327.4,284.0 327.9,284.1 328.4,284.1 328.9,284.1 329.4,284.1 329.9,284.2 330.4,284.2" fill="none" stroke="#1a1a2a" stroke-width="1.2" stroke-linejoin="round" />
<rect x="210.9" y="241.4" width="153.2" height="45.5" fill="none" stroke="#404040" stroke-width="1"/>
<line x1="249.3" y1="286.9" x2="249.3" y2="284.7" stroke="#404040" stroke-width="0.8"/>
<line x1="325" y1="286.9" x2="325" y2="284.7" stroke="#404040" stroke-width="0.8"/>
<text x="329.0" y="251.6" font-size="10.4" fill="#222" stroke="#222" stroke-width="0.2" textLength="31.8" lengthAdjust="spacingAndGlyphs">Cy7-Ph</text>
<text x="325.2" y="262.6" font-size="10.4" fill="#222" stroke="#222" stroke-width="0.2" textLength="32.4" lengthAdjust="spacingAndGlyphs">400 cm</text>
<text x="358.7" y="258.5" font-size="5.0" fill="#222" stroke="#222" stroke-width="0.2" textLength="3.6" lengthAdjust="spacingAndGlyphs">-1</text>
<text x="239.6" y="297.1" font-size="10.4" fill="#222" stroke="#222" stroke-width="0.2" textLength="21.6" lengthAdjust="spacingAndGlyphs">9000</text>
<text x="314.2" y="297.1" font-size="10.4" fill="#222" stroke="#222" stroke-width="0.2" textLength="26.2" lengthAdjust="spacingAndGlyphs">11000</text>
<polygon points="227.5,346.9 227.5,347.0 228.0,346.9 228.5,346.7 229.0,346.4 229.5,346.0 229.5,346.0 230.0,345.5 230.5,344.7 230.8,344.2 231.0,343.8 231.5,342.7 232.0,341.4 232.5,339.9 233.0,338.4 233.1,338.0 233.5,336.7 234.0,334.7 234.5,332.7 235.0,330.5 235.4,328.8 235.5,328.5 236.0,326.4 236.5,324.4 237.0,322.3 237.5,320.3 237.7,319.5 238.0,318.5 238.5,316.6 239.0,314.9 239.5,313.2 240.0,311.9 240.0,311.8 240.5,310.8 241.0,309.8 241.5,309.0 241.6,308.8 242.0,308.3 242.5,307.7 243.0,307.2 243.1,307.0 243.5,306.6 244.0,305.9 244.5,305.2 245.0,304.8 245.4,304.6 245.5,304.6 245.9,304.8 246.4,305.2 246.9,305.8 247.4,306.4 247.7,306.6 247.9,306.8 248.4,307.3 248.9,307.8 249.4,308.3 249.9,308.7 250.4,309.1 250.8,309.3 250.9,309.4 251.4,309.6 251.9,309.8 252.4,310.0 252.9,310.1 253.4,310.2 253.5,310.2 253.9,310.2 254.4,310.1 254.9,310.1 255.4,310.0 255.4,310.0 255.9,309.9 256.4,309.7 256.9,309.4 257.4,309.1 257.9,308.9 258.4,308.6 258.5,308.6 258.9,308.4 259.4,308.2 259.9,307.9 260.4,307.6 260.9,307.4 261.4,307.3 261.9,307.2 262.0,307.2 262.4,307.2 262.9,307.2 263.4,307.3 263.9,307.4 264.4,307.4 264.9,307.5 265.4,307.6 265.9,307.7 266.2,307.8 266.4,307.8 266.9,308.0 267.4,308.2 267.9,308.4 268.4,308.7 268.9,308.9 269.0,309.0 269.4,309.2 269.9,309.5 270.4,309.8 270.9,310.1 271.4,310.4 271.9,310.8 272.3,311.1 272.4,311.2 272.9,311.6 273.4,312.1 273.9,312.7 274.4,313.3 274.9,313.9 275.4,314.5 275.9,315.1 276.4,315.7 276.9,316.3 276.9,316.3 277.4,316.8 277.9,317.3 278.4,317.8 278.9,318.4 279.4,318.9 279.9,319.4 280.4,319.9 280.9,320.3 281.4,320.8 281.5,320.9 281.9,321.2 282.4,321.6 282.8,322.0 283.3,322.4 283.8,322.8 284.3,323.2 284.8,323.5 285.3,323.9 285.5,324.0 285.8,324.2 286.3,324.6 286.8,324.9 287.3,325.3 287.8,325.6 288.3,325.9 288.8,326.2 289.2,326.4 289.3,326.5 289.8,326.7 290.3,327.0 290.8,327.2 291.3,327.4 291.8,327.6 292.3,327.8 292.8,328.0 293.3,328.2 293.8,328.3 294.0,328.4 294.3,328.5 294.8,328.7 295.3,328.8 295.8,328.9 296.3,329.1 296.8,329.2 297.3,329.3 297.8,329.5 298.3,329.6 298.8,329.7 299.2,329.8 299.3,329.8 299.8,329.9 300.3,330.1 300.8,330.2 301.3,330.3 301.8,330.4 302.3,330.5 302.8,330.6 303.3,330.7 303.8,330.8 304.0,330.8 304.3,330.8 304.8,330.9 305.3,331.0 305.8,331.0 306.3,331.1 306.8,331.1 307.3,331.1 307.8,331.2 308.3,331.2 308.8,331.2 308.8,331.2 309.3,331.2 309.8,331.1 310.3,331.0 310.8,330.9 311.3,330.8 311.8,330.6 312.3,330.5 312.8,330.4 313.0,330.3 313.3,330.2 313.8,330.1 314.3,330.0 314.8,329.9 315.3,329.7 315.8,329.7 316.3,329.6 316.5,329.6 316.8,329.6 317.3,329.6 317.8,329.7 318.3,329.8 318.8,330.0 319.3,330.1 319.7,330.2 320.0,330.3 320.2,330.4 320.7,330.5 321.2,330.7 321.7,330.9 322.2,331.0 322.7,331.3 323.2,331.5 323.7,331.7 324.2,332.0 324.2,332.0 324.7,332.4 325.2,332.8 325.7,333.2 326.2,333.7 326.7,334.2 327.0,334.5 327.2,334.7 327.7,335.3 328.2,335.9 328.7,336.5 329.2,337.0 329.7,337.6 330.0,337.9 330.2,338.1 330.7,338.6 331.2,339.1 331.7,339.5 332.2,340.0 332.5,340.3 332.7,340.5 333.2,341.0 333.7,341.5 334.2,342.0 334.7,342.6 334.8,342.7 335.2,343.2 335.7,343.9 336.2,344.6 336.5,345.0 336.7,345.3 337.2,346.1 337.7,347.0 337.7,346.9" fill="#cdcdcd" />
<polyline points="228.0,347.0 228.5,346.9 229.0,346.7 229.5,346.6 230.0,346.4 230.5,346.3 231.0,346.1 231.5,346.0 232.0,345.8 232.5,345.7 233.0,345.5 233.0,345.5 233.5,345.4 234.0,345.2 234.5,345.0 235.0,344.9 235.4,344.7 235.9,344.6 236.4,344.4 236.9,344.2 237.4,344.1 237.9,343.9 238.4,343.7 238.5,343.7 238.9,343.6 239.4,343.4 239.9,343.2 240.4,343.1 240.9,342.9 241.4,342.8 241.9,342.6 242.4,342.4 242.9,342.2 243.4,342.0 243.5,342.0 243.9,341.8 244.4,341.6 244.9,341.4 245.4,341.2 245.9,341.0 246.4,340.8 246.9,340.5 247.4,340.2 247.9,339.9 248.0,339.8 248.4,339.5 248.9,339.1 249.4,338.6 249.8,338.0 250.3,337.4 250.8,336.7 251.0,336.5 251.3,336.0 251.8,335.2 252.3,334.2 252.8,333.2 253.3,332.1 253.8,331.0 253.8,331.0 254.3,329.7 254.8,328.2 255.3,326.6 255.8,325.0 255.8,325.0 256.3,323.3 256.8,321.4 257.3,319.4 257.7,317.7 257.8,317.3 258.3,314.7 258.8,312.0 259.0,311.0 259.3,309.7 259.8,307.6 260.3,306.0 260.3,306.0 260.8,305.1 261.3,304.3 261.8,304.0 261.8,304.0 262.3,304.3 262.8,305.1 263.0,305.5 263.3,306.1 263.8,308.0 264.2,310.0 264.2,310.2 264.7,312.6 265.2,315.2 265.6,317.0 265.7,317.7 266.2,320.3 266.7,322.8 267.2,325.1 267.3,325.4 267.7,327.0 268.2,328.7 268.7,330.2 269.0,331.0 269.2,331.6 269.7,332.8 270.2,333.9 270.7,334.9 271.0,335.5 271.2,335.9 271.7,336.8 272.2,337.6 272.7,338.4 273.0,338.8 273.2,339.0 273.7,339.6 274.2,340.1 274.7,340.6 275.2,341.1 275.7,341.5 276.2,341.8 276.5,342.0 276.7,342.1 277.2,342.3 277.7,342.6 278.2,342.8 278.6,343.0 279.1,343.2 279.6,343.4 280.1,343.5 280.6,343.7 280.8,343.7 281.1,343.8 281.6,343.9 282.1,344.0 282.6,344.1 283.1,344.2 283.6,344.3 284.1,344.4 284.6,344.4 285.0,344.5 285.1,344.5 285.6,344.6 286.1,344.6 286.6,344.7 287.1,344.7 287.6,344.8 288.1,344.8 288.6,344.8 289.1,344.9 289.6,344.9 290.1,345.0 290.4,345.0 290.6,345.0 291.1,345.1 291.6,345.1 292.1,345.1 292.6,345.2 293.0,345.2 293.5,345.3 294.0,345.3 294.5,345.4 295.0,345.4 295.5,345.4 296.0,345.5 296.5,345.5 297.0,345.6 297.5,345.6 298.0,345.6 298.5,345.7 299.0,345.7 299.5,345.8 300.0,345.8" fill="none" stroke="#7a5aa6" stroke-width="1.0" stroke-linejoin="round" />
<polyline points="225.0,347.0 225.5,346.9 226.0,346.8 226.5,346.8 227.0,346.7 227.5,346.6 228.0,346.5 228.5,346.4 229.0,346.3 229.5,346.2 230.0,346.2 230.5,346.1 231.0,346.0 231.5,345.9 232.0,345.8 232.0,345.8 232.5,345.7 233.0,345.6 233.4,345.5 233.9,345.4 234.4,345.3 234.9,345.2 235.4,345.1 235.9,345.0 236.4,344.9 236.9,344.9 237.4,344.8 237.9,344.7 238.4,344.6 238.5,344.6 238.9,344.5 239.4,344.5 239.9,344.4 240.4,344.4 240.9,344.3 241.4,344.2 241.9,344.2 242.4,344.1 242.9,344.1 243.4,344.0 243.9,344.0 244.4,343.9 244.9,343.8 245.0,343.8 245.4,343.7 245.9,343.7 246.4,343.6 246.9,343.5 247.4,343.4 247.9,343.3 248.4,343.2 248.9,343.1 249.4,342.9 249.8,342.8 250.0,342.7 250.3,342.6 250.8,342.3 251.3,342.0 251.8,341.6 252.3,341.2 252.5,341.0 252.8,340.6 253.3,340.0 253.8,339.1 254.3,338.1 254.8,337.0 254.8,337.0 255.3,335.3 255.8,333.2 256.3,331.0 256.3,331.0 256.8,328.5 257.3,325.8 257.7,323.5 257.8,322.9 258.3,319.4 258.7,316.5 258.8,315.8 259.3,312.0 259.6,310.0 259.8,309.0 260.3,306.8 260.7,305.5 260.8,305.3 261.3,304.4 261.8,303.8 262.0,303.7 262.3,303.8 262.8,304.5 263.3,305.4 263.3,305.5 263.8,307.1 264.3,309.3 264.3,309.5 264.8,311.3 265.3,313.2 265.4,313.8 265.8,315.2 266.2,317.3 266.7,319.3 267.2,321.0 267.2,321.1 267.7,322.9 268.2,324.6 268.7,326.1 269.2,327.3 269.2,327.4 269.7,328.5 270.2,329.5 270.7,330.4 271.2,331.3 271.7,332.1 272.0,332.5 272.2,332.8 272.7,333.5 273.2,334.1 273.7,334.7 274.2,335.2 274.7,335.7 275.0,336.0 275.2,336.2 275.7,336.6 276.2,337.1 276.7,337.5 277.2,337.9 277.7,338.3 278.2,338.6 278.5,338.8 278.7,338.9 279.2,339.2 279.7,339.5 280.2,339.7 280.7,340.0 281.2,340.2 281.7,340.4 282.2,340.6 282.6,340.8 282.7,340.8 283.1,341.0 283.6,341.1 284.1,341.3 284.6,341.4 285.1,341.6 285.6,341.7 286.1,341.8 286.6,342.0 287.1,342.1 287.6,342.2 288.1,342.3 288.6,342.4 289.0,342.5 289.1,342.5 289.6,342.6 290.1,342.7 290.6,342.8 291.1,342.9 291.6,343.0 292.1,343.1 292.6,343.2 293.1,343.3 293.6,343.4 294.1,343.4 294.6,343.5 295.1,343.6 295.6,343.6 296.1,343.7 296.2,343.7 296.6,343.7 297.1,343.8 297.6,343.8 298.1,343.9 298.6,343.9 299.0,344.0 299.5,344.0 300.0,344.1 300.5,344.1 301.0,344.1 301.5,344.2 302.0,344.2 302.5,344.2 303.0,344.3 303.5,344.3 304.0,344.3 304.5,344.3 305.0,344.4 305.5,344.4 306.0,344.4 306.5,344.4 307.0,344.4" fill="none" stroke="#1a1a2a" stroke-width="1.2" stroke-linejoin="round" />
<rect x="210.9" y="301.2" width="152.5" height="45.7" fill="none" stroke="#404040" stroke-width="1"/>
<line x1="248.8" y1="346.9" x2="248.8" y2="344.7" stroke="#404040" stroke-width="0.8"/>
<line x1="325.5" y1="346.9" x2="325.5" y2="344.7" stroke="#404040" stroke-width="0.8"/>
<text x="323.3" y="311.6" font-size="10.4" fill="#222" stroke="#222" stroke-width="0.2" textLength="39.0" lengthAdjust="spacingAndGlyphs">Cy7-DPA</text>
<text x="325.2" y="324.1" font-size="10.4" fill="#222" stroke="#222" stroke-width="0.2" textLength="32.4" lengthAdjust="spacingAndGlyphs">300 cm</text>
<text x="358.7" y="320.0" font-size="5.0" fill="#222" stroke="#222" stroke-width="0.2" textLength="3.6" lengthAdjust="spacingAndGlyphs">-1</text>
<text x="215.2" y="315.9" font-size="10.4" font-style="italic" fill="#222" stroke="#222" stroke-width="0.25" textLength="4.1" lengthAdjust="spacingAndGlyphs">s</text>
<text x="221.6" y="315.9" font-size="10.4" fill="#222" stroke="#222" stroke-width="0.2" textLength="30.8" lengthAdjust="spacingAndGlyphs">= 5.0 Å</text>
<text x="240.4" y="356.8" font-size="10.4" fill="#222" stroke="#222" stroke-width="0.2" textLength="21.5" lengthAdjust="spacingAndGlyphs">9000</text>
<text x="315.0" y="356.8" font-size="10.4" fill="#222" stroke="#222" stroke-width="0.2" textLength="25.8" lengthAdjust="spacingAndGlyphs">11000</text>
<polygon points="233.2,407.4 233.2,407.5 233.7,407.3 234.2,407.0 234.7,406.7 235.2,406.4 235.7,406.0 236.0,405.8 236.2,405.7 236.7,405.3 237.2,404.8 237.7,404.4 238.2,403.8 238.7,403.2 238.8,403.0 239.2,402.3 239.7,401.1 240.2,399.7 240.6,398.5 240.7,398.2 241.2,396.6 241.7,394.9 242.2,393.0 242.3,392.6 242.7,391.1 243.2,389.1 243.7,387.0 244.2,384.9 244.7,383.0 244.9,382.2 245.2,381.3 245.7,379.6 246.2,378.0 246.7,376.6 247.2,375.2 247.5,374.4 247.7,374.0 248.2,372.9 248.7,371.9 249.2,371.1 249.2,371.0 249.7,370.2 250.2,369.5 250.7,368.8 251.0,368.4 251.2,368.2 251.7,367.8 252.2,367.4 252.7,367.0 253.0,366.8 253.2,366.7 253.7,366.4 254.2,366.2 254.7,366.0 255.2,365.8 255.3,365.8 255.7,365.7 256.2,365.6 256.7,365.4 257.2,365.3 257.7,365.2 258.2,365.1 258.7,365.1 259.2,365.0 259.6,364.9 259.7,364.9 260.1,364.8 260.6,364.7 261.1,364.7 261.6,364.6 262.0,364.6 262.1,364.6 262.6,364.6 263.1,364.5 263.6,364.5 264.1,364.5 264.6,364.5 265.0,364.5 265.1,364.5 265.6,364.5 266.1,364.5 266.6,364.6 267.1,364.6 267.6,364.7 268.1,364.8 268.6,364.8 269.1,364.9 269.5,365.0 269.6,365.0 270.1,365.2 270.6,365.4 271.1,365.7 271.6,366.0 272.1,366.3 272.5,366.5 272.6,366.6 273.1,366.9 273.6,367.3 274.1,367.7 274.6,368.1 275.1,368.6 275.6,369.0 275.8,369.2 276.1,369.5 276.6,370.0 277.1,370.5 277.6,371.0 278.1,371.5 278.6,372.1 279.1,372.6 279.6,373.1 280.0,373.5 280.1,373.6 280.6,374.1 281.1,374.6 281.6,375.1 282.1,375.6 282.6,376.1 283.1,376.6 283.6,377.1 284.1,377.5 284.2,377.6 284.6,377.9 285.1,378.3 285.6,378.7 286.1,379.1 286.6,379.5 287.1,379.9 287.6,380.2 288.1,380.5 288.5,380.8 288.6,380.9 289.1,381.2 289.6,381.4 290.1,381.7 290.6,382.0 291.1,382.2 291.6,382.5 292.1,382.7 292.6,383.0 292.6,383.0 293.1,383.3 293.6,383.5 294.1,383.8 294.6,384.1 295.1,384.4 295.6,384.7 296.1,385.0 296.6,385.3 297.0,385.5 297.1,385.5 297.6,385.9 298.1,386.3 298.6,386.6 299.1,387.0 299.6,387.4 300.1,387.7 300.6,387.9 301.0,388.0 301.1,388.0 301.6,388.1 302.1,388.2 302.6,388.2 303.1,388.3 303.6,388.4 304.1,388.4 304.6,388.5 305.1,388.5 305.6,388.5 306.0,388.5 306.1,388.5 306.6,388.5 307.1,388.5 307.6,388.4 308.1,388.4 308.6,388.4 309.1,388.3 309.6,388.3 310.1,388.3 310.6,388.2 311.1,388.2 311.6,388.2 311.6,388.2 312.1,388.2 312.6,388.3 313.1,388.4 313.5,388.5 314.0,388.7 314.5,388.8 315.0,389.0 315.5,389.2 316.0,389.4 316.5,389.6 317.0,389.8 317.0,389.8 317.5,390.0 318.0,390.3 318.5,390.5 319.0,390.8 319.5,391.1 320.0,391.4 320.5,391.6 321.0,391.9 321.5,392.2 322.0,392.4 322.0,392.4 322.5,392.6 323.0,392.9 323.5,393.1 324.0,393.3 324.5,393.5 325.0,393.7 325.5,393.9 326.0,394.1 326.5,394.3 327.0,394.5 327.0,394.5 327.5,394.7 328.0,394.9 328.5,395.0 329.0,395.2 329.5,395.3 330.0,395.5 330.5,395.7 331.0,395.8 331.5,396.1 332.0,396.3 332.5,396.6 332.6,396.6 333.0,396.9 333.5,397.3 334.0,397.8 334.5,398.4 335.0,399.0 335.0,399.0 335.5,399.7 336.0,400.5 336.5,401.3 336.8,401.8 337.0,402.1 337.5,403.0 338.0,403.9 338.5,404.8 338.5,404.8 339.0,405.7 339.5,406.6 340.0,407.5 340.0,407.4" fill="#cdcdcd" />
<polyline points="236.0,407.5 236.5,407.2 237.0,406.9 237.5,406.6 238.0,406.3 238.5,406.0 239.0,405.7 239.5,405.3 240.0,405.0 240.0,405.0 240.5,404.7 241.0,404.4 241.5,404.1 242.0,403.8 242.4,403.4 242.9,403.1 243.4,402.8 243.9,402.4 244.4,402.0 244.5,402.0 244.9,401.7 245.4,401.3 245.9,400.9 246.4,400.5 246.9,400.1 247.4,399.7 247.9,399.2 248.4,398.7 248.4,398.7 248.9,398.1 249.4,397.5 249.9,396.9 250.4,396.2 250.9,395.5 251.4,394.7 251.8,394.0 251.9,393.9 252.4,393.0 252.9,392.1 253.4,391.2 253.9,390.1 254.4,389.0 254.7,388.2 254.9,387.8 255.3,386.5 255.8,385.0 256.3,383.3 256.8,381.6 257.0,381.0 257.3,379.7 257.8,377.6 258.3,375.3 258.8,373.1 259.0,372.4 259.3,371.0 259.8,368.9 260.3,367.0 260.5,366.5 260.8,365.7 261.3,364.6 261.8,364.0 261.9,364.0 262.3,364.3 262.8,365.4 263.2,366.5 263.3,366.8 263.8,368.9 264.3,371.7 264.8,374.4 264.8,374.5 265.3,376.9 265.8,379.5 266.3,382.0 266.8,384.4 267.3,386.5 267.4,387.0 267.8,388.2 268.2,389.8 268.7,391.3 269.2,392.6 269.7,393.8 269.8,394.0 270.2,395.0 270.7,396.2 271.2,397.3 271.7,398.3 272.2,399.2 272.6,399.7 272.7,399.8 273.2,400.4 273.7,401.0 274.2,401.4 274.7,401.9 275.2,402.3 275.7,402.6 276.0,402.8 276.2,402.9 276.7,403.2 277.2,403.5 277.7,403.7 278.2,403.9 278.7,404.1 279.2,404.3 279.7,404.5 280.0,404.6 280.2,404.6 280.7,404.8 281.1,404.9 281.6,405.0 282.1,405.1 282.6,405.3 283.1,405.4 283.6,405.5 284.1,405.5 284.6,405.6 285.0,405.7 285.1,405.7 285.6,405.8 286.1,405.9 286.6,406.0 287.1,406.1 287.6,406.1 288.1,406.2 288.6,406.3 289.1,406.4 289.6,406.4 290.1,406.5 290.5,406.5 290.6,406.5 291.1,406.5 291.6,406.6 292.1,406.6 292.6,406.7 293.1,406.7 293.6,406.7 294.0,406.8 294.5,406.8 295.0,406.8 295.5,406.9 296.0,406.9 296.5,406.9 297.0,406.9 297.5,407.0 298.0,407.0 298.5,407.0 299.0,407.0 299.5,407.0 300.0,407.0" fill="none" stroke="#7a5aa6" stroke-width="1.0" stroke-linejoin="round" />
<polyline points="233.7,407.5 234.2,407.4 234.7,407.3 235.2,407.2 235.7,407.1 236.2,407.0 236.7,406.9 237.2,406.8 237.7,406.8 238.2,406.7 238.7,406.6 239.2,406.5 239.7,406.4 240.0,406.3 240.2,406.3 240.7,406.2 241.2,406.1 241.7,406.0 242.2,405.9 242.7,405.8 243.2,405.7 243.7,405.6 244.2,405.5 244.7,405.4 245.2,405.3 245.7,405.2 246.1,405.0 246.3,405.0 246.6,404.9 247.1,404.7 247.6,404.4 248.1,404.2 248.6,403.9 249.1,403.6 249.6,403.2 250.0,403.0 250.1,402.9 250.6,402.6 251.1,402.2 251.6,401.8 252.1,401.3 252.6,400.8 252.6,400.8 253.1,400.1 253.6,399.3 254.1,398.4 254.6,397.4 254.8,397.0 255.1,396.3 255.6,395.0 256.1,393.6 256.6,392.0 256.8,391.3 257.1,390.1 257.6,387.7 258.1,385.1 258.2,384.5 258.6,382.1 259.1,378.7 259.4,376.6 259.6,375.2 260.1,371.6 260.5,369.0 260.6,368.5 261.1,365.9 261.4,364.8 261.6,364.3 262.1,363.5 262.1,363.5 262.6,364.1 262.9,364.8 263.1,365.4 263.6,367.8 263.9,369.5 264.1,370.4 264.6,373.0 265.1,375.6 265.3,376.6 265.6,377.7 266.1,379.7 266.6,381.5 267.1,383.1 267.2,383.5 267.6,384.5 268.1,385.9 268.6,387.1 269.1,388.3 269.5,389.2 269.6,389.3 270.1,390.3 270.5,391.2 271.0,392.1 271.5,392.9 272.0,393.7 272.3,394.0 272.5,394.3 273.0,394.9 273.5,395.5 274.0,396.0 274.5,396.5 275.0,396.9 275.5,397.4 275.8,397.6 276.0,397.8 276.5,398.2 277.0,398.6 277.5,399.0 278.0,399.4 278.5,399.7 279.0,400.0 279.5,400.3 279.5,400.3 280.0,400.6 280.5,400.8 281.0,401.1 281.5,401.3 282.0,401.5 282.5,401.7 283.0,401.9 283.5,402.1 284.0,402.2 284.2,402.3 284.5,402.4 285.0,402.5 285.5,402.6 286.0,402.8 286.5,402.9 287.0,403.0 287.5,403.1 288.0,403.2 288.5,403.3 289.0,403.4 289.5,403.5 290.0,403.5 290.5,403.6 291.0,403.7 291.0,403.7 291.5,403.8 292.0,403.8 292.5,403.9 293.0,404.0 293.5,404.0 294.0,404.1 294.5,404.1 295.0,404.2 295.4,404.2 295.9,404.3 296.4,404.3 296.9,404.4 297.4,404.4 297.9,404.4 298.4,404.5 298.9,404.5 299.4,404.6 299.9,404.6 300.0,404.6 300.4,404.6 300.9,404.7 301.4,404.7 301.9,404.7 302.4,404.8 302.9,404.8 303.4,404.8 303.9,404.8 304.4,404.9 304.9,404.9 305.4,404.9 305.9,404.9 306.4,405.0 306.9,405.0 307.4,405.0" fill="none" stroke="#1a1a2a" stroke-width="1.2" stroke-linejoin="round" />
<rect x="210.9" y="361.0" width="153.2" height="46.4" fill="none" stroke="#404040" stroke-width="1"/>
<line x1="248" y1="407.4" x2="248" y2="405.2" stroke="#404040" stroke-width="0.8"/>
<line x1="325.4" y1="407.4" x2="325.4" y2="405.2" stroke="#404040" stroke-width="0.8"/>
<text x="323.2" y="372.5" font-size="10.4" fill="#222" stroke="#222" stroke-width="0.2" textLength="38.6" lengthAdjust="spacingAndGlyphs">Cy7-DPA</text>
<text x="324.8" y="384.7" font-size="10.4" fill="#222" stroke="#222" stroke-width="0.2" textLength="32.4" lengthAdjust="spacingAndGlyphs">300 cm</text>
<text x="358.3" y="380.6" font-size="5.0" fill="#222" stroke="#222" stroke-width="0.2" textLength="3.6" lengthAdjust="spacingAndGlyphs">-1</text>
<text x="215.2" y="374.6" font-size="10.4" font-style="italic" fill="#222" stroke="#222" stroke-width="0.25" textLength="4.1" lengthAdjust="spacingAndGlyphs">s</text>
<text x="221.6" y="374.6" font-size="10.4" fill="#222" stroke="#222" stroke-width="0.2" textLength="30.8" lengthAdjust="spacingAndGlyphs">= 5.5 Å</text>
<text x="238.1" y="419.6" font-size="10.4" fill="#222" stroke="#222" stroke-width="0.2" textLength="21.5" lengthAdjust="spacingAndGlyphs">9000</text>
<text x="313.1" y="419.6" font-size="10.4" fill="#222" stroke="#222" stroke-width="0.2" textLength="26.1" lengthAdjust="spacingAndGlyphs">11000</text>
<text x="257.3" y="429.9" font-size="10.4" fill="#222" stroke="#222" stroke-width="0.2" textLength="50.1" lengthAdjust="spacingAndGlyphs">Energy (cm</text>
<text x="308.3" y="426.3" font-size="5.2" fill="#222" stroke="#222" stroke-width="0.2" textLength="4.3" lengthAdjust="spacingAndGlyphs">-1</text>
<text x="313.5" y="429.9" font-size="10.4" fill="#222" stroke="#222" stroke-width="0.2" textLength="2.2" lengthAdjust="spacingAndGlyphs">)</text>
<text transform="translate(189.2,245.0) rotate(-90)" font-size="9.8" fill="#222" stroke="#222" stroke-width="0.2" textLength="73.7" lengthAdjust="spacingAndGlyphs">Density of states</text>
<text x="384.7" y="9.6" font-size="10.8" fill="#111" stroke="#111" stroke-width="0.22" textLength="5.2" lengthAdjust="spacingAndGlyphs">e</text>
<rect x="405.0" y="31.7" width="25.4" height="6.8" fill="#e2555e" stroke="#8c1c22" stroke-width="0.9"/>
<line x1="406.6" y1="35.1" x2="424.9" y2="35.1" stroke="#120a14" stroke-width="1"/>
<polygon points="427.8,35.1 423.0,32.4 423.0,37.8" fill="#120a14"/>
<rect x="432.3" y="31.7" width="25.6" height="6.8" fill="#e2555e" stroke="#8c1c22" stroke-width="0.9"/>
<line x1="433.9" y1="35.1" x2="452.4" y2="35.1" stroke="#120a14" stroke-width="1"/>
<polygon points="455.3,35.1 450.5,32.4 450.5,37.8" fill="#120a14"/>
<rect x="414.6" y="41.0" width="25.4" height="7.0" fill="#e2555e" stroke="#8c1c22" stroke-width="0.9"/>
<line x1="416.2" y1="44.5" x2="434.5" y2="44.5" stroke="#120a14" stroke-width="1"/>
<polygon points="437.4,44.5 432.6,41.8 432.6,47.2" fill="#120a14"/>
<rect x="441.2" y="41.0" width="25.3" height="7.0" fill="#e2555e" stroke="#8c1c22" stroke-width="0.9"/>
<line x1="442.8" y1="44.5" x2="461.0" y2="44.5" stroke="#120a14" stroke-width="1"/>
<polygon points="463.9,44.5 459.1,41.8 459.1,47.2" fill="#120a14"/>
<line x1="390.6" y1="37.9" x2="401.5" y2="37.9" stroke="#8498a6" stroke-width="0.9" stroke-dasharray="1,1.8"/>
<line x1="461.7" y1="37.9" x2="474.5" y2="37.9" stroke="#8498a6" stroke-width="0.9" stroke-dasharray="1,1.8"/>
<line x1="406.8" y1="23.8" x2="410.0" y2="27.2" stroke="#90a8ba" stroke-width="0.9" stroke-dasharray="1,1.5"/>
<line x1="445.2" y1="50.0" x2="448.6" y2="52.8" stroke="#90a8ba" stroke-width="0.9" stroke-dasharray="1,1.5"/>
<rect x="405.0" y="87.9" width="25.4" height="7.1" fill="#e2555e" stroke="#8c1c22" stroke-width="0.9"/>
<line x1="406.6" y1="91.5" x2="424.9" y2="91.5" stroke="#120a14" stroke-width="1"/>
<polygon points="427.8,91.5 423.0,88.8 423.0,94.2" fill="#120a14"/>
<rect x="432.3" y="87.9" width="25.6" height="7.1" fill="#e2555e" stroke="#8c1c22" stroke-width="0.9"/>
<line x1="433.9" y1="91.5" x2="452.4" y2="91.5" stroke="#120a14" stroke-width="1"/>
<polygon points="455.3,91.5 450.5,88.8 450.5,94.2" fill="#120a14"/>
<rect x="414.6" y="96.9" width="25.4" height="7.3" fill="#e2555e" stroke="#8c1c22" stroke-width="0.9"/>
<line x1="416.2" y1="100.6" x2="434.5" y2="100.6" stroke="#120a14" stroke-width="1"/>
<polygon points="437.4,100.6 432.6,97.9 432.6,103.3" fill="#120a14"/>
<rect x="441.2" y="96.9" width="25.3" height="7.3" fill="#e2555e" stroke="#8c1c22" stroke-width="0.9"/>
<line x1="442.8" y1="100.6" x2="461.0" y2="100.6" stroke="#120a14" stroke-width="1"/>
<polygon points="463.9,100.6 459.1,97.9 459.1,103.3" fill="#120a14"/>
<line x1="390.6" y1="94.0" x2="401.5" y2="94.0" stroke="#8498a6" stroke-width="0.9" stroke-dasharray="1,1.8"/>
<line x1="461.7" y1="94.0" x2="474.5" y2="94.0" stroke="#8498a6" stroke-width="0.9" stroke-dasharray="1,1.8"/>
<line x1="420.2" y1="81.0" x2="423.5" y2="84.0" stroke="#90a8ba" stroke-width="0.9" stroke-dasharray="1,1.5"/>
<line x1="445.2" y1="105.4" x2="448.5" y2="108.6" stroke="#90a8ba" stroke-width="0.9" stroke-dasharray="1,1.5"/>
<rect x="405.0" y="141.9" width="25.4" height="7.1" fill="#e2555e" stroke="#8c1c22" stroke-width="0.9"/>
<line x1="406.6" y1="145.4" x2="424.9" y2="145.4" stroke="#120a14" stroke-width="1"/>
<polygon points="427.8,145.4 423.0,142.8 423.0,148.1" fill="#120a14"/>
<rect x="432.3" y="141.9" width="25.6" height="7.1" fill="#e2555e" stroke="#8c1c22" stroke-width="0.9"/>
<line x1="433.9" y1="145.4" x2="452.4" y2="145.4" stroke="#120a14" stroke-width="1"/>
<polygon points="455.3,145.4 450.5,142.8 450.5,148.1" fill="#120a14"/>
<rect x="414.6" y="151.3" width="25.4" height="7.4" fill="#e2555e" stroke="#8c1c22" stroke-width="0.9"/>
<line x1="416.2" y1="155.0" x2="434.5" y2="155.0" stroke="#120a14" stroke-width="1"/>
<polygon points="437.4,155.0 432.6,152.3 432.6,157.7" fill="#120a14"/>
<rect x="441.2" y="151.3" width="25.3" height="7.4" fill="#e2555e" stroke="#8c1c22" stroke-width="0.9"/>
<line x1="442.8" y1="155.0" x2="461.0" y2="155.0" stroke="#120a14" stroke-width="1"/>
<polygon points="463.9,155.0 459.1,152.3 459.1,157.7" fill="#120a14"/>
<line x1="390.6" y1="148.5" x2="401.5" y2="148.5" stroke="#8498a6" stroke-width="0.9" stroke-dasharray="1,1.8"/>
<line x1="461.7" y1="148.5" x2="474.5" y2="148.5" stroke="#8498a6" stroke-width="0.9" stroke-dasharray="1,1.8"/>
<line x1="421.0" y1="134.4" x2="423.6" y2="137.6" stroke="#90a8ba" stroke-width="0.9" stroke-dasharray="1,1.5"/>
<line x1="445.2" y1="159.6" x2="448.5" y2="163.0" stroke="#90a8ba" stroke-width="0.9" stroke-dasharray="1,1.5"/>
<rect x="403.5" y="193.7" width="31.9" height="7.3" fill="#bd3f86" stroke="#5e1240" stroke-width="0.9"/>
<line x1="405.1" y1="197.3" x2="429.9" y2="197.3" stroke="#120a14" stroke-width="1"/>
<polygon points="432.8,197.3 428.0,194.7 428.0,200.0" fill="#120a14"/>
<rect x="437.7" y="193.7" width="31.7" height="7.3" fill="#bd3f86" stroke="#5e1240" stroke-width="0.9"/>
<line x1="439.3" y1="197.3" x2="463.9" y2="197.3" stroke="#120a14" stroke-width="1"/>
<polygon points="466.8,197.3 462.0,194.7 462.0,200.0" fill="#120a14"/>
<rect x="412.7" y="202.9" width="30.8" height="7.7" fill="#bd3f86" stroke="#5e1240" stroke-width="0.9"/>
<line x1="414.3" y1="206.8" x2="438.0" y2="206.8" stroke="#120a14" stroke-width="1"/>
<polygon points="440.9,206.8 436.1,204.1 436.1,209.4" fill="#120a14"/>
<rect x="444.4" y="202.9" width="32.5" height="7.7" fill="#bd3f86" stroke="#5e1240" stroke-width="0.9"/>
<line x1="446.0" y1="206.8" x2="471.4" y2="206.8" stroke="#120a14" stroke-width="1"/>
<polygon points="474.3,206.8 469.5,204.1 469.5,209.4" fill="#120a14"/>
<line x1="384.8" y1="200.1" x2="400.5" y2="200.1" stroke="#8498a6" stroke-width="0.9" stroke-dasharray="1,1.8"/>
<line x1="472.0" y1="200.1" x2="490.5" y2="200.1" stroke="#8498a6" stroke-width="0.9" stroke-dasharray="1,1.8"/>
<line x1="423.0" y1="186.5" x2="426.5" y2="189.7" stroke="#90a8ba" stroke-width="0.9" stroke-dasharray="1,1.5"/>
<line x1="450.5" y1="211.8" x2="457.0" y2="216.8" stroke="#90a8ba" stroke-width="0.9" stroke-dasharray="1,1.5"/>
<rect x="407.2" y="259.9" width="36.3" height="7.4" fill="#885fb1" stroke="#43286e" stroke-width="0.9"/>
<line x1="408.8" y1="263.6" x2="438.0" y2="263.6" stroke="#120a14" stroke-width="1"/>
<polygon points="440.9,263.6 436.1,260.9 436.1,266.3" fill="#120a14"/>
<rect x="446.2" y="259.9" width="36.5" height="7.4" fill="#885fb1" stroke="#43286e" stroke-width="0.9"/>
<line x1="447.8" y1="263.6" x2="477.2" y2="263.6" stroke="#120a14" stroke-width="1"/>
<polygon points="480.1,263.6 475.3,260.9 475.3,266.3" fill="#120a14"/>
<rect x="418.0" y="269.2" width="36.3" height="7.3" fill="#885fb1" stroke="#43286e" stroke-width="0.9"/>
<line x1="419.6" y1="272.9" x2="448.8" y2="272.9" stroke="#120a14" stroke-width="1"/>
<polygon points="451.7,272.9 446.9,270.2 446.9,275.6" fill="#120a14"/>
<rect x="455.7" y="269.2" width="36.3" height="7.3" fill="#885fb1" stroke="#43286e" stroke-width="0.9"/>
<line x1="457.3" y1="272.9" x2="486.5" y2="272.9" stroke="#120a14" stroke-width="1"/>
<polygon points="489.4,272.9 484.6,270.2 484.6,275.6" fill="#120a14"/>
<line x1="388.0" y1="265.7" x2="403.5" y2="265.7" stroke="#8498a6" stroke-width="0.9" stroke-dasharray="1,1.8"/>
<line x1="486.0" y1="265.7" x2="503.0" y2="265.7" stroke="#8498a6" stroke-width="0.9" stroke-dasharray="1,1.8"/>
<line x1="428.5" y1="251.5" x2="433.5" y2="256.5" stroke="#90a8ba" stroke-width="0.9" stroke-dasharray="1,1.5"/>
<line x1="461.0" y1="277.6" x2="468.5" y2="283.5" stroke="#90a8ba" stroke-width="0.9" stroke-dasharray="1,1.5"/>
<rect x="403.0" y="310.3" width="36.5" height="6.7" fill="#885fb1" stroke="#43286e" stroke-width="0.9"/>
<line x1="404.6" y1="313.6" x2="434.0" y2="313.6" stroke="#120a14" stroke-width="1"/>
<polygon points="436.9,313.6 432.1,310.9 432.1,316.3" fill="#120a14"/>
<rect x="442.3" y="310.3" width="36.2" height="6.7" fill="#885fb1" stroke="#43286e" stroke-width="0.9"/>
<line x1="443.9" y1="313.6" x2="473.0" y2="313.6" stroke="#120a14" stroke-width="1"/>
<polygon points="475.9,313.6 471.1,310.9 471.1,316.3" fill="#120a14"/>
<rect x="414.2" y="318.8" width="35.8" height="7.4" fill="#885fb1" stroke="#43286e" stroke-width="0.9"/>
<line x1="415.8" y1="322.5" x2="444.5" y2="322.5" stroke="#120a14" stroke-width="1"/>
<polygon points="447.4,322.5 442.6,319.8 442.6,325.2" fill="#120a14"/>
<rect x="451.0" y="318.8" width="36.8" height="7.4" fill="#885fb1" stroke="#43286e" stroke-width="0.9"/>
<line x1="452.6" y1="322.5" x2="482.3" y2="322.5" stroke="#120a14" stroke-width="1"/>
<polygon points="485.2,322.5 480.4,319.8 480.4,325.2" fill="#120a14"/>
<line x1="384.6" y1="315.8" x2="400.0" y2="315.8" stroke="#8498a6" stroke-width="0.9" stroke-dasharray="1,1.8"/>
<line x1="482.0" y1="315.8" x2="500.5" y2="315.8" stroke="#8498a6" stroke-width="0.9" stroke-dasharray="1,1.8"/>
<line x1="424.5" y1="301.0" x2="430.5" y2="306.5" stroke="#90a8ba" stroke-width="0.9" stroke-dasharray="1,1.5"/>
<line x1="456.5" y1="327.5" x2="463.5" y2="333.0" stroke="#90a8ba" stroke-width="0.9" stroke-dasharray="1,1.5"/>
<rect x="404.2" y="368.0" width="36.5" height="7.0" fill="#885fb1" stroke="#43286e" stroke-width="0.9"/>
<line x1="405.8" y1="371.5" x2="435.2" y2="371.5" stroke="#120a14" stroke-width="1"/>
<polygon points="438.1,371.5 433.3,368.8 433.3,374.2" fill="#120a14"/>
<rect x="443.5" y="368.0" width="36.5" height="7.0" fill="#885fb1" stroke="#43286e" stroke-width="0.9"/>
<line x1="445.1" y1="371.5" x2="474.5" y2="371.5" stroke="#120a14" stroke-width="1"/>
<polygon points="477.4,371.5 472.6,368.8 472.6,374.2" fill="#120a14"/>
<rect x="422.7" y="377.0" width="36.3" height="7.0" fill="#885fb1" stroke="#43286e" stroke-width="0.9"/>
<line x1="424.3" y1="380.5" x2="453.5" y2="380.5" stroke="#120a14" stroke-width="1"/>
<polygon points="456.4,380.5 451.6,377.8 451.6,383.2" fill="#120a14"/>
<rect x="460.0" y="377.0" width="36.5" height="7.0" fill="#885fb1" stroke="#43286e" stroke-width="0.9"/>
<line x1="461.6" y1="380.5" x2="491.0" y2="380.5" stroke="#120a14" stroke-width="1"/>
<polygon points="493.9,380.5 489.1,377.8 489.1,383.2" fill="#120a14"/>
<line x1="385.8" y1="373.8" x2="401.0" y2="373.8" stroke="#8498a6" stroke-width="0.9" stroke-dasharray="1,1.8"/>
<line x1="484.0" y1="373.8" x2="501.0" y2="373.8" stroke="#8498a6" stroke-width="0.9" stroke-dasharray="1,1.8"/>
<line x1="426.0" y1="359.5" x2="431.5" y2="364.5" stroke="#90a8ba" stroke-width="0.9" stroke-dasharray="1,1.5"/>
<line x1="466.0" y1="385.2" x2="473.5" y2="391.0" stroke="#90a8ba" stroke-width="0.9" stroke-dasharray="1,1.5"/>
<path d="M403.2 320 V324.8 M403.2 322.4 H414.2" stroke="#111" stroke-width="0.9" fill="none"/>
<text x="405.6" y="330.0" font-size="10.4" font-style="italic" fill="#111" stroke="#111" stroke-width="0.25" textLength="4.2" lengthAdjust="spacingAndGlyphs">s</text>
<path d="M404.6 378 V383.2 M404.6 380.6 H422.7" stroke="#111" stroke-width="0.9" fill="none"/>
<text x="411.2" y="388.2" font-size="10.4" font-style="italic" fill="#111" stroke="#111" stroke-width="0.25" textLength="4.2" lengthAdjust="spacingAndGlyphs">s</text>
<text transform="translate(490.6,110.0) rotate(-90)" font-size="9.2" fill="#222" stroke="#222" stroke-width="0.2" textLength="57.6" lengthAdjust="spacingAndGlyphs">J-aggregates</text>
<text transform="translate(500.9,229.0) rotate(-90)" font-size="9.2" fill="#222" stroke="#222" stroke-width="0.2" textLength="52.1" lengthAdjust="spacingAndGlyphs">I-aggregate</text>
<text transform="translate(517.0,348.3) rotate(-90)" font-size="9.2" fill="#222" stroke="#222" stroke-width="0.2" textLength="57.7" lengthAdjust="spacingAndGlyphs">I-aggregates</text>
</svg>
</body></html>
